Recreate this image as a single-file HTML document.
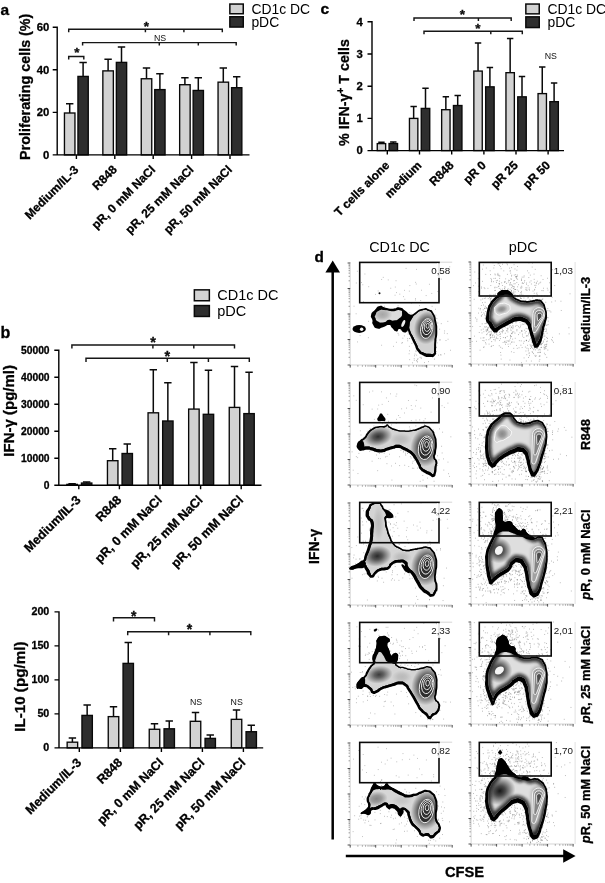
<!DOCTYPE html>
<html lang="en"><head><meta charset="utf-8"><title>Figure</title>
<style>html,body{margin:0;padding:0;background:#fff}svg{display:block}text{font-family:'Liberation Sans', sans-serif}</style>
</head><body>
<svg width="605" height="883" viewBox="0 0 605 883">
<rect width="605" height="883" fill="#fff"/>
<g id="panel-a">
<text x=".4" y="14.8" font-size="15.5" font-weight="bold" stroke="#000" stroke-width=".3">a</text>
<path d="M69.7 113V103.64M66 103.64h7.4" fill="none" stroke="#0a0a0a" stroke-width="1.5"/>
<rect x="64.45" y="113" width="10.5" height="41.9" fill="#d2d2d2" stroke="#080808" stroke-width="1.35"/>
<path d="M83.1 76.41V62.59M79.4 62.59h7.4" fill="none" stroke="#0a0a0a" stroke-width="1.5"/>
<rect x="77.95" y="76.41" width="10.3" height="78.49" fill="#2e2e2e" stroke="#080808" stroke-width="1.35"/>
<path d="M108.1 70.88V59.19M104.4 59.19h7.4" fill="none" stroke="#0a0a0a" stroke-width="1.5"/>
<rect x="102.85" y="70.88" width="10.5" height="84.02" fill="#d2d2d2" stroke="#080808" stroke-width="1.35"/>
<path d="M121.5 62.38V47.06M117.8 47.06h7.4" fill="none" stroke="#0a0a0a" stroke-width="1.5"/>
<rect x="116.35" y="62.38" width="10.3" height="92.52" fill="#2e2e2e" stroke="#080808" stroke-width="1.35"/>
<path d="M146.5 78.75V67.91M142.8 67.91h7.4" fill="none" stroke="#0a0a0a" stroke-width="1.5"/>
<rect x="141.25" y="78.75" width="10.5" height="76.15" fill="#d2d2d2" stroke="#080808" stroke-width="1.35"/>
<path d="M159.9 89.6V73.65M156.2 73.65h7.4" fill="none" stroke="#0a0a0a" stroke-width="1.5"/>
<rect x="154.75" y="89.6" width="10.3" height="65.3" fill="#2e2e2e" stroke="#080808" stroke-width="1.35"/>
<path d="M184.9 84.71V77.69M181.2 77.69h7.4" fill="none" stroke="#0a0a0a" stroke-width="1.5"/>
<rect x="179.65" y="84.71" width="10.5" height="70.19" fill="#d2d2d2" stroke="#080808" stroke-width="1.35"/>
<path d="M198.3 90.45V77.69M194.6 77.69h7.4" fill="none" stroke="#0a0a0a" stroke-width="1.5"/>
<rect x="193.15" y="90.45" width="10.3" height="64.45" fill="#2e2e2e" stroke="#080808" stroke-width="1.35"/>
<path d="M223.3 82.16V68.12M219.6 68.12h7.4" fill="none" stroke="#0a0a0a" stroke-width="1.5"/>
<rect x="218.05" y="82.16" width="10.5" height="72.74" fill="#d2d2d2" stroke="#080808" stroke-width="1.35"/>
<path d="M236.7 87.69V76.84M233 76.84h7.4" fill="none" stroke="#0a0a0a" stroke-width="1.5"/>
<rect x="231.55" y="87.69" width="10.3" height="67.21" fill="#2e2e2e" stroke="#080808" stroke-width="1.35"/>
<path d="M57.2 26.58V154.9H249.5M57.2 154.9h-4.5M57.2 112.36h-4.5M57.2 69.82h-4.5M57.2 27.28h-4.5M76.4 154.9v4M114.8 154.9v4M153.2 154.9v4M191.6 154.9v4M230 154.9v4" fill="none" stroke="#000" stroke-width="1.4"/>
<text x="49.3" y="158.67" font-size="11.3" font-weight="bold" stroke="#000" stroke-width=".3" text-anchor="end">0</text>
<text x="49.3" y="116.13" font-size="11.3" font-weight="bold" stroke="#000" stroke-width=".3" text-anchor="end">20</text>
<text x="49.3" y="73.59" font-size="11.3" font-weight="bold" stroke="#000" stroke-width=".3" text-anchor="end">40</text>
<text x="49.3" y="31.05" font-size="11.3" font-weight="bold" stroke="#000" stroke-width=".3" text-anchor="end">60</text>
<text transform="translate(79.2 170.4) rotate(-45)" font-size="12" font-weight="bold" stroke="#000" stroke-width=".3" text-anchor="end">Medium/IL-3</text>
<text transform="translate(117.6 170.4) rotate(-45)" font-size="12" font-weight="bold" stroke="#000" stroke-width=".3" text-anchor="end">R848</text>
<text transform="translate(156 170.4) rotate(-45)" font-size="12" font-weight="bold" stroke="#000" stroke-width=".3" text-anchor="end">pR, 0 mM NaCl</text>
<text transform="translate(194.4 170.4) rotate(-45)" font-size="12" font-weight="bold" stroke="#000" stroke-width=".3" text-anchor="end">pR, 25 mM NaCl</text>
<text transform="translate(232.8 170.4) rotate(-45)" font-size="12" font-weight="bold" stroke="#000" stroke-width=".3" text-anchor="end">pR, 50 mM NaCl</text>
<text transform="translate(29.6 86.8) rotate(-90)" font-size="14.3" font-weight="bold" stroke="#000" stroke-width=".3" text-anchor="middle">Proliferating cells (%)</text>
<path d="M68.7 32.3V29.3H222.3V32.3M145.4 29.3v3M183.9 29.3v3" fill="none" stroke="#161616" stroke-width="1.45"/>
<text x="146.3" y="30.59" font-size="13.5" font-weight="bold" stroke="#000" stroke-width=".3" text-anchor="middle" fill="#111">*</text>
<path d="M82.6 45.6V42.6H236.2V45.6M159.3 42.6v3M198.3 42.6v3" fill="none" stroke="#161616" stroke-width="1.45"/>
<text x="160" y="41" font-size="8.8" text-anchor="middle" fill="#111">NS</text>
<path d="M68.7 59.5V56.5H83.8V59.5" fill="none" stroke="#161616" stroke-width="1.45"/>
<text x="76.8" y="57.48" font-size="13.5" font-weight="bold" stroke="#000" stroke-width=".3" text-anchor="middle" fill="#111">*</text>
<rect x="229.85" y="4.05" width="13.4" height="9.7" fill="#d2d2d2" stroke="#0a0a0a" stroke-width="1.5"/>
<rect x="229.85" y="16.75" width="13.4" height="10.3" fill="#2e2e2e" stroke="#0a0a0a" stroke-width="1.5"/>
<text x="251.4" y="13.7" font-size="13.9">CD1c DC</text>
<text x="251.4" y="26.7" font-size="13.9">pDC</text>
</g>
<g id="panel-c">
<text x="320.4" y="13.8" font-size="15.5" font-weight="bold" stroke="#000" stroke-width=".3">c</text>
<path d="M381.45 143.61V142.23M378.25 142.23h6.4" fill="none" stroke="#0a0a0a" stroke-width="1.5"/>
<rect x="377.25" y="143.61" width="8.4" height="6.99" fill="#d2d2d2" stroke="#080808" stroke-width="1.35"/>
<path d="M393.3 143.52V142.07M390.1 142.07h6.4" fill="none" stroke="#0a0a0a" stroke-width="1.5"/>
<rect x="389.05" y="143.52" width="8.5" height="7.08" fill="#2e2e2e" stroke="#080808" stroke-width="1.35"/>
<path d="M413.65 118.4V106.49M410.45 106.49h6.4" fill="none" stroke="#0a0a0a" stroke-width="1.5"/>
<rect x="409.45" y="118.4" width="8.4" height="32.2" fill="#d2d2d2" stroke="#080808" stroke-width="1.35"/>
<path d="M425.5 108.42V88.13M422.3 88.13h6.4" fill="none" stroke="#0a0a0a" stroke-width="1.5"/>
<rect x="421.25" y="108.42" width="8.5" height="42.18" fill="#2e2e2e" stroke="#080808" stroke-width="1.35"/>
<path d="M445.85 109.71V96.83M442.65 96.83h6.4" fill="none" stroke="#0a0a0a" stroke-width="1.5"/>
<rect x="441.65" y="109.71" width="8.4" height="40.89" fill="#d2d2d2" stroke="#080808" stroke-width="1.35"/>
<path d="M457.7 105.52V95.54M454.5 95.54h6.4" fill="none" stroke="#0a0a0a" stroke-width="1.5"/>
<rect x="453.45" y="105.52" width="8.5" height="45.08" fill="#2e2e2e" stroke="#080808" stroke-width="1.35"/>
<path d="M478.05 71.07V43.05M474.85 43.05h6.4" fill="none" stroke="#0a0a0a" stroke-width="1.5"/>
<rect x="473.85" y="71.07" width="8.4" height="79.53" fill="#d2d2d2" stroke="#080808" stroke-width="1.35"/>
<path d="M489.9 86.84V67.52M486.7 67.52h6.4" fill="none" stroke="#0a0a0a" stroke-width="1.5"/>
<rect x="485.65" y="86.84" width="8.5" height="63.76" fill="#2e2e2e" stroke="#080808" stroke-width="1.35"/>
<path d="M510.15 72.68V38.54M506.95 38.54h6.4" fill="none" stroke="#0a0a0a" stroke-width="1.5"/>
<rect x="505.95" y="72.68" width="8.4" height="77.92" fill="#d2d2d2" stroke="#080808" stroke-width="1.35"/>
<path d="M522 96.83V76.54M518.8 76.54h6.4" fill="none" stroke="#0a0a0a" stroke-width="1.5"/>
<rect x="517.75" y="96.83" width="8.5" height="53.77" fill="#2e2e2e" stroke="#080808" stroke-width="1.35"/>
<path d="M542.25 93.61V66.88M539.05 66.88h6.4" fill="none" stroke="#0a0a0a" stroke-width="1.5"/>
<rect x="538.05" y="93.61" width="8.4" height="56.99" fill="#d2d2d2" stroke="#080808" stroke-width="1.35"/>
<path d="M554.1 101.66V82.98M550.9 82.98h6.4" fill="none" stroke="#0a0a0a" stroke-width="1.5"/>
<rect x="549.85" y="101.66" width="8.5" height="48.94" fill="#2e2e2e" stroke="#080808" stroke-width="1.35"/>
<path d="M372 21.1V150.6H564M372 150.6h-4.5M372 118.4h-4.5M372 86.2h-4.5M372 54h-4.5M372 21.8h-4.5M387.3 150.6v4M419.5 150.6v4M451.7 150.6v4M483.9 150.6v4M516 150.6v4M548.1 150.6v4" fill="none" stroke="#000" stroke-width="1.4"/>
<text x="362.7" y="154.37" font-size="11.3" font-weight="bold" stroke="#000" stroke-width=".3" text-anchor="end">0</text>
<text x="362.7" y="122.17" font-size="11.3" font-weight="bold" stroke="#000" stroke-width=".3" text-anchor="end">1</text>
<text x="362.7" y="89.97" font-size="11.3" font-weight="bold" stroke="#000" stroke-width=".3" text-anchor="end">2</text>
<text x="362.7" y="57.77" font-size="11.3" font-weight="bold" stroke="#000" stroke-width=".3" text-anchor="end">3</text>
<text x="362.7" y="25.57" font-size="11.3" font-weight="bold" stroke="#000" stroke-width=".3" text-anchor="end">4</text>
<text transform="translate(390.1 166.1) rotate(-45)" font-size="12" font-weight="bold" stroke="#000" stroke-width=".3" text-anchor="end">T cells alone</text>
<text transform="translate(422.3 166.1) rotate(-45)" font-size="12" font-weight="bold" stroke="#000" stroke-width=".3" text-anchor="end">medium</text>
<text transform="translate(454.5 166.1) rotate(-45)" font-size="12" font-weight="bold" stroke="#000" stroke-width=".3" text-anchor="end">R848</text>
<text transform="translate(486.7 166.1) rotate(-45)" font-size="12" font-weight="bold" stroke="#000" stroke-width=".3" text-anchor="end">pR 0</text>
<text transform="translate(518.8 166.1) rotate(-45)" font-size="12" font-weight="bold" stroke="#000" stroke-width=".3" text-anchor="end">pR 25</text>
<text transform="translate(550.9 166.1) rotate(-45)" font-size="12" font-weight="bold" stroke="#000" stroke-width=".3" text-anchor="end">pR 50</text>
<text transform="translate(348.6 92.5) rotate(-90)" font-size="14.3" font-weight="bold" stroke="#000" stroke-width=".3" text-anchor="middle">% IFN-γ<tspan dy="-5" font-size="10">+</tspan><tspan dy="5"> T cells</tspan></text>
<path d="M414 20.9V17.9H511.2V20.9M478.4 17.9v3" fill="none" stroke="#161616" stroke-width="1.45"/>
<text x="462.4" y="18.88" font-size="13.5" font-weight="bold" stroke="#000" stroke-width=".3" text-anchor="middle" fill="#111">*</text>
<path d="M424 34.2V31.2H522.3V34.2M490.8 31.2v3" fill="none" stroke="#161616" stroke-width="1.45"/>
<text x="477.8" y="32.88" font-size="13.5" font-weight="bold" stroke="#000" stroke-width=".3" text-anchor="middle" fill="#111">*</text>
<text x="550.8" y="58.6" font-size="8.8" text-anchor="middle" fill="#111">NS</text>
<rect x="525.85" y="4.05" width="13.4" height="9.8" fill="#d2d2d2" stroke="#0a0a0a" stroke-width="1.5"/>
<rect x="525.85" y="16.85" width="13.4" height="10.7" fill="#2e2e2e" stroke="#0a0a0a" stroke-width="1.5"/>
<text x="547.5" y="13.7" font-size="13.9">CD1c DC</text>
<text x="547.5" y="26.7" font-size="13.9">pDC</text>
</g>
<g id="panel-b1">
<text x=".4" y="337.8" font-size="16" font-weight="bold" stroke="#000" stroke-width=".3">b</text>
<path d="M72.1 484.39V483.85M68.4 483.85h7.4" fill="none" stroke="#0a0a0a" stroke-width="1.5"/>
<rect x="66.85" y="484.39" width="10.5" height=".81" fill="#d2d2d2" stroke="#080808" stroke-width="1.35"/>
<path d="M86.65 483.04V482.09M82.95 482.09h7.4" fill="none" stroke="#0a0a0a" stroke-width="1.5"/>
<rect x="81.45" y="483.04" width="10.4" height="2.16" fill="#2e2e2e" stroke="#080808" stroke-width="1.35"/>
<path d="M112.7 460.7V448.8M109 448.8h7.4" fill="none" stroke="#0a0a0a" stroke-width="1.5"/>
<rect x="107.45" y="460.7" width="10.5" height="24.5" fill="#d2d2d2" stroke="#080808" stroke-width="1.35"/>
<path d="M127.25 453.5V444M123.55 444h7.4" fill="none" stroke="#0a0a0a" stroke-width="1.5"/>
<rect x="122.05" y="453.5" width="10.4" height="31.7" fill="#2e2e2e" stroke="#080808" stroke-width="1.35"/>
<path d="M153.3 412.81V369.69M149.6 369.69h7.4" fill="none" stroke="#0a0a0a" stroke-width="1.5"/>
<rect x="148.05" y="412.81" width="10.5" height="72.39" fill="#d2d2d2" stroke="#080808" stroke-width="1.35"/>
<path d="M167.85 420.99V382.79M164.15 382.79h7.4" fill="none" stroke="#0a0a0a" stroke-width="1.5"/>
<rect x="162.65" y="420.99" width="10.4" height="64.21" fill="#2e2e2e" stroke="#080808" stroke-width="1.35"/>
<path d="M193.9 409.09V362.51M190.2 362.51h7.4" fill="none" stroke="#0a0a0a" stroke-width="1.5"/>
<rect x="188.65" y="409.09" width="10.5" height="76.11" fill="#d2d2d2" stroke="#080808" stroke-width="1.35"/>
<path d="M208.45 414.3V370.18M204.75 370.18h7.4" fill="none" stroke="#0a0a0a" stroke-width="1.5"/>
<rect x="203.25" y="414.3" width="10.4" height="70.9" fill="#2e2e2e" stroke="#080808" stroke-width="1.35"/>
<path d="M234.5 407.41V366.51M230.8 366.51h7.4" fill="none" stroke="#0a0a0a" stroke-width="1.5"/>
<rect x="229.25" y="407.41" width="10.5" height="77.79" fill="#d2d2d2" stroke="#080808" stroke-width="1.35"/>
<path d="M249.05 413.6V372.2M245.35 372.2h7.4" fill="none" stroke="#0a0a0a" stroke-width="1.5"/>
<rect x="243.85" y="413.6" width="10.4" height="71.6" fill="#2e2e2e" stroke="#080808" stroke-width="1.35"/>
<path d="M58.8 349.5V485.2H261.5M58.8 485.2h-4.5M58.8 458.2h-4.5M58.8 431.2h-4.5M58.8 404.2h-4.5M58.8 377.2h-4.5M58.8 350.2h-4.5M78.8 485.2v4M119.4 485.2v4M160 485.2v4M200.6 485.2v4M241.2 485.2v4" fill="none" stroke="#000" stroke-width="1.4"/>
<text x="49.6" y="488.61" font-size="10.3" font-weight="bold" stroke="#000" stroke-width=".3" text-anchor="end">0</text>
<text x="49.6" y="461.61" font-size="10.3" font-weight="bold" stroke="#000" stroke-width=".3" text-anchor="end">10000</text>
<text x="49.6" y="434.61" font-size="10.3" font-weight="bold" stroke="#000" stroke-width=".3" text-anchor="end">20000</text>
<text x="49.6" y="407.61" font-size="10.3" font-weight="bold" stroke="#000" stroke-width=".3" text-anchor="end">30000</text>
<text x="49.6" y="380.61" font-size="10.3" font-weight="bold" stroke="#000" stroke-width=".3" text-anchor="end">40000</text>
<text x="49.6" y="353.61" font-size="10.3" font-weight="bold" stroke="#000" stroke-width=".3" text-anchor="end">50000</text>
<text transform="translate(81.6 500.7) rotate(-45)" font-size="12.7" font-weight="bold" stroke="#000" stroke-width=".3" text-anchor="end">Medium/IL-3</text>
<text transform="translate(122.2 500.7) rotate(-45)" font-size="12.7" font-weight="bold" stroke="#000" stroke-width=".3" text-anchor="end">R848</text>
<text transform="translate(162.8 500.7) rotate(-45)" font-size="12.7" font-weight="bold" stroke="#000" stroke-width=".3" text-anchor="end">pR, 0 mM NaCl</text>
<text transform="translate(203.4 500.7) rotate(-45)" font-size="12.7" font-weight="bold" stroke="#000" stroke-width=".3" text-anchor="end">pR, 25 mM NaCl</text>
<text transform="translate(244 500.7) rotate(-45)" font-size="12.7" font-weight="bold" stroke="#000" stroke-width=".3" text-anchor="end">pR, 50 mM NaCl</text>
<text transform="translate(13.6 410.8) rotate(-90)" font-size="15" font-weight="bold" stroke="#000" stroke-width=".3" text-anchor="middle">IFN-γ (pg/ml)</text>
<path d="M71.9 348.6V345H234.5V348.6M152.9 345v3.6M193.8 345v3.6" fill="none" stroke="#161616" stroke-width="1.45"/>
<text x="153" y="347.29" font-size="14.5" font-weight="bold" stroke="#000" stroke-width=".3" text-anchor="middle" fill="#111">*</text>
<path d="M86 361.9V358.3H249.3V361.9M167.3 358.3v3.6M208.4 358.3v3.6" fill="none" stroke="#161616" stroke-width="1.45"/>
<text x="167.4" y="361.19" font-size="14.5" font-weight="bold" stroke="#000" stroke-width=".3" text-anchor="middle" fill="#111">*</text>
<rect x="194.35" y="289.85" width="15" height="10.9" fill="#d2d2d2" stroke="#0a0a0a" stroke-width="1.5"/>
<rect x="194.35" y="305.55" width="15" height="10.9" fill="#2e2e2e" stroke="#0a0a0a" stroke-width="1.5"/>
<text x="217.3" y="300.4" font-size="14.5">CD1c DC</text>
<text x="217.3" y="315.7" font-size="14.5">pDC</text>
</g>
<g id="panel-b2">
<path d="M72.4 742.19V737.9M68.7 737.9h7.4" fill="none" stroke="#0a0a0a" stroke-width="1.5"/>
<rect x="67.15" y="742.19" width="10.5" height="5.71" fill="#d2d2d2" stroke="#080808" stroke-width="1.35"/>
<path d="M87.15 715.4V705.06M83.45 705.06h7.4" fill="none" stroke="#0a0a0a" stroke-width="1.5"/>
<rect x="81.95" y="715.4" width="10.4" height="32.5" fill="#2e2e2e" stroke="#080808" stroke-width="1.35"/>
<path d="M113.5 716.62V706.69M109.8 706.69h7.4" fill="none" stroke="#0a0a0a" stroke-width="1.5"/>
<rect x="108.25" y="716.62" width="10.5" height="31.28" fill="#d2d2d2" stroke="#080808" stroke-width="1.35"/>
<path d="M128.25 663.38V642.57M124.55 642.57h7.4" fill="none" stroke="#0a0a0a" stroke-width="1.5"/>
<rect x="123.05" y="663.38" width="10.4" height="84.52" fill="#2e2e2e" stroke="#080808" stroke-width="1.35"/>
<path d="M154.5 729.27V723.83M150.8 723.83h7.4" fill="none" stroke="#0a0a0a" stroke-width="1.5"/>
<rect x="149.25" y="729.27" width="10.5" height="18.63" fill="#d2d2d2" stroke="#080808" stroke-width="1.35"/>
<path d="M169.25 728.79V721.11M165.55 721.11h7.4" fill="none" stroke="#0a0a0a" stroke-width="1.5"/>
<rect x="164.05" y="728.79" width="10.4" height="19.11" fill="#2e2e2e" stroke="#080808" stroke-width="1.35"/>
<path d="M195.5 721.31V712.4M191.8 712.4h7.4" fill="none" stroke="#0a0a0a" stroke-width="1.5"/>
<rect x="190.25" y="721.31" width="10.5" height="26.59" fill="#d2d2d2" stroke="#080808" stroke-width="1.35"/>
<path d="M210.25 738.38V734.98M206.55 734.98h7.4" fill="none" stroke="#0a0a0a" stroke-width="1.5"/>
<rect x="205.05" y="738.38" width="10.4" height="9.52" fill="#2e2e2e" stroke="#080808" stroke-width="1.35"/>
<path d="M236.5 719.34V709.89M232.8 709.89h7.4" fill="none" stroke="#0a0a0a" stroke-width="1.5"/>
<rect x="231.25" y="719.34" width="10.5" height="28.56" fill="#d2d2d2" stroke="#080808" stroke-width="1.35"/>
<path d="M251.25 731.72V725.32M247.55 725.32h7.4" fill="none" stroke="#0a0a0a" stroke-width="1.5"/>
<rect x="246.05" y="731.72" width="10.4" height="16.18" fill="#2e2e2e" stroke="#080808" stroke-width="1.35"/>
<path d="M59 611.2V747.9H263.2M59 747.9h-4.5M59 713.9h-4.5M59 679.9h-4.5M59 645.9h-4.5M59 611.9h-4.5M79.3 747.9v4M120.4 747.9v4M161.4 747.9v4M202.4 747.9v4M243.4 747.9v4" fill="none" stroke="#000" stroke-width="1.4"/>
<text x="49.3" y="751.45" font-size="10.7" font-weight="bold" stroke="#000" stroke-width=".3" text-anchor="end">0</text>
<text x="49.3" y="717.45" font-size="10.7" font-weight="bold" stroke="#000" stroke-width=".3" text-anchor="end">50</text>
<text x="49.3" y="683.45" font-size="10.7" font-weight="bold" stroke="#000" stroke-width=".3" text-anchor="end">100</text>
<text x="49.3" y="649.45" font-size="10.7" font-weight="bold" stroke="#000" stroke-width=".3" text-anchor="end">150</text>
<text x="49.3" y="615.45" font-size="10.7" font-weight="bold" stroke="#000" stroke-width=".3" text-anchor="end">200</text>
<text transform="translate(82.1 763.4) rotate(-45)" font-size="12.5" font-weight="bold" stroke="#000" stroke-width=".3" text-anchor="end">Medium/IL-3</text>
<text transform="translate(123.2 763.4) rotate(-45)" font-size="12.5" font-weight="bold" stroke="#000" stroke-width=".3" text-anchor="end">R848</text>
<text transform="translate(164.2 763.4) rotate(-45)" font-size="12.5" font-weight="bold" stroke="#000" stroke-width=".3" text-anchor="end">pR, 0 mM NaCl</text>
<text transform="translate(205.2 763.4) rotate(-45)" font-size="12.5" font-weight="bold" stroke="#000" stroke-width=".3" text-anchor="end">pR, 25 mM NaCl</text>
<text transform="translate(246.2 763.4) rotate(-45)" font-size="12.5" font-weight="bold" stroke="#000" stroke-width=".3" text-anchor="end">pR, 50 mM NaCl</text>
<text transform="translate(24.5 686.7) rotate(-90)" font-size="15.2" font-weight="bold" stroke="#000" stroke-width=".3" text-anchor="middle">IL-10 (pg/ml)</text>
<path d="M113.5 621.4V617.8H154.5V621.4" fill="none" stroke="#161616" stroke-width="1.45"/>
<text x="133.7" y="620.74" font-size="14" font-weight="bold" stroke="#000" stroke-width=".3" text-anchor="middle" fill="#111">*</text>
<path d="M127.7 635.3V631.7H250.8V635.3M168.6 631.7v3.6M209.9 631.7v3.6" fill="none" stroke="#161616" stroke-width="1.45"/>
<text x="189.5" y="634.44" font-size="14" font-weight="bold" stroke="#000" stroke-width=".3" text-anchor="middle" fill="#111">*</text>
<text x="196" y="704.9" font-size="8.8" text-anchor="middle" fill="#111">NS</text>
<text x="236.7" y="704.9" font-size="8.8" text-anchor="middle" fill="#111">NS</text>
</g>
<g id="panel-d">
<defs><filter id="bl" x="-20%" y="-20%" width="140%" height="140%"><feGaussianBlur stdDeviation="7"/></filter></defs>
<text x="314.6" y="261.8" font-size="15.3" font-weight="bold" stroke="#000" stroke-width=".3">d</text>
<text x="399.6" y="252.4" font-size="14.4" text-anchor="middle">CD1c DC</text>
<text x="523.2" y="251.8" font-size="14.4" text-anchor="middle">pDC</text>
<path d="M332.7 839.5V268" fill="none" stroke="#000" stroke-width="2.5"/>
<path d="M332.7 260.6L340 272.4H325.4Z" fill="#000"/>
<path d="M345.8 856H566" fill="none" stroke="#000" stroke-width="2.3"/>
<path d="M575.6 856L563.2 849.2V862.8Z" fill="#000"/>
<text transform="translate(318.6 546.5) rotate(-90)" font-size="14" font-weight="bold" stroke="#000" stroke-width=".3" text-anchor="middle">IFN-γ</text>
<text x="464.5" y="877.4" font-size="14.7" font-weight="bold" stroke="#000" stroke-width=".3" text-anchor="middle">CFSE</text>
<path d="M350.2 262V365H452.2" fill="none" stroke="#c4c4c4" stroke-width=".7"/>
<path d="M350.2 365v2.6M350.2 365h-2.6M375.7 365v2.6M350.2 339.5h-2.6M401.2 365v2.6M350.2 314h-2.6M426.7 365v2.6M350.2 288.5h-2.6M452.2 365v2.6M350.2 263h-2.6" fill="none" stroke="#3a3a3a" stroke-width=".9"/>
<path d="M357.88 365.3v1.3M349.9 357.32h-1.3M362.37 365.3v1.3M349.9 352.83h-1.3M365.55 365.3v1.3M349.9 349.65h-1.3M368.02 365.3v1.3M349.9 347.18h-1.3M370.04 365.3v1.3M349.9 345.16h-1.3M371.75 365.3v1.3M349.9 343.45h-1.3M373.23 365.3v1.3M349.9 341.97h-1.3M374.53 365.3v1.3M349.9 340.67h-1.3M383.38 365.3v1.3M349.9 331.82h-1.3M387.87 365.3v1.3M349.9 327.33h-1.3M391.05 365.3v1.3M349.9 324.15h-1.3M393.52 365.3v1.3M349.9 321.68h-1.3M395.54 365.3v1.3M349.9 319.66h-1.3M397.25 365.3v1.3M349.9 317.95h-1.3M398.73 365.3v1.3M349.9 316.47h-1.3M400.03 365.3v1.3M349.9 315.17h-1.3M408.88 365.3v1.3M349.9 306.32h-1.3M413.37 365.3v1.3M349.9 301.83h-1.3M416.55 365.3v1.3M349.9 298.65h-1.3M419.02 365.3v1.3M349.9 296.18h-1.3M421.04 365.3v1.3M349.9 294.16h-1.3M422.75 365.3v1.3M349.9 292.45h-1.3M424.23 365.3v1.3M349.9 290.97h-1.3M425.53 365.3v1.3M349.9 289.67h-1.3M434.38 365.3v1.3M349.9 280.82h-1.3M438.87 365.3v1.3M349.9 276.33h-1.3M442.05 365.3v1.3M349.9 273.15h-1.3M444.52 365.3v1.3M349.9 270.68h-1.3M446.54 365.3v1.3M349.9 268.66h-1.3M448.25 365.3v1.3M349.9 266.95h-1.3M449.73 365.3v1.3M349.9 265.47h-1.3M451.03 365.3v1.3M349.9 264.17h-1.3" fill="none" stroke="#777" stroke-width=".8"/>
<path d="M439 262.2H452.2" fill="none" stroke="#c4c4c4" stroke-width=".7"/>
<path d="M383.23 277.39h.01M416.6 269.39h.01M404.86 299.3h.01M356.12 313.76h.01M354.02 306.23h.01M357.33 271.25h.01M393.5 346.34h.01M362.83 284.77h.01M414.2 358.67h.01M409.06 302.46h.01M449.78 266.75h.01M437.76 291.54h.01M364.91 274.01h.01M381.67 345.24h.01M368.63 321.32h.01M415.37 299.98h.01M406.07 268.4h.01M356.28 283.01h.01M419.6 305.61h.01M382.24 321.73h.01M396.42 292.58h.01M431.23 333.3h.01M396.36 342.29h.01M392.65 312.56h.01M407.14 323.13h.01M360.05 335.59h.01M411.26 337.24h.01M429.77 329.07h.01M398.06 305.81h.01M409.97 315.44h.01M384.34 306.29h.01M371.98 316.56h.01M426.13 295.55h.01M360.22 327.35h.01M429.84 332.1h.01M403.78 313.69h.01M368.33 337.68h.01M421.64 326.2h.01M401.1 330.08h.01M433.46 332.67h.01M407.65 331.67h.01M357.56 341.94h.01M418.12 331.41h.01M415.42 298.64h.01M395.05 295.21h.01M363.49 301.71h.01M415.65 282.35h.01M409.3 291.15h.01M403.57 296.6h.01M381.68 279.44h.01M429.37 284.29h.01M375.55 294.41h.01M441.23 279.11h.01M361.56 282.52h.01M396.03 280.72h.01M439.53 272.7h.01M435.5 270.05h.01M378.16 290.95h.01M431.8 293.45h.01M409.87 285.57h.01M404.47 290.33h.01M395.27 287.05h.01M416.24 284.01h.01M421.59 290.22h.01M388.23 279.9h.01M399.83 294.16h.01M390.78 288.24h.01M368.73 286.68h.01" fill="none" stroke="#808080" stroke-width=".58" stroke-linecap="round"/>
<path d="M417.4 319.54h.01M432.33 326.92h.01M441.1 354.94h.01M409.31 338.52h.01M429.05 315.18h.01M409.46 350.79h.01M428.12 348.17h.01M409.72 359.65h.01M437.86 323.01h.01M424.79 333.2h.01M431.62 313.05h.01M444.55 353.79h.01M417.41 359.3h.01M412.39 327.61h.01M417.34 349.73h.01M402.86 338.21h.01M417.83 313.56h.01M411.74 337.9h.01M414.52 355.81h.01M433.91 315.91h.01M402.59 324.21h.01M415.95 350.76h.01M440.38 354.78h.01M421.93 313.3h.01M412.73 327.83h.01M428.69 343.08h.01M423.53 320.41h.01M411.28 314.2h.01M434.27 334.3h.01M409.82 312.72h.01M447.24 333.65h.01M401.76 343.14h.01M425.96 350.03h.01M446 340.54h.01M420.73 300.52h.01M416.14 347.56h.01M430.54 321.17h.01M420.05 348.98h.01M408.92 330.23h.01M433.5 318.84h.01M415.98 351.63h.01M434.01 348.44h.01M418 317.34h.01M404.15 331.93h.01M407.73 340.81h.01M414.06 315.91h.01M411.64 303.14h.01M414.95 354.1h.01M421.21 358.57h.01M424.55 362.58h.01M412.64 362.82h.01M415.69 314.38h.01M416.26 335.43h.01M436.45 347.43h.01M426.82 309.85h.01M417.08 361.27h.01M413.92 323.33h.01M417.6 362.03h.01M416.74 320h.01M439.73 340.01h.01M407.53 326.41h.01M420.21 351.58h.01M418.46 323.96h.01M432.52 317.75h.01M417.98 358.79h.01M430.4 318.46h.01M409.81 338.43h.01M435.44 309.24h.01M436.91 318.65h.01M424.31 309.01h.01M439.69 329.23h.01M435.41 330.85h.01M428.55 361.64h.01M428.19 346.66h.01M403.86 331.05h.01M432.97 331.25h.01M419.88 344.68h.01M420.06 357.38h.01M415.12 316.35h.01M427.02 352.92h.01M448.06 339.24h.01M428.57 344.64h.01M421.17 357.28h.01M435.86 318.32h.01M431.03 347.16h.01M425.05 354.54h.01M418.42 322.97h.01M416.19 329.2h.01M425.32 349.02h.01M444.36 333.1h.01M416.66 355.16h.01M436.44 351.53h.01M436.52 340.85h.01M434.39 359.14h.01M416.25 347.64h.01M437.12 342.87h.01M434.77 322.23h.01M435.15 317.13h.01M403.28 324.05h.01M409.12 353.78h.01M450.44 350.26h.01M435.89 315.23h.01M404.3 335.83h.01M438.58 355.19h.01M411.89 343.41h.01M398.8 335.03h.01M440.22 339.85h.01M447.84 321.35h.01M441.24 323.66h.01M407.4 338.73h.01M444.65 330.94h.01M432.1 306.31h.01M421.59 322.54h.01M428.85 314.37h.01M433.97 302.63h.01M414.25 360.32h.01M434.86 326.07h.01M413.44 339.58h.01M417.49 311.29h.01M421.83 337.62h.01M398.07 333.38h.01M402.51 342.62h.01M409.33 346.34h.01M408.06 334.04h.01M432.4 350.25h.01M416.57 360.44h.01" fill="none" stroke="#777" stroke-width=".58" stroke-linecap="round"/>
<g transform="translate(320 240) scale(.24795)">
<circle cx="240" cy="215" r="4" fill="#111"/>
<ellipse cx="158" cy="359" rx="27" ry="16" fill="#000"/>
<ellipse cx="168" cy="360" rx="7" ry="7" fill="#f4f4f4"/>
<path d="M206 302C209 289 209 294 221 282C233 270 227 269 241 266C255 263 246 269 264 273C282 277 275 277 294 277C313 277 304 269 321 272C338 275 331 276 344 285C357 294 349 292 361 299C373 306 376 296 380 306C384 316 377 317 372 330C367 343 370 333 364 345C358 357 363 356 354 365C345 374 349 374 338 372C327 370 331 360 321 359C311 358 318 370 308 369C298 368 301 364 291 355C281 346 290 344 278 343C266 342 270 347 254 352C238 357 244 360 231 357C218 354 221 354 214 342C207 330 214 335 211 322C208 309 203 315 206 302Z" fill="#000"/>
<clipPath id="cl0"><path d="M224 302C229 292 225 291 238 285C251 279 245 282 264 283C283 284 275 287 294 287C313 287 309 280 321 283C333 286 331 284 331 295C331 306 332 305 321 315C310 325 312 323 298 325C284 327 291 320 278 322C265 324 273 330 258 332C243 334 245 335 234 329C223 323 227 324 224 315C221 306 219 312 224 302Z"/></clipPath>
<path d="M224 302C229 292 225 291 238 285C251 279 245 282 264 283C283 284 275 287 294 287C313 287 309 280 321 283C333 286 331 284 331 295C331 306 332 305 321 315C310 325 312 323 298 325C284 327 291 320 278 322C265 324 273 330 258 332C243 334 245 335 234 329C223 323 227 324 224 315C221 306 219 312 224 302Z" fill="#dcdcdc"/>
<g clip-path="url(#cl0)">
<radialGradient id="g1" gradientUnits="userSpaceOnUse" cx="252" cy="300" r="40" gradientTransform="translate(252 300) rotate(0) scale(1 .7) translate(-252 -300)"><stop offset="0" stop-color="#999" stop-opacity=".8"/><stop offset=".45" stop-color="#999" stop-opacity=".6"/><stop offset="1" stop-color="#999" stop-opacity="0"/></radialGradient>
<rect x="172" y="220" width="160" height="160" fill="url(#g1)"/>
</g>
<ellipse cx="336" cy="337" rx="6" ry="15" transform="rotate(22 336 337)" fill="#eee"/>
<clipPath id="c1o"><path d="M354 342C357 324 354 332 364 315C374 298 367 305 384 292C401 279 396 281 414 277C432 273 423 273 438 279C453 285 448 278 458 295C468 312 464 304 469 329C474 354 473 342 473 369C473 396 471 385 469 409C467 433 470 423 468 442C466 461 473 455 464 465C455 475 458 472 441 472C424 472 430 473 414 465C398 457 405 463 394 449C383 435 390 440 381 422C372 404 376 413 368 395C360 377 361 387 356 369C351 351 351 360 354 342Z"/></clipPath><clipPath id="c1"><path d="M361 343C363 327 361 334 370 318C379 303 373 309 388 297C403 285 399 287 415 283C431 279 423 280 436 285C448 290 444 284 453 299C461 314 458 307 462 330C467 354 466 343 466 369C466 395 463 384 462 409C460 433 462 425 460 441C459 458 463 453 457 459C450 464 453 460 441 459C428 458 432 461 419 455C406 450 412 455 402 443C392 431 398 435 389 418C381 401 384 408 376 391C368 374 369 383 364 367C359 351 359 359 361 343Z"/></clipPath>
<path d="M354 342C357 324 354 332 364 315C374 298 367 305 384 292C401 279 396 281 414 277C432 273 423 273 438 279C453 285 448 278 458 295C468 312 464 304 469 329C474 354 473 342 473 369C473 396 471 385 469 409C467 433 470 423 468 442C466 461 473 455 464 465C455 475 458 472 441 472C424 472 430 473 414 465C398 457 405 463 394 449C383 435 390 440 381 422C372 404 376 413 368 395C360 377 361 387 356 369C351 351 351 360 354 342Z" fill="#000"/>
<g clip-path="url(#c1o)"><g clip-path="url(#c1)">
<path d="M361 343C363 327 361 334 370 318C379 303 373 309 388 297C403 285 399 287 415 283C431 279 423 280 436 285C448 290 444 284 453 299C461 314 458 307 462 330C467 354 466 343 466 369C466 395 463 384 462 409C460 433 462 425 460 441C459 458 463 453 457 459C450 464 453 460 441 459C428 458 432 461 419 455C406 450 412 455 402 443C392 431 398 435 389 418C381 401 384 408 376 391C368 374 369 383 364 367C359 351 359 359 361 343Z" fill="#d2d2d2"/>
<radialGradient id="g2" gradientUnits="userSpaceOnUse" cx="431" cy="354" r="52" gradientTransform="translate(431 354) rotate(10) scale(1 1.29) translate(-431 -354)"><stop offset="0" stop-color="#1a1a1a" stop-opacity=".95"/><stop offset=".5" stop-color="#1a1a1a" stop-opacity=".71"/><stop offset="1" stop-color="#1a1a1a" stop-opacity="0"/></radialGradient>
<rect x="297" y="220" width="268" height="268" fill="url(#g2)"/>
<ellipse cx="430.48" cy="356.92" rx="24.36" ry="40.32" transform="rotate(10 430.48 356.92)" fill="#2e2e2e"/>
<ellipse cx="430.48" cy="356.92" rx="24.36" ry="40.32" transform="rotate(10 430.48 356.92)" fill="none" stroke="#fff" stroke-width="3.4"/>
<ellipse cx="432" cy="351.88" rx="18.48" ry="30.24" transform="rotate(10 432 351.88)" fill="none" stroke="#fff" stroke-width="3.4"/>
<ellipse cx="433" cy="348.52" rx="12.6" ry="20.16" transform="rotate(8 433 348.52)" fill="none" stroke="#fff" stroke-width="3.3"/>
<ellipse cx="434" cy="346" rx="6.3" ry="10.08" transform="rotate(5 434 346)" fill="none" stroke="#fff" stroke-width="3.2"/>
</g></g>
</g>
<rect x="359.7" y="262.4" width="79.3" height="40.3" fill="none" stroke="#0a0a0a" stroke-width="1.6"/>
<rect x="437" y="263.3" width="4" height="14.6" fill="#fff"/>
<path d="M439 263.3v14.6" stroke="#b8b8b8" stroke-width=".6"/>
<text x="431.2" y="273.5" font-size="9.8" fill="#141414">0,58</text>
<path d="M471.1 262V364H573.6" fill="none" stroke="#c4c4c4" stroke-width=".7"/>
<path d="M575.1 262V364" fill="none" stroke="#d4d4d4" stroke-width=".7"/>
<path d="M471.1 364v2.6M471.1 364h-2.6M496.6 364v2.6M471.1 338.5h-2.6M522.1 364v2.6M471.1 313h-2.6M547.6 364v2.6M471.1 287.5h-2.6M573.1 364v2.6M471.1 262h-2.6" fill="none" stroke="#3a3a3a" stroke-width=".9"/>
<path d="M478.78 364.3v1.3M470.8 356.32h-1.3M483.27 364.3v1.3M470.8 351.83h-1.3M486.45 364.3v1.3M470.8 348.65h-1.3M488.92 364.3v1.3M470.8 346.18h-1.3M490.94 364.3v1.3M470.8 344.16h-1.3M492.65 364.3v1.3M470.8 342.45h-1.3M494.13 364.3v1.3M470.8 340.97h-1.3M495.43 364.3v1.3M470.8 339.67h-1.3M504.28 364.3v1.3M470.8 330.82h-1.3M508.77 364.3v1.3M470.8 326.33h-1.3M511.95 364.3v1.3M470.8 323.15h-1.3M514.42 364.3v1.3M470.8 320.68h-1.3M516.44 364.3v1.3M470.8 318.66h-1.3M518.15 364.3v1.3M470.8 316.95h-1.3M519.63 364.3v1.3M470.8 315.47h-1.3M520.93 364.3v1.3M470.8 314.17h-1.3M529.78 364.3v1.3M470.8 305.32h-1.3M534.27 364.3v1.3M470.8 300.83h-1.3M537.45 364.3v1.3M470.8 297.65h-1.3M539.92 364.3v1.3M470.8 295.18h-1.3M541.94 364.3v1.3M470.8 293.16h-1.3M543.65 364.3v1.3M470.8 291.45h-1.3M545.13 364.3v1.3M470.8 289.97h-1.3M546.43 364.3v1.3M470.8 288.67h-1.3M555.28 364.3v1.3M470.8 279.82h-1.3M559.77 364.3v1.3M470.8 275.33h-1.3M562.95 364.3v1.3M470.8 272.15h-1.3M565.42 364.3v1.3M470.8 269.68h-1.3M567.44 364.3v1.3M470.8 267.66h-1.3M569.15 364.3v1.3M470.8 265.95h-1.3M570.63 364.3v1.3M470.8 264.47h-1.3M571.93 364.3v1.3M470.8 263.17h-1.3" fill="none" stroke="#777" stroke-width=".8"/>
<path d="M536.94 292.99h.01M484.15 287.68h.01M536 333.26h.01M482.54 269.18h.01M524.59 321.45h.01M510.68 284.81h.01M532.41 263.07h.01M501.86 308.99h.01M568.91 327.75h.01M561.24 310.48h.01M495.05 287.2h.01M569.08 333.87h.01M502.45 264.22h.01M521.93 330.8h.01M513.94 288.24h.01M539.17 356.37h.01M494.23 265.48h.01M505.58 304.9h.01M540.72 282.2h.01M552.4 337.39h.01M522.6 282.93h.01M570.03 293.8h.01M554.74 285.54h.01M493.69 339.57h.01M501.18 359.1h.01M490.22 324.31h.01M506.57 342.44h.01M478.36 286.19h.01M515.22 338.32h.01M507.2 328.57h.01M521.68 330.64h.01M536.37 301.71h.01M519.35 317.3h.01M521.58 362.77h.01M502.98 319.42h.01M493.11 308.92h.01M490.49 335.51h.01M503.84 325.19h.01M499.63 340.46h.01M512.98 321.45h.01M516.39 321.27h.01M480.04 350.2h.01M512.41 306.77h.01M524.68 330.21h.01M509.77 340.05h.01M507.06 321.31h.01M472.14 341.49h.01M503.7 318.84h.01M510.12 325.41h.01M516.61 317.32h.01M502.37 285.5h.01M494.63 336.16h.01M529.83 317.45h.01M500.67 352.5h.01M496.58 337.21h.01M536.67 324.72h.01M527.64 311.21h.01M507.25 322.61h.01M505.4 344.33h.01M550.9 312.02h.01M491.6 332.95h.01M482 332.95h.01M514.54 319h.01M513.72 296.11h.01M518.3 296.19h.01M489.17 313.99h.01M495.08 339.46h.01M504.73 316.85h.01M513.97 352.46h.01M503.22 330.58h.01M527.89 328.82h.01M547.27 288.27h.01M502.32 331.51h.01M522.41 336.04h.01M497.66 305.03h.01M505.16 342.6h.01M481.31 305.51h.01M502.61 289.13h.01M497.89 316.14h.01M512.12 311.37h.01M485.46 316.9h.01M502.1 312.04h.01M503.34 337.5h.01M526.8 354.69h.01M487.43 316.44h.01M488.61 323.4h.01M513.55 299.55h.01M512.38 323.52h.01M526.99 290.38h.01M519.24 327.77h.01M512.6 331.95h.01M529.18 319.97h.01M520.57 316.62h.01M517.66 309.35h.01M500.93 355.16h.01M512.01 321.15h.01M480.2 309.78h.01M506.97 340.91h.01M511.62 333.43h.01M502.26 348.34h.01M495.28 314.11h.01M520.86 325.14h.01M497.53 313.63h.01M497.96 335.22h.01M510.17 302.23h.01M511.63 327.22h.01M483.1 337.91h.01M497.49 317.96h.01M519.02 347.77h.01M489.33 331.89h.01M493.22 345.51h.01M490.15 338.6h.01M547.48 278.26h.01M494.41 333.01h.01M501.24 311.97h.01M546.14 325.43h.01M499.54 283.45h.01M536.32 283.18h.01M483.28 265.04h.01M534.75 289.4h.01M494.78 290.6h.01M521.03 288.48h.01M529.11 289.33h.01M514.48 286.92h.01M562.14 272.46h.01M504.51 282.36h.01M528.82 277.57h.01M534.04 274.12h.01M516.44 276.73h.01M514.26 275.09h.01M479.15 292.93h.01M517.17 276.41h.01M515.12 291.9h.01M491.55 280.9h.01M521.88 287.26h.01M535.96 285.28h.01M511.36 279.21h.01M516.37 277.74h.01M490.61 274.6h.01M499.16 275.88h.01M487.93 288.36h.01M484.9 288.6h.01M490.81 285.52h.01M538.58 284.03h.01M496.48 282.48h.01M514.06 264.66h.01M498.95 283.63h.01M501.72 282.8h.01M525.78 289.67h.01M529.21 287.89h.01M505.34 281.82h.01M505.68 278.87h.01M507.51 264.75h.01M504.44 281.76h.01M491.62 281.76h.01M521.41 280.36h.01M506.97 263.75h.01M530.7 308.54h.01M521.48 278.98h.01M528.14 285.72h.01M511.56 276.12h.01M523.87 277.15h.01M515.56 276.9h.01M515.14 289.54h.01M493.58 281.67h.01M523.44 283.45h.01M535.95 301.92h.01M492.93 262.79h.01M528.23 297.29h.01M529.55 290.14h.01M498.73 274.86h.01M528.87 272.88h.01M474.83 272.02h.01M560.95 301.23h.01M497.37 274.71h.01M515.73 274.51h.01M537.3 281.22h.01M489.37 295.09h.01M499.44 284.21h.01M510.85 278.86h.01M517.6 275.08h.01M485.77 274.42h.01M510.64 282.55h.01M522.22 283.2h.01M495.23 274.91h.01M520.8 287.3h.01M508.67 280.26h.01M529.83 282.15h.01M525.86 287.83h.01M515.36 295.06h.01M499.65 278.41h.01M494.94 274.03h.01M542.22 299.59h.01M511.56 287.68h.01M534.61 290.07h.01M535.21 269.37h.01M498.31 286.53h.01M539.81 283.04h.01M493.93 278.45h.01M497.89 273.42h.01M541.12 275.74h.01M511.51 303.62h.01M534.79 285.36h.01M498.86 286.1h.01M543.53 288.23h.01M536.33 282.98h.01M521.43 279.99h.01M519.64 295h.01M482.48 281.37h.01M515.91 276.29h.01M504.94 289.87h.01M551.13 288.29h.01M517.62 266.49h.01M549.65 282.77h.01M510.42 270.82h.01M509.96 271.04h.01M512.52 286.66h.01M511.72 284.8h.01M494.06 296.3h.01M498.04 263.82h.01M507.35 274.36h.01M490.9 278.45h.01M516.92 270.18h.01M508.35 296.27h.01M524.75 280.48h.01M513.65 280.8h.01M510.14 289.32h.01M510.67 273.11h.01M524.13 275.9h.01M514.07 303.77h.01M490.16 270.75h.01M473.53 285.65h.01M498.34 263.32h.01M481.45 288.17h.01M495.59 278.33h.01M517.71 295.56h.01M549.92 292.32h.01M513.97 283.84h.01M547.14 296.29h.01M504.89 286.58h.01M516.84 282.52h.01M501.1 268.74h.01M500.42 266.56h.01M535.58 287.37h.01M486.98 295.96h.01M528.93 262.91h.01M547.93 290.1h.01M552.38 269.69h.01M521.71 286.23h.01M515.14 283.71h.01M532.17 267.06h.01M486.26 268.06h.01M499.95 275.95h.01M518.45 284.66h.01M511.73 275.23h.01M502.26 291.52h.01M526.37 283.01h.01M504.65 297.53h.01M499.22 288.49h.01M534.17 279.35h.01M527.61 270.84h.01M531.35 284h.01M479.37 288.7h.01M493.25 294.82h.01M497.52 280.35h.01M516.76 278.68h.01M516.29 276.47h.01M524.54 282.05h.01M534.33 282.32h.01M475.45 282.95h.01M520.44 292.71h.01M489.45 297.47h.01M507.91 305.95h.01M508.17 288.8h.01M503.77 270.84h.01M533.03 291.06h.01M541.87 290.57h.01M499.64 265.38h.01M498.09 275.25h.01M494.8 287.82h.01M517.66 279.3h.01M514.55 280.54h.01M515.36 289.52h.01M530.29 275.14h.01M480.96 296.27h.01M513.39 293.06h.01M478.24 278.7h.01M511.64 267.59h.01M500.78 289.24h.01M532.67 297.94h.01M493.83 267.99h.01M521.51 291.4h.01M514.96 268.99h.01M526.74 289.93h.01M522.17 277.13h.01M517.18 289.91h.01M499.92 263.56h.01M517.67 286.81h.01M511.37 290.89h.01M499.37 281.18h.01M505 287.71h.01M543.01 279.49h.01M552.2 297.29h.01M526.91 287.87h.01" fill="none" stroke="#757575" stroke-width=".58" stroke-linecap="round"/>
<path d="M488.77 312.9h.01M534.17 348.23h.01M524.16 341.34h.01M528.48 357.44h.01M537.16 348.28h.01M513.38 286.59h.01M494.75 330.54h.01M543.24 331.07h.01M520.57 326.83h.01M513.58 306.38h.01M526.2 340.33h.01M532.68 348.22h.01M488.92 305.44h.01M523.81 324.38h.01M547.28 341.1h.01M535.97 347.2h.01M520.24 297.64h.01M533.33 334.89h.01M525.84 300.36h.01M538.24 318.54h.01M518.53 308.87h.01M545.3 346.83h.01M501.55 304.68h.01M525.32 347.07h.01M555.26 300.95h.01M543.92 336.04h.01M516.68 309.84h.01M525.79 305.38h.01M537.88 330.39h.01M486.3 331.55h.01M516.97 325.47h.01M541.59 344.71h.01M486.1 323.43h.01M518.35 303.75h.01M511.37 290.46h.01M546.77 357.36h.01M499.36 323.41h.01M551.72 339.63h.01M541.44 347.36h.01M494.89 301.52h.01M537.47 326.8h.01M505.45 319.96h.01M534.12 344.44h.01M498.9 301.56h.01M480.35 308.49h.01M483.83 312.96h.01M505.31 337.65h.01M498.39 328.21h.01M543.82 334.24h.01M544.37 345.08h.01M502.55 329.72h.01M493.09 322.62h.01M533.75 310.91h.01M512.27 332.9h.01M496.24 330.45h.01M510.63 302.49h.01M534.61 331.85h.01M528.35 348.96h.01M532.15 351.67h.01M497.7 299.36h.01M526.03 323.8h.01M524.3 319h.01M525.31 309.82h.01M494.11 337.53h.01M495.96 325.8h.01M540.64 323.61h.01M533.17 345.3h.01M495.85 322.83h.01M503.87 303.44h.01M486.06 308.04h.01M485.06 315.51h.01M503.01 330.9h.01M539.48 325.98h.01M487.07 329.45h.01M511.04 330.58h.01M532.76 337.01h.01M542.81 298.91h.01M536.85 348.56h.01M539.81 341.81h.01M526.05 322.19h.01M487.72 314.25h.01M504.41 341.88h.01M535.36 349.83h.01M491.18 346.57h.01M504.54 323.28h.01M514.99 308.26h.01M476.85 321.11h.01M496.95 332.44h.01M521.18 340.86h.01M482.71 298.96h.01M500.17 336.42h.01M526.33 336.12h.01M525.1 320.12h.01M512.87 328.71h.01M492.06 324.86h.01M540.16 352.26h.01M521.53 298.47h.01M534.97 347.64h.01M533.49 353.6h.01M486.34 326.78h.01M526.52 340.63h.01M524.06 301.47h.01M491.2 298.12h.01M501.15 300.4h.01M531.77 331.94h.01M541.45 337.69h.01M486.45 319.16h.01M500.72 347.26h.01M490.74 306.61h.01M475.55 317.88h.01M487.7 330.05h.01M490.25 298.45h.01M494.88 294.83h.01M533.58 345.08h.01M523.93 298.04h.01M514.95 333.09h.01M530.61 308.09h.01M536.14 355.8h.01M545.23 354.64h.01M519.71 303.4h.01M547.83 308.57h.01M535.59 300.27h.01M496.2 333.11h.01M544.58 329.55h.01M491.55 331.16h.01M491.35 318.18h.01M531.54 301.71h.01M510.41 335.88h.01M543.38 341.12h.01M495.16 340.83h.01M522.27 324.11h.01M498.96 309.21h.01M512.14 292.82h.01M507.82 329.29h.01M549.85 310.92h.01M543.18 290.7h.01M493.97 320.91h.01M527.02 312.7h.01M545.77 302.3h.01M536.77 340.54h.01M516.87 330.78h.01M520.91 345.22h.01M492.9 317.46h.01M541.9 337.6h.01M507.75 297.33h.01M512.91 325.45h.01M483.18 309.83h.01M542.58 335.77h.01M481.56 315.99h.01M543.81 333.57h.01M540.14 349.97h.01M540.6 344.73h.01M532.2 300.69h.01M532.05 342.62h.01M512.21 300.41h.01M490.45 311.23h.01M478.56 291.66h.01M490.49 337.52h.01M538.88 342.36h.01M547.39 338.5h.01M488.23 327.39h.01M499.45 332.26h.01M526.6 340.36h.01M488.28 332.13h.01M487.9 328.2h.01M537.86 352.59h.01M521.11 294.52h.01M504.08 294.78h.01M532.94 302.99h.01M546.77 337.44h.01M507.72 297.81h.01M537.21 334.78h.01M518.42 291.2h.01M544.79 347.6h.01M538.38 334.71h.01M483.23 329.09h.01M502.36 327.88h.01M535.55 312.15h.01M490.49 326.32h.01M531.7 314.59h.01M501.8 315.51h.01M525.04 318.28h.01M484.05 346.89h.01M487.18 320.63h.01M540.94 337.89h.01M495.7 331.34h.01M529.24 329.7h.01M537.89 344.97h.01M533.17 325.54h.01M535.08 308.53h.01M491 334.17h.01M510.34 335.34h.01M492.47 322.83h.01M538.52 334.03h.01M536.31 305.45h.01M540.43 340.8h.01M538.48 315.2h.01M534.59 320.39h.01M482.16 323.83h.01M529.85 312.51h.01M553.51 342.27h.01M487.38 329.54h.01M520.38 301.34h.01M536.78 342.84h.01M485.03 323.59h.01M536.4 300.59h.01M534.72 295.49h.01M541.1 324.56h.01M512.14 341.98h.01M495.45 307.76h.01M498.84 308.66h.01M533.75 349.66h.01M487.39 308.97h.01M500.59 292.78h.01M490.2 334.32h.01M491.07 315.44h.01M480.07 326.49h.01M492.61 335.33h.01M497.87 338.6h.01M535.58 332.6h.01M543.91 305.81h.01M547.18 317.38h.01M504.6 290.94h.01M505.23 294.98h.01M484.84 308.59h.01M501.45 307.23h.01M488.21 298.55h.01M536.76 304.56h.01M491.7 341.58h.01M546.38 331.02h.01M527.93 297.98h.01M539.19 361.19h.01M490.92 295.01h.01M547.93 310.7h.01M526.94 348.19h.01M536.56 305.56h.01M517.2 309.86h.01M515.17 309.84h.01M490.12 334.56h.01M483.59 305h.01M536.31 341.08h.01M499.89 334.49h.01M496.19 338.44h.01M491.51 309.89h.01M512.19 285.45h.01M542.41 317.27h.01M491.48 306.9h.01M505.29 327.02h.01M526.35 308.81h.01M536.34 334.59h.01M544.89 295.96h.01M491.72 319.23h.01M528.66 325.13h.01M484.51 308.29h.01M546.64 329.16h.01M527.03 335.54h.01M539.69 299.45h.01M537.75 309.23h.01M513.92 293.01h.01M487.31 333.85h.01M539.12 343.67h.01M542.52 337.71h.01M539.26 331.44h.01M495.76 301.59h.01M527.58 311.58h.01M492.15 321.48h.01M531.57 333.99h.01M495.29 290.43h.01M509.24 298.35h.01M529.42 355.67h.01M519.75 311.81h.01M507.97 328.17h.01M540.3 336.16h.01M516.95 329.6h.01M511.42 291.33h.01M533.44 336.59h.01M476.92 319.22h.01M501.24 305.26h.01M509.26 280.54h.01M499.54 303.71h.01M495.23 330.24h.01M511.77 327.29h.01M540.33 313.65h.01M536.89 328.11h.01M489.79 317.19h.01M499.22 345.77h.01M535.28 347.3h.01M521.57 292.93h.01M542.43 326.36h.01M497.59 320.84h.01M514.01 294.52h.01M527.76 309.32h.01M512.15 300.99h.01M504.58 288.5h.01M490.18 311.72h.01M546.53 344.73h.01M506.66 303.13h.01M525.21 332.98h.01M544.79 311.35h.01M510.01 314.53h.01M539.93 356.02h.01M495.19 327.92h.01M515.37 326.16h.01M491.54 309.53h.01M485.28 306.3h.01M543.19 342.23h.01M516.27 307.34h.01M503.9 326.98h.01M513.8 331.85h.01M525.2 301.93h.01M552.33 340.77h.01M484.89 326.56h.01M513.33 327.02h.01M507.52 321.69h.01M505.72 323.79h.01M540.29 352.31h.01M540.78 319.2h.01M540.75 344.04h.01M548.09 324.6h.01M530.94 305.76h.01M515.17 313.02h.01M482.61 302.68h.01M501.59 324.31h.01M521.48 314.51h.01M487.88 323.23h.01M534.23 329.88h.01M540.37 341.82h.01M490.61 312.94h.01M518.6 304.95h.01M501.1 324.63h.01M539.78 349.27h.01M533.27 305.92h.01M482.91 340.51h.01M506.67 283.37h.01M541.73 296h.01M543.6 331.35h.01M524.42 301.23h.01M522.97 295.16h.01M542.33 343.44h.01M496.52 322.14h.01M515.56 321.6h.01M545.74 346.87h.01M493.04 334.94h.01M537.26 310.98h.01M487.92 308.66h.01M540.89 325.54h.01M528.28 350.82h.01M495.66 301.39h.01M508.28 320.07h.01M530.64 345.93h.01M521.82 331.42h.01M521.7 318.84h.01M530.27 323.77h.01M490.3 335.01h.01M519.97 322.14h.01M515.54 297.61h.01M490.26 296.34h.01M513.77 291.13h.01M528.57 328.45h.01M488.11 311.65h.01M531.94 345.18h.01M540.5 338.33h.01M496.29 303.51h.01M508.93 341.39h.01M496.49 325.76h.01M519.28 306.23h.01M525.69 322.31h.01M487.79 330.26h.01M510.75 336.76h.01M508.16 340.84h.01M505.6 293.73h.01M535.67 315.5h.01M506.81 330.83h.01M486.6 334.63h.01M502.07 292.25h.01M501.28 301.95h.01M540.05 320.04h.01M515.98 322.81h.01M544.89 336.09h.01M486.88 322.61h.01M494.88 298.13h.01M531.45 346.31h.01M513.5 310.23h.01M526.12 328.42h.01M490.55 301.25h.01M541.17 342.95h.01M534.53 330.65h.01M492.72 316.3h.01M559.3 333.87h.01M520.59 298.52h.01M518.55 306.75h.01M485.52 342.71h.01M529.92 299.74h.01M500.83 325.65h.01M527.78 320.21h.01M532.97 322.23h.01M536.97 307.4h.01M528.72 341.39h.01M545.02 328.83h.01M507.12 294.67h.01M509.88 327.02h.01M501.17 331.7h.01M489.99 335.83h.01M508.81 324.8h.01M499.01 298.06h.01M541.01 347.5h.01M541.62 327.03h.01M514.08 321.23h.01M538.33 337.76h.01M536.86 302.49h.01M496.87 316.08h.01M522.3 305.79h.01M530.47 348.47h.01M543.85 305.15h.01M539.48 303.91h.01M545 348.69h.01M485.12 318.21h.01M486.32 307.49h.01M530.47 333.53h.01M536.84 340.57h.01M500.39 333.86h.01M540.81 315.95h.01M530.35 338.21h.01M544.18 349.14h.01M498.15 298.51h.01M490.65 306.3h.01M485.34 298.08h.01M529.71 328.99h.01M491.14 307.95h.01M547.84 350.08h.01M523.9 306.13h.01M537.58 294.98h.01M507.91 302.93h.01M536.64 308.94h.01M510.42 338.19h.01M546.67 346.24h.01M539.93 342.67h.01M511.9 333.68h.01M538.9 327.16h.01M505.26 333.24h.01M500.61 338.64h.01M514.91 289.56h.01M523.87 337.46h.01M514.39 295.61h.01M492.98 311.3h.01M481.21 329.96h.01M542.72 336.01h.01M540.15 335.41h.01M543.97 347.16h.01M507.43 289.71h.01M510.81 329.07h.01M481.27 315.92h.01M501.21 290.92h.01M545.44 312.55h.01M489.05 344.1h.01M541.86 338.65h.01M483.96 337.77h.01M495.74 326.64h.01M525.32 315.91h.01M516.63 307.95h.01M529.49 310.37h.01M485.63 311.52h.01M517.7 296.66h.01M488.25 310.23h.01M534.44 344.85h.01M484.08 340.84h.01M497.1 307.35h.01M490.18 299.91h.01M509.45 284.87h.01M544.46 308.46h.01M520.43 308.1h.01M511.41 342.19h.01M541.6 344h.01M526.12 331.51h.01M544.74 339.26h.01M488.83 305.55h.01M522.36 334.15h.01M538.96 352.4h.01M504.56 325.84h.01M546.97 325.1h.01M543.69 315.19h.01M524.78 322.86h.01M513.74 298.91h.01M496.53 326.61h.01M518.5 334.58h.01M535.32 356.35h.01M485.07 302.31h.01M513.28 288.58h.01M505.02 341.29h.01M529.64 318.53h.01M505.39 337.77h.01" fill="none" stroke="#6c6c6c" stroke-width=".6" stroke-linecap="round"/>
<path d="M541.71 299.76h.01M485.08 327.58h.01M507.19 336.42h.01M546.81 344.15h.01M514.07 342.14h.01M474.49 336.16h.01M481.62 286.95h.01M518.63 326.4h.01M536.32 318.92h.01M533.21 318.76h.01M523.62 343.24h.01M513.95 300.82h.01M545.25 331.51h.01M531.04 280.84h.01M480.84 338.08h.01M505.97 318.6h.01M503.18 325.79h.01M524.07 357.9h.01M524.19 319.74h.01M497.46 296.13h.01M519.29 340.66h.01M532.52 332.87h.01M516.61 345.48h.01M506.13 324.8h.01M472.67 326.55h.01M532.03 316.57h.01M522.62 312.65h.01M508.38 346.5h.01M497.06 306.96h.01M493.48 325.12h.01M534.19 293.27h.01M495.51 316.9h.01M540.4 317.67h.01M513.23 310.12h.01M530.84 335.58h.01M538.07 331.04h.01M485.92 329.99h.01M474.17 299.29h.01M502.37 332.76h.01M546.66 341.65h.01M528.34 325.95h.01M523.3 313.31h.01M505.85 318.06h.01M535.31 334.39h.01M529.17 352.7h.01M535.68 327.48h.01M530.96 332.86h.01M511.38 336.52h.01M510.26 343.96h.01M510.64 316.49h.01M507.95 332.03h.01M534.94 355.29h.01M539.99 299.76h.01M478.53 313.08h.01M534.92 313.67h.01M481.62 312.29h.01M508.28 293.34h.01M525.45 301.56h.01M510.88 322.77h.01M490.75 299.12h.01M478.49 295.63h.01M538.48 326.08h.01M519.95 332.8h.01M483.86 331.72h.01M484.28 298.44h.01M526.93 308.39h.01M531.75 322.2h.01M509.83 294.43h.01M507.45 302.72h.01M486.06 344.03h.01M534.09 339.89h.01M529.08 323.75h.01M548.09 317.74h.01M487.92 315.6h.01M499.67 323.55h.01M505.88 298.62h.01M501.9 317.37h.01M501.75 308.07h.01M546.01 348.57h.01M531.31 361.04h.01M545.81 308.9h.01M480.92 299.94h.01M538.29 349.97h.01M530.12 344.74h.01M517.23 348.38h.01M491.06 337.34h.01M508.31 282.03h.01M529.71 339.93h.01M496.06 295.65h.01M528.82 333.12h.01M532.96 345.6h.01M544.35 353.21h.01M544.33 320.46h.01M532.69 352.53h.01M528.84 326.32h.01M524.2 301.31h.01M511.37 351.75h.01M520.24 303.97h.01M545.3 344.65h.01M499.8 292.51h.01M547.11 333.21h.01M504.08 326.41h.01M539.79 355.89h.01M487.97 328.24h.01M496.63 312.54h.01M491.38 279.58h.01M538.7 304.6h.01M479.06 273.29h.01M490.23 318.68h.01M525.91 351h.01M539.85 359.59h.01M531.17 312.27h.01M527.55 345.32h.01M509.95 360.05h.01M525.75 301.08h.01M543.81 313.83h.01M488.86 339.66h.01M486.32 308.48h.01M497.77 324.79h.01M483.65 347.43h.01M493 317.89h.01M503.07 342.44h.01M496.69 334.59h.01M508.06 344.21h.01M542.22 337.47h.01M507.52 321.58h.01M528.54 334.21h.01M540.82 301.06h.01M501.67 300.42h.01M531.53 347.42h.01M535.12 343.42h.01M528.01 335.96h.01M542.29 306.52h.01M512.5 299.05h.01M513.77 348.35h.01M551.71 301.97h.01M526.61 284.32h.01M479.23 332.47h.01M496.28 280.69h.01M495.31 324.13h.01M536.36 293.97h.01M490.56 318.13h.01M476.46 341.34h.01M533.73 295.73h.01M496.86 315.71h.01M530.51 326.25h.01M506.44 306.65h.01M491.66 346h.01M507.01 330.6h.01M548.21 321.14h.01M491.28 296.7h.01M508.88 306.14h.01M522.14 347.54h.01M505.07 298.14h.01M490.22 331.79h.01M495.49 294.06h.01M506.79 296.88h.01M531.57 320.5h.01M509.47 268.16h.01M522.14 309.31h.01M496.91 287.44h.01M491.3 304.16h.01M510.1 283.22h.01M526.27 360.97h.01M503.95 305.45h.01M482.29 314.55h.01M489.6 323.29h.01M537.21 299.76h.01M512.7 339.12h.01M508.12 304.26h.01M512.05 327.04h.01M510.23 310.12h.01M478.8 308.2h.01M529.06 353.62h.01M492.59 337.08h.01M486.81 330.46h.01M484.41 314.13h.01M494.43 324.19h.01M508.46 321.02h.01M498.07 318.61h.01M486.19 339.78h.01" fill="none" stroke="#777" stroke-width=".58" stroke-linecap="round"/>
<g transform="translate(455 240) scale(.24795)">
<clipPath id="c2o"><path d="M126 305C128 289 126 295 131 278C136 261 132 269 141 255C150 241 146 246 157 235C168 224 166 230 174 221C182 212 172 214 181 208C190 202 188 203 201 203C214 203 210 201 221 208C232 215 223 215 234 225C245 235 238 231 254 238C270 245 262 243 281 245C300 247 292 245 311 243C330 241 322 237 337 240C352 243 345 239 355 251C365 263 361 257 366 275C371 293 371 285 371 305C371 325 370 316 366 335C362 354 363 342 359 361C355 380 358 372 353 391C348 410 353 403 344 418C335 433 336 435 326 435C316 435 321 433 314 418C307 403 312 410 306 391C300 372 303 378 297 361C291 344 297 351 289 341C281 331 287 335 274 331C261 327 267 326 251 328C235 330 243 329 227 336C211 343 219 340 204 348C189 356 194 353 181 361C168 369 175 373 164 373C153 373 157 372 147 361C137 350 142 353 135 341C128 329 128 337 125 325C122 313 124 321 126 305Z"/></clipPath><clipPath id="c2"><path d="M137 306C139 293 137 297 141 281C145 266 142 273 150 260C157 247 153 253 164 242C174 231 174 236 182 227C189 218 180 221 187 215C193 210 191 210 201 210C211 210 208 207 217 214C227 221 218 220 229 230C241 240 234 237 251 244C268 252 260 250 280 252C301 254 293 252 312 250C330 249 323 245 335 247C348 249 342 246 350 256C358 266 355 261 359 277C364 294 365 286 364 305C363 324 362 315 357 333C352 351 354 340 350 359C346 377 349 371 344 389C339 406 339 402 334 412C329 421 330 417 328 417C325 417 330 422 327 412C324 402 325 406 319 387C313 369 316 375 310 356C304 338 311 345 301 331C291 318 297 322 280 315C263 308 269 308 249 310C230 312 238 314 221 322C204 330 213 326 197 335C181 344 184 343 173 349C162 355 169 353 164 354C159 355 164 357 158 351C153 344 154 343 148 333C141 324 141 331 138 322C135 313 136 320 137 306Z"/></clipPath>
<path d="M126 305C128 289 126 295 131 278C136 261 132 269 141 255C150 241 146 246 157 235C168 224 166 230 174 221C182 212 172 214 181 208C190 202 188 203 201 203C214 203 210 201 221 208C232 215 223 215 234 225C245 235 238 231 254 238C270 245 262 243 281 245C300 247 292 245 311 243C330 241 322 237 337 240C352 243 345 239 355 251C365 263 361 257 366 275C371 293 371 285 371 305C371 325 370 316 366 335C362 354 363 342 359 361C355 380 358 372 353 391C348 410 353 403 344 418C335 433 336 435 326 435C316 435 321 433 314 418C307 403 312 410 306 391C300 372 303 378 297 361C291 344 297 351 289 341C281 331 287 335 274 331C261 327 267 326 251 328C235 330 243 329 227 336C211 343 219 340 204 348C189 356 194 353 181 361C168 369 175 373 164 373C153 373 157 372 147 361C137 350 142 353 135 341C128 329 128 337 125 325C122 313 124 321 126 305Z" fill="#000"/>
<g clip-path="url(#c2o)"><g clip-path="url(#c2)">
<path d="M137 306C139 293 137 297 141 281C145 266 142 273 150 260C157 247 153 253 164 242C174 231 174 236 182 227C189 218 180 221 187 215C193 210 191 210 201 210C211 210 208 207 217 214C227 221 218 220 229 230C241 240 234 237 251 244C268 252 260 250 280 252C301 254 293 252 312 250C330 249 323 245 335 247C348 249 342 246 350 256C358 266 355 261 359 277C364 294 365 286 364 305C363 324 362 315 357 333C352 351 354 340 350 359C346 377 349 371 344 389C339 406 339 402 334 412C329 421 330 417 328 417C325 417 330 422 327 412C324 402 325 406 319 387C313 369 316 375 310 356C304 338 311 345 301 331C291 318 297 322 280 315C263 308 269 308 249 310C230 312 238 314 221 322C204 330 213 326 197 335C181 344 184 343 173 349C162 355 169 353 164 354C159 355 164 357 158 351C153 344 154 343 148 333C141 324 141 331 138 322C135 313 136 320 137 306Z" fill="#dedede"/>
<path d="M137 306C139 293 137 297 141 281C145 266 142 273 150 260C157 247 153 253 164 242C174 231 174 236 182 227C189 218 180 221 187 215C193 210 191 210 201 210C211 210 208 207 217 214C227 221 218 220 229 230C241 240 234 237 251 244C268 252 260 250 280 252C301 254 293 252 312 250C330 249 323 245 335 247C348 249 342 246 350 256C358 266 355 261 359 277C364 294 365 286 364 305C363 324 362 315 357 333C352 351 354 340 350 359C346 377 349 371 344 389C339 406 339 402 334 412C329 421 330 417 328 417C325 417 330 422 327 412C324 402 325 406 319 387C313 369 316 375 310 356C304 338 311 345 301 331C291 318 297 322 280 315C263 308 269 308 249 310C230 312 238 314 221 322C204 330 213 326 197 335C181 344 184 343 173 349C162 355 169 353 164 354C159 355 164 357 158 351C153 344 154 343 148 333C141 324 141 331 138 322C135 313 136 320 137 306Z" fill="none" stroke="#101010" stroke-width="26" opacity=".8" filter="url(#bl)"/>
<path d="M137 306C139 293 137 297 141 281C145 266 142 273 150 260C157 247 153 253 164 242C174 231 174 236 182 227C189 218 180 221 187 215C193 210 191 210 201 210C211 210 208 207 217 214C227 221 218 220 229 230C241 240 234 237 251 244C268 252 260 250 280 252C301 254 293 252 312 250C330 249 323 245 335 247C348 249 342 246 350 256C358 266 355 261 359 277C364 294 365 286 364 305C363 324 362 315 357 333C352 351 354 340 350 359C346 377 349 371 344 389C339 406 339 402 334 412C329 421 330 417 328 417C325 417 330 422 327 412C324 402 325 406 319 387C313 369 316 375 310 356C304 338 311 345 301 331C291 318 297 322 280 315C263 308 269 308 249 310C230 312 238 314 221 322C204 330 213 326 197 335C181 344 184 343 173 349C162 355 169 353 164 354C159 355 164 357 158 351C153 344 154 343 148 333C141 324 141 331 138 322C135 313 136 320 137 306Z" fill="none" stroke="#e4e4e4" stroke-width="2.2" opacity=".45"/>
<path d="M160 280C159 268 159 273 168 265C177 257 174 258 188 256C202 254 200 254 211 259C222 264 221 262 222 272C223 282 224 279 215 288C206 297 209 294 194 298C179 302 182 306 171 300C160 294 161 292 160 280Z" fill="#d0d0d0" stroke="#fff" stroke-width="3.4"/>
<radialGradient id="g3" gradientUnits="userSpaceOnUse" cx="188" cy="279" r="26" gradientTransform="translate(188 279) rotate(-15) scale(1 .65) translate(-188 -279)"><stop offset="0" stop-color="#777" stop-opacity=".8"/><stop offset=".45" stop-color="#777" stop-opacity=".6"/><stop offset="1" stop-color="#777" stop-opacity="0"/></radialGradient>
<rect x="136" y="227" width="104" height="104" fill="url(#g3)"/>
<radialGradient id="g4" gradientUnits="userSpaceOnUse" cx="318" cy="389" r="26" gradientTransform="translate(318 389) rotate(10) scale(1 1.54) translate(-318 -389)"><stop offset="0" stop-color="#1a1a1a" stop-opacity=".8"/><stop offset=".5" stop-color="#1a1a1a" stop-opacity=".6"/><stop offset="1" stop-color="#1a1a1a" stop-opacity="0"/></radialGradient>
<rect x="238" y="309" width="160" height="160" fill="url(#g4)"/>
<path d="M308 292.85A30 30 0 1 1 365.12 305.82L325.81 389.02A9.6 9.6 0 0 1 307.53 384.87Z" fill="#b4b4b4" filter="url(#bl)" opacity=".9"/>
<path d="M314.51 296.2A24.5 24.5 0 1 1 360.44 308.86L326.94 369.44A7.84 7.84 0 0 1 312.25 365.39Z" fill="#a2a2a2" stroke="#fff" stroke-width="3.4" stroke-linejoin="round"/>
<path d="M322.52 300.07A17.5 17.5 0 1 1 354.76 310.41L330.43 348.56A5.6 5.6 0 0 1 320.12 345.25Z" fill="#848484" stroke="#fff" stroke-width="3.4" stroke-linejoin="round"/>
<path d="M331.05 306.05A10 10 0 1 1 348.7 311.38L338.39 323.82A3.2 3.2 0 0 1 332.74 322.11Z" fill="#4a4a4a" stroke="#fff" stroke-width="3.2" stroke-linejoin="round"/>
</g></g>
<path d="M172 224C167 219 170 214 180 207C190 200 187 202 201 202C215 202 211 200 222 208C233 216 236 221 235 226C234 231 231 223 218 222C205 221 211 221 196 222C181 223 177 229 172 224Z" fill="#000"/>
</g>
<rect x="479.3" y="262.4" width="71.9" height="33.6" fill="none" stroke="#0a0a0a" stroke-width="1.6"/>
<text x="553.8" y="273.5" font-size="9.8" fill="#141414">1,03</text>
<text transform="translate(590.4 314.5) rotate(-90)" font-size="12.9" font-weight="bold" stroke="#000" stroke-width=".3" text-anchor="middle">Medium/IL-3</text>
<path d="M350.2 382V485H452.2" fill="none" stroke="#c4c4c4" stroke-width=".7"/>
<path d="M350.2 485v2.6M350.2 485h-2.6M375.7 485v2.6M350.2 459.5h-2.6M401.2 485v2.6M350.2 434h-2.6M426.7 485v2.6M350.2 408.5h-2.6M452.2 485v2.6M350.2 383h-2.6" fill="none" stroke="#3a3a3a" stroke-width=".9"/>
<path d="M357.88 485.3v1.3M349.9 477.32h-1.3M362.37 485.3v1.3M349.9 472.83h-1.3M365.55 485.3v1.3M349.9 469.65h-1.3M368.02 485.3v1.3M349.9 467.18h-1.3M370.04 485.3v1.3M349.9 465.16h-1.3M371.75 485.3v1.3M349.9 463.45h-1.3M373.23 485.3v1.3M349.9 461.97h-1.3M374.53 485.3v1.3M349.9 460.67h-1.3M383.38 485.3v1.3M349.9 451.82h-1.3M387.87 485.3v1.3M349.9 447.33h-1.3M391.05 485.3v1.3M349.9 444.15h-1.3M393.52 485.3v1.3M349.9 441.68h-1.3M395.54 485.3v1.3M349.9 439.66h-1.3M397.25 485.3v1.3M349.9 437.95h-1.3M398.73 485.3v1.3M349.9 436.47h-1.3M400.03 485.3v1.3M349.9 435.17h-1.3M408.88 485.3v1.3M349.9 426.32h-1.3M413.37 485.3v1.3M349.9 421.83h-1.3M416.55 485.3v1.3M349.9 418.65h-1.3M419.02 485.3v1.3M349.9 416.18h-1.3M421.04 485.3v1.3M349.9 414.16h-1.3M422.75 485.3v1.3M349.9 412.45h-1.3M424.23 485.3v1.3M349.9 410.97h-1.3M425.53 485.3v1.3M349.9 409.67h-1.3M434.38 485.3v1.3M349.9 400.82h-1.3M438.87 485.3v1.3M349.9 396.33h-1.3M442.05 485.3v1.3M349.9 393.15h-1.3M444.52 485.3v1.3M349.9 390.68h-1.3M446.54 485.3v1.3M349.9 388.66h-1.3M448.25 485.3v1.3M349.9 386.95h-1.3M449.73 485.3v1.3M349.9 385.47h-1.3M451.03 485.3v1.3M349.9 384.17h-1.3" fill="none" stroke="#777" stroke-width=".8"/>
<path d="M439 382.2H452.2" fill="none" stroke="#c4c4c4" stroke-width=".7"/>
<path d="M357.95 473.55h.01M408.37 400.52h.01M420.79 408.08h.01M374.33 419.36h.01M403.63 451.09h.01M357.69 457.61h.01M413.87 430.11h.01M418.76 463.56h.01M419.35 454.33h.01M416.25 400.39h.01M447.97 462.14h.01M373.96 425.93h.01M447.91 403.13h.01M391.93 480.08h.01M442.01 405.71h.01M425.2 418.69h.01M417.86 460.22h.01M363.21 404.7h.01M372.12 409.13h.01M353.84 395.87h.01M391.63 424.92h.01M423.2 452.69h.01M424.64 437.5h.01M372.11 461.21h.01M381.44 447.34h.01M390.71 444.3h.01M388.82 436.59h.01M353.18 470.2h.01M400 417.55h.01M373.84 428.53h.01M377.72 409h.01M408.74 466.52h.01M389.41 454.22h.01M409.35 426.91h.01M423.89 420.86h.01M381.66 439.07h.01M424.76 445.63h.01M392.28 432.96h.01M397.32 444.58h.01M412.38 463.14h.01M412.55 444.25h.01M391.61 465.96h.01M399.93 443.78h.01M437.43 465.5h.01M408.57 442.51h.01M380.29 458.63h.01M387.78 414.34h.01M378.73 405.13h.01M411.23 405.56h.01M406.61 408.11h.01M369.44 392.06h.01M396.17 423.42h.01M396.79 394.03h.01M382.13 404.37h.01M432.58 397.91h.01M415.56 406.01h.01M390.46 393.85h.01M396.04 396.23h.01M414.91 385.07h.01M431.07 412.15h.01M416.03 420.09h.01M416.7 385.64h.01M401.66 408.84h.01M381.51 391.85h.01M412.04 409.49h.01M388.58 401.4h.01M386.35 397.91h.01M398.63 415.53h.01M356.22 400.35h.01M444.31 407.41h.01M404.41 412.97h.01M372.8 391.02h.01" fill="none" stroke="#808080" stroke-width=".58" stroke-linecap="round"/>
<path d="M432.83 474.87h.01M416.15 434.89h.01M409.41 448.27h.01M415.33 429.5h.01M363.38 437.87h.01M386.39 441.06h.01M437.44 455.77h.01M429.18 430.54h.01M405.74 455.15h.01M410.29 430.25h.01M410.03 429.17h.01M430.5 462.06h.01M434.06 481.24h.01M358.9 453.39h.01M370.19 428.49h.01M411.1 457.97h.01M367.81 433.1h.01M413.03 431.78h.01M377.52 436.42h.01M385.19 435.44h.01M434.37 443.12h.01M393.5 432.51h.01M384.17 453.18h.01M411.28 420.62h.01M414.64 460.21h.01M394.76 448.38h.01M386.72 438.38h.01M430.91 437.59h.01M427.81 435.46h.01M443.82 470.09h.01M405.4 451.79h.01M427.95 436.27h.01M377.17 446.48h.01M379.34 453.53h.01M352.09 451.87h.01M395.45 463.3h.01M388.41 421.25h.01M386.93 463.66h.01M370.44 438.24h.01M417.44 468.14h.01M430.58 446.35h.01M405.45 447.92h.01M376.82 428.15h.01M399.65 456.76h.01M397.73 422.5h.01M403.35 452.03h.01M426.12 462.18h.01M424.58 425.86h.01M397.32 442.43h.01M442.63 432.19h.01M435.5 438.77h.01M379.48 428.79h.01M410.33 456.54h.01M442.14 452.97h.01M413.47 457.77h.01M387 456.36h.01M376.62 454.98h.01M421.94 426.55h.01M449.55 476.42h.01M433.21 429.91h.01M377.71 470.68h.01M443.49 458.91h.01M404.95 442.68h.01M405.86 441.02h.01M370.62 435.12h.01M414.07 453.89h.01M396.54 419.34h.01M385.27 423h.01M404.73 465.26h.01M385.42 456.94h.01M368.25 440.9h.01M373.04 431.7h.01M405.54 453.87h.01M378.54 430.42h.01M401.32 434.31h.01M415.47 431.45h.01M360.98 435.01h.01M438.98 459.84h.01M370.99 436.52h.01M430.89 443.75h.01M441.64 446.27h.01M448.59 473.68h.01M420.17 481.31h.01M433.98 452.47h.01M356.31 456.64h.01M389.31 444.02h.01M361.02 444.78h.01M400.33 435.81h.01M419.73 419.9h.01M434.36 432.71h.01M421.31 467.49h.01M424.42 424.65h.01M439.44 428.9h.01M435.99 471.74h.01M413.79 468.34h.01M367.26 431.24h.01M410.23 435.09h.01M381.74 450.06h.01M369.45 447.54h.01M413.29 454.92h.01M415.49 444.15h.01M366.1 445.41h.01M427.49 478.09h.01M382.31 423.68h.01M357.72 444.68h.01M407.52 453.51h.01M388.38 428.97h.01M427.12 429.51h.01M360.31 430.82h.01M423.05 480.13h.01M430.71 447.97h.01M369.73 451.34h.01M422.79 475.46h.01M400.9 450.45h.01M413.02 461.25h.01M450.87 436.84h.01M415.85 425.89h.01M378.45 445.86h.01M399.65 465.6h.01M404.78 430.4h.01M404.8 433.07h.01M369.77 446.9h.01M366.33 447.75h.01M378.43 458.41h.01M378.71 434.88h.01M412.36 468.21h.01M433.08 457.15h.01" fill="none" stroke="#777" stroke-width=".58" stroke-linecap="round"/>
<g transform="translate(320 360) scale(.24795)">
<path d="M232 243C228 236 233 234 238 225C243 216 240 216 246 216C252 216 250 217 256 226C262 235 266 235 264 242C262 249 261 246 250 246C239 246 236 250 232 243Z" fill="#000"/>
<clipPath id="c3o"><path d="M151 342C154 331 152 335 161 325C170 315 168 323 178 312C188 301 180 304 191 292C202 280 197 283 211 275C225 267 217 270 234 267C251 264 249 268 261 265C273 262 263 258 271 259C279 260 272 262 284 269C296 276 291 274 308 279C325 284 314 282 334 283C354 284 348 285 368 282C388 279 379 280 394 275C409 270 402 270 414 267C426 264 419 261 431 265C443 269 440 267 451 279C462 291 457 283 464 302C471 321 470 312 471 335C472 358 470 353 468 372C466 391 462 380 464 392C466 404 471 397 473 409C475 421 473 414 471 429C469 444 472 441 468 455C464 469 467 469 458 472C449 475 453 471 441 465C429 459 433 463 421 455C409 447 413 453 404 442C395 431 402 436 394 422C386 408 390 412 381 399C372 386 377 391 368 382C359 373 365 379 354 372C343 365 347 368 334 362C321 356 327 356 314 355C301 354 307 356 294 359C281 362 287 361 274 365C261 369 268 370 254 372C240 374 246 374 231 372C216 370 222 368 208 365C194 362 201 362 188 362C175 362 180 367 168 365C156 363 159 365 153 357C147 349 148 353 151 342Z"/></clipPath><clipPath id="c3"><path d="M159 344C161 337 158 339 166 330C174 321 173 328 183 317C193 306 186 309 196 297C207 285 201 289 214 281C227 273 219 276 235 273C251 269 251 274 263 271C275 268 265 263 271 264C277 265 269 267 281 274C293 281 289 280 307 284C324 289 313 287 334 288C354 289 348 290 369 287C390 285 380 286 396 281C411 276 404 276 415 273C427 269 419 267 430 270C440 274 437 272 447 283C456 294 452 287 458 304C464 322 463 313 464 335C465 358 463 352 460 371C458 390 455 380 457 393C459 406 464 399 466 410C468 422 466 414 463 428C461 442 463 441 460 452C457 463 459 460 454 461C450 462 455 460 446 454C437 449 438 452 427 445C416 439 420 444 412 435C404 426 411 431 403 417C396 403 399 408 390 393C381 379 386 384 376 374C366 364 372 370 360 362C348 355 354 358 339 351C324 345 331 343 315 342C299 341 306 344 291 348C276 351 283 350 270 354C257 358 265 358 252 360C239 362 247 362 233 360C219 357 226 357 211 353C196 349 202 349 188 349C174 349 179 352 170 353C161 353 165 354 162 351C158 348 158 351 159 344Z"/></clipPath>
<path d="M151 342C154 331 152 335 161 325C170 315 168 323 178 312C188 301 180 304 191 292C202 280 197 283 211 275C225 267 217 270 234 267C251 264 249 268 261 265C273 262 263 258 271 259C279 260 272 262 284 269C296 276 291 274 308 279C325 284 314 282 334 283C354 284 348 285 368 282C388 279 379 280 394 275C409 270 402 270 414 267C426 264 419 261 431 265C443 269 440 267 451 279C462 291 457 283 464 302C471 321 470 312 471 335C472 358 470 353 468 372C466 391 462 380 464 392C466 404 471 397 473 409C475 421 473 414 471 429C469 444 472 441 468 455C464 469 467 469 458 472C449 475 453 471 441 465C429 459 433 463 421 455C409 447 413 453 404 442C395 431 402 436 394 422C386 408 390 412 381 399C372 386 377 391 368 382C359 373 365 379 354 372C343 365 347 368 334 362C321 356 327 356 314 355C301 354 307 356 294 359C281 362 287 361 274 365C261 369 268 370 254 372C240 374 246 374 231 372C216 370 222 368 208 365C194 362 201 362 188 362C175 362 180 367 168 365C156 363 159 365 153 357C147 349 148 353 151 342Z" fill="#000"/>
<g clip-path="url(#c3o)"><g clip-path="url(#c3)">
<path d="M159 344C161 337 158 339 166 330C174 321 173 328 183 317C193 306 186 309 196 297C207 285 201 289 214 281C227 273 219 276 235 273C251 269 251 274 263 271C275 268 265 263 271 264C277 265 269 267 281 274C293 281 289 280 307 284C324 289 313 287 334 288C354 289 348 290 369 287C390 285 380 286 396 281C411 276 404 276 415 273C427 269 419 267 430 270C440 274 437 272 447 283C456 294 452 287 458 304C464 322 463 313 464 335C465 358 463 352 460 371C458 390 455 380 457 393C459 406 464 399 466 410C468 422 466 414 463 428C461 442 463 441 460 452C457 463 459 460 454 461C450 462 455 460 446 454C437 449 438 452 427 445C416 439 420 444 412 435C404 426 411 431 403 417C396 403 399 408 390 393C381 379 386 384 376 374C366 364 372 370 360 362C348 355 354 358 339 351C324 345 331 343 315 342C299 341 306 344 291 348C276 351 283 350 270 354C257 358 265 358 252 360C239 362 247 362 233 360C219 357 226 357 211 353C196 349 202 349 188 349C174 349 179 352 170 353C161 353 165 354 162 351C158 348 158 351 159 344Z" fill="#d4d4d4"/>
<radialGradient id="g5" gradientUnits="userSpaceOnUse" cx="234" cy="309" r="58" gradientTransform="translate(234 309) rotate(-12) scale(1 .66) translate(-234 -309)"><stop offset="0" stop-color="#2a2a2a" stop-opacity=".97"/><stop offset=".35" stop-color="#2a2a2a" stop-opacity=".73"/><stop offset="1" stop-color="#2a2a2a" stop-opacity="0"/></radialGradient>
<rect x="118" y="193" width="232" height="232" fill="url(#g5)"/>
<radialGradient id="g6" gradientUnits="userSpaceOnUse" cx="325" cy="320" r="45" gradientTransform="translate(325 320) rotate(0) scale(1 .58) translate(-325 -320)"><stop offset="0" stop-color="#999" stop-opacity=".45"/><stop offset=".45" stop-color="#999" stop-opacity=".34"/><stop offset="1" stop-color="#999" stop-opacity="0"/></radialGradient>
<rect x="235" y="230" width="180" height="180" fill="url(#g6)"/>
<radialGradient id="g7" gradientUnits="userSpaceOnUse" cx="427" cy="351" r="62" gradientTransform="translate(427 351) rotate(10) scale(1 1.29) translate(-427 -351)"><stop offset="0" stop-color="#1a1a1a" stop-opacity=".95"/><stop offset=".5" stop-color="#1a1a1a" stop-opacity=".71"/><stop offset="1" stop-color="#1a1a1a" stop-opacity="0"/></radialGradient>
<rect x="267" y="191" width="320" height="320" fill="url(#g7)"/>
<ellipse cx="426" cy="354" rx="29" ry="48" transform="rotate(10 426 354)" fill="#2e2e2e"/>
<ellipse cx="426" cy="354" rx="29" ry="48" transform="rotate(10 426 354)" fill="none" stroke="#fff" stroke-width="3.4"/>
<ellipse cx="428" cy="348" rx="22" ry="36" transform="rotate(10 428 348)" fill="none" stroke="#fff" stroke-width="3.4"/>
<ellipse cx="429" cy="344" rx="15" ry="24" transform="rotate(8 429 344)" fill="none" stroke="#fff" stroke-width="3.3"/>
<ellipse cx="430" cy="341" rx="7.5" ry="12" transform="rotate(5 430 341)" fill="none" stroke="#fff" stroke-width="3.2"/>
</g></g>
<path d="M150 338C154 327 157 325 166 326C175 327 176 328 178 340C180 352 180 355 172 362C164 369 161 368 154 360C147 352 146 349 150 338Z" fill="#000"/>
</g>
<rect x="359.7" y="382.4" width="79.3" height="40.3" fill="none" stroke="#0a0a0a" stroke-width="1.6"/>
<rect x="437" y="383.3" width="4" height="14.6" fill="#fff"/>
<path d="M439 383.3v14.6" stroke="#b8b8b8" stroke-width=".6"/>
<text x="431.2" y="393.5" font-size="9.8" fill="#141414">0,90</text>
<path d="M471.1 382V484H573.6" fill="none" stroke="#c4c4c4" stroke-width=".7"/>
<path d="M575.1 382V484" fill="none" stroke="#d4d4d4" stroke-width=".7"/>
<path d="M471.1 484v2.6M471.1 484h-2.6M496.6 484v2.6M471.1 458.5h-2.6M522.1 484v2.6M471.1 433h-2.6M547.6 484v2.6M471.1 407.5h-2.6M573.1 484v2.6M471.1 382h-2.6" fill="none" stroke="#3a3a3a" stroke-width=".9"/>
<path d="M478.78 484.3v1.3M470.8 476.32h-1.3M483.27 484.3v1.3M470.8 471.83h-1.3M486.45 484.3v1.3M470.8 468.65h-1.3M488.92 484.3v1.3M470.8 466.18h-1.3M490.94 484.3v1.3M470.8 464.16h-1.3M492.65 484.3v1.3M470.8 462.45h-1.3M494.13 484.3v1.3M470.8 460.97h-1.3M495.43 484.3v1.3M470.8 459.67h-1.3M504.28 484.3v1.3M470.8 450.82h-1.3M508.77 484.3v1.3M470.8 446.33h-1.3M511.95 484.3v1.3M470.8 443.15h-1.3M514.42 484.3v1.3M470.8 440.68h-1.3M516.44 484.3v1.3M470.8 438.66h-1.3M518.15 484.3v1.3M470.8 436.95h-1.3M519.63 484.3v1.3M470.8 435.47h-1.3M520.93 484.3v1.3M470.8 434.17h-1.3M529.78 484.3v1.3M470.8 425.32h-1.3M534.27 484.3v1.3M470.8 420.83h-1.3M537.45 484.3v1.3M470.8 417.65h-1.3M539.92 484.3v1.3M470.8 415.18h-1.3M541.94 484.3v1.3M470.8 413.16h-1.3M543.65 484.3v1.3M470.8 411.45h-1.3M545.13 484.3v1.3M470.8 409.97h-1.3M546.43 484.3v1.3M470.8 408.67h-1.3M555.28 484.3v1.3M470.8 399.82h-1.3M559.77 484.3v1.3M470.8 395.33h-1.3M562.95 484.3v1.3M470.8 392.15h-1.3M565.42 484.3v1.3M470.8 389.68h-1.3M567.44 484.3v1.3M470.8 387.66h-1.3M569.15 484.3v1.3M470.8 385.95h-1.3M570.63 484.3v1.3M470.8 384.47h-1.3M571.93 484.3v1.3M470.8 383.17h-1.3" fill="none" stroke="#777" stroke-width=".8"/>
<path d="M537.84 410.35h.01M508.89 475.83h.01M514.63 440.32h.01M553.57 459.37h.01M517.63 470.09h.01M512.03 478.9h.01M519.32 394.1h.01M547.51 396.78h.01M540.41 387.46h.01M571.91 437.18h.01M546.62 395.38h.01M536.06 420.4h.01M496.51 465.12h.01M474.49 430.75h.01M479.96 468.84h.01M562.21 385.51h.01M518.48 429.84h.01M544.41 456.37h.01M506.11 477.14h.01M490 395.94h.01M554.2 394.25h.01M490.07 433.01h.01M505.41 398.71h.01M565.95 430.34h.01M506.49 430.69h.01M515.16 437.36h.01M526.03 430.25h.01M536.88 438.41h.01M486.3 427.73h.01M516.35 428.59h.01M539.19 467.08h.01M513.46 418.4h.01M502.62 430.93h.01M547.13 434.35h.01M519.28 467.11h.01M483.88 437.88h.01M508.47 452.5h.01M480.19 447.9h.01M500.96 461.13h.01M493.03 438.3h.01M517.55 432.69h.01M557.86 431.27h.01M519.9 462.36h.01M522.39 440.33h.01M486.51 439.41h.01M516.41 446.18h.01M514.74 454.34h.01M485.42 427.17h.01M531.92 435.25h.01M486.43 427.19h.01M522.45 423.63h.01M485.68 462.86h.01M505.69 445h.01M490.27 439.99h.01M493.08 443.58h.01M518.53 421.12h.01M484.74 406.32h.01M533.18 442.66h.01M502.83 442.96h.01M523.19 449.78h.01M520.1 440.99h.01M500.68 443h.01M516.52 444.99h.01M519.36 474.71h.01M540.34 468.89h.01M498.59 480.88h.01M485.5 442.45h.01M523.03 440.16h.01M500.68 437.64h.01M530.39 399.59h.01M528.55 463.07h.01M501.65 454.1h.01M483.73 463.97h.01M564.31 427.45h.01M531.02 442.99h.01M496.34 435.23h.01M499.31 421.47h.01M475.95 473.92h.01M502.75 453.94h.01M509.31 452.58h.01M472.59 426.92h.01M515.76 461.97h.01M480.21 433.6h.01M481.73 455.76h.01M509.99 444.59h.01M490.1 450.18h.01M503.74 430.62h.01M509.77 432.04h.01M522.14 455.27h.01M489.35 454.57h.01M504.44 431.29h.01M484.82 414.07h.01M480.49 450.24h.01M527.25 432.69h.01M506.29 450.2h.01M518.71 451.98h.01M527.64 457.79h.01M487.86 451.14h.01M503.51 454.43h.01M497.07 458.98h.01M529.52 428.89h.01M492.24 448.69h.01M512.91 446.59h.01M519.72 422.72h.01M518.62 465h.01M525.3 451.68h.01M498.35 451.19h.01M501.6 415.44h.01M490.99 443.27h.01M492.78 427.21h.01M498.46 437.31h.01M504.48 443.13h.01M506.54 461.88h.01M505.83 451.31h.01M478.65 390.94h.01M495.09 456.19h.01M504.31 395.77h.01M486.3 410.92h.01M500.55 404.45h.01M533.72 407.36h.01M555.97 400.67h.01M530.22 408.94h.01M498 402.48h.01M499.8 391.75h.01M517.1 394.25h.01M544.69 394.59h.01M500.21 402.91h.01M500.73 402.53h.01M498.94 387.78h.01M541.53 406.44h.01M514.18 397.35h.01M508.19 404.99h.01M483.31 394.02h.01M493.29 414.59h.01M489.97 413.73h.01M501.79 429.26h.01M509.53 402.32h.01M538.12 410.75h.01M529.88 391.31h.01M533.82 418.8h.01M509.05 397.16h.01M489.27 412.17h.01M516.98 402.07h.01M486.4 418.21h.01M528.6 401.8h.01M540.62 392.49h.01M528.73 392.01h.01M539.32 399.25h.01M535.56 397.84h.01M519.07 413.42h.01M493.06 402.97h.01M494.33 410.52h.01M499.03 398.27h.01M507.05 413.65h.01M490.27 401.75h.01M504.52 396.5h.01M495.35 400.4h.01M515.02 386.53h.01M515.78 390.16h.01M511.4 424.8h.01M491.75 401.34h.01M506.01 411.82h.01M501.61 384.14h.01M478.88 403.77h.01M516.17 412.67h.01M500.37 408.66h.01M489.81 414.95h.01M509.68 395.22h.01M514.66 419.43h.01M494.15 389.6h.01M490.79 390.45h.01M510.09 405.51h.01M507.81 403.97h.01M534.8 399.11h.01M515.94 395.2h.01M506.12 406.1h.01M520.35 386.32h.01M491.96 402.74h.01M508.22 413.47h.01M534.5 385.64h.01M491.69 405.9h.01M489.92 426.89h.01M515.87 407.35h.01M502.37 424.17h.01M521.9 394.83h.01M536.19 385.11h.01M499.37 404.89h.01M513.86 392.41h.01M542.7 416.71h.01M492.4 405.73h.01M498.41 397.67h.01M530.83 403.26h.01M508.93 403.03h.01M487.66 414.21h.01M496.08 415.08h.01M501.94 397.44h.01M540.81 403.91h.01M498.31 396.64h.01M523.21 420.71h.01M523.37 398.07h.01M488.67 395.27h.01M508.72 404.45h.01M497.99 414.8h.01M491.95 394.86h.01M521.05 406.81h.01M503.3 411.62h.01M482.94 418.34h.01M554.83 421.52h.01M513.48 421.67h.01M512.17 415.29h.01M507.11 403.94h.01M521.58 384.53h.01M506.94 419.18h.01M529.54 405.28h.01M514.99 415.87h.01M517.81 383.08h.01M492.21 399.04h.01M513.99 397.53h.01M509 418.68h.01M529.83 408.02h.01M511.41 402.64h.01M518.37 404.42h.01M496.63 409.81h.01M494.59 401.6h.01M503.94 390.5h.01M523.2 401.31h.01M487.82 401.22h.01M483.56 416.33h.01M521.41 421.84h.01M499.77 409.05h.01M491.77 393.5h.01M509.32 406.11h.01M529.55 399.33h.01M533.11 411.63h.01M493.64 400.22h.01M492.83 419.01h.01M500.11 410.82h.01M529.33 399.47h.01M501.39 405.43h.01M495.65 389.39h.01M491.84 405.38h.01M514.93 419.56h.01M474.68 407.01h.01M488.11 413.5h.01M524.96 403.27h.01M540.46 398.29h.01M500.55 391.53h.01M498.03 403.15h.01M524.49 414.74h.01M505.75 394.74h.01M504.44 397.73h.01M501.79 398h.01M493.77 401.48h.01M500.91 400.32h.01M483.56 403.44h.01M522.48 408.44h.01M500.2 390.67h.01M485.24 390.35h.01M498.33 398.92h.01M475.87 408.65h.01M480.54 395.19h.01M496.77 410.23h.01M547.6 398.49h.01M505.66 398.11h.01M507.13 400.32h.01M560.05 391.21h.01M508.93 394.18h.01M518.17 396.85h.01M522.5 391.29h.01M552.94 404.08h.01M476.08 408.93h.01M501.8 390.57h.01M519.85 396.88h.01M525.72 396.59h.01M528.98 403.48h.01M518.18 403.56h.01M503.89 398.43h.01M520.04 409.02h.01M503.02 424.12h.01M544.57 390.68h.01M532.6 401.31h.01M515.71 394.21h.01M543.77 393.87h.01M509.49 394.86h.01M549.31 414.38h.01M485.03 397.57h.01M518.3 397.76h.01M504.11 391.39h.01M516.06 391.25h.01M527.55 425.64h.01M504.67 418.21h.01M518.47 395.42h.01M504.3 392.55h.01M513.37 408.91h.01M529.47 399.27h.01M487.55 401.27h.01M544.11 404.78h.01M502.56 407.37h.01M492.44 415.28h.01M499.94 393.45h.01M499.67 401.11h.01M530.8 396.47h.01M475.96 401.25h.01M521.4 417.16h.01M488.98 416.58h.01M524.43 406.49h.01M495.99 393.36h.01M492.29 411.19h.01M515.42 412.51h.01M546.91 402.21h.01" fill="none" stroke="#757575" stroke-width=".58" stroke-linecap="round"/>
<path d="M525.82 421.68h.01M493.3 422.38h.01M496.94 459.77h.01M521.04 467.54h.01M487.93 426.8h.01M497.74 466.26h.01M506.32 417.93h.01M547.9 431.4h.01M489.3 444.73h.01M540.63 467.78h.01M506.33 465.05h.01M536.01 468.11h.01M483.09 423.69h.01M526.25 467.37h.01M497.98 472.23h.01M494.01 418.98h.01M526.94 424.3h.01M487.05 419.65h.01M546.22 429.78h.01M494.72 428.59h.01M552.38 434.44h.01M544.74 454.66h.01M515.58 450.48h.01M495.04 462.36h.01M531.58 470.88h.01M502.21 474.03h.01M492.44 471.75h.01M491.8 460.22h.01M530.3 413.68h.01M535.96 466.78h.01M543.01 451.53h.01M529.71 470.31h.01M523.37 423.93h.01M495.44 428.09h.01M519.42 460.72h.01M480.53 455.02h.01M514.6 461.37h.01M494.64 474.44h.01M512.95 462.48h.01M485.26 461.19h.01M537.68 481.01h.01M537.63 417.01h.01M491.11 428.82h.01M494.73 436.71h.01M514.64 411.15h.01M497.83 462.54h.01M498.54 433.15h.01M479.03 459.94h.01M486.58 431.17h.01M521.38 462.34h.01M534.34 420.08h.01M525.35 422.25h.01M510.47 429.59h.01M542.04 460.68h.01M533.28 436.06h.01M489.55 444.86h.01M505.9 424.54h.01M501.65 459.54h.01M520.54 421.67h.01M545.05 446.34h.01M542.59 451.74h.01M492.31 450.1h.01M540.5 435.93h.01M498.7 469.07h.01M547.86 444.93h.01M476.6 470.95h.01M526.87 417.63h.01M511.34 471.96h.01M528.75 470.11h.01M538.91 425.67h.01M525.33 469.97h.01M543.23 425.39h.01M480.24 451.5h.01M546.54 443.16h.01M516.97 428.13h.01M542.59 469.1h.01M535.22 431.82h.01M497.31 418.9h.01M527.49 455.51h.01M500.15 409.94h.01M541.98 428.93h.01M521.17 458.02h.01M539.33 452.42h.01M487.64 412.17h.01M498.46 469.43h.01M536.49 472.68h.01M507.08 456.31h.01M486.33 450.85h.01M544.96 446.03h.01M541.68 451.93h.01M539.44 467.92h.01M540.37 423.71h.01M477.89 438.82h.01M484.21 458.76h.01M482.15 443.01h.01M539.1 464.58h.01M526.14 458.78h.01M482.68 475.36h.01M515.54 422.12h.01M540.95 477.04h.01M474.42 467.5h.01M478.58 429.1h.01M529.54 458.62h.01M542.36 471.59h.01M480.43 457.98h.01M489.95 435.66h.01M515.72 425.92h.01M525.86 479.5h.01M488.01 437.44h.01M541.34 459h.01M544.39 458.84h.01M492.18 468.66h.01M538.17 424.81h.01M530.89 420.12h.01M550.33 472.08h.01M525.1 414.28h.01M494.5 470.4h.01M513.97 453.16h.01M523.77 437.79h.01M531.82 416.1h.01M520.85 428.86h.01M507.8 406.31h.01M536.08 476.77h.01M511.83 458.18h.01M545.26 428.59h.01M496.89 423.06h.01M514.28 416.8h.01M489.62 435.25h.01M505.77 453.84h.01M496.73 416.1h.01M528.3 419.9h.01M499.04 466.72h.01M558.36 428.94h.01M525.11 424.58h.01M543.67 467.75h.01M552.1 450.21h.01M520.71 415.91h.01M533.58 456.67h.01M537.23 454.86h.01M479.08 463.94h.01M495.39 450.1h.01M547.5 424.26h.01M540.3 448.58h.01M534.46 462h.01M552.67 430.92h.01M527.41 479.69h.01M539.95 462.63h.01M543.32 447.53h.01M547.94 470.2h.01M518.49 442.67h.01M544.32 471.75h.01M498.67 424.71h.01M507.02 450.53h.01M543.35 467.69h.01M538.08 443.58h.01M539.81 426h.01M483.41 430.05h.01M515.88 452.34h.01M511.83 426.91h.01M544.92 442.69h.01M520.44 465.44h.01M520.16 419.77h.01M492.16 422.07h.01M504.25 469.65h.01M515.41 455.77h.01M521.89 470.54h.01M546.69 429.62h.01M539.39 463.9h.01M538.53 438.97h.01M540.97 465.56h.01M514.99 419.01h.01M522.02 453.79h.01M518.17 455.7h.01M519.21 458.57h.01M546.21 426.07h.01M499.83 414.72h.01M517.64 454.94h.01M533 441.14h.01M528.84 416.59h.01M483.84 453.99h.01M537.55 434.6h.01M491.3 442.49h.01M489.46 436.09h.01M547.91 431.32h.01M515.57 421.4h.01M517.96 458.46h.01M488.85 457.26h.01M500.48 426.71h.01M504.7 423.66h.01M520.8 412.45h.01M534.13 425.99h.01M486.23 438.9h.01M513.77 415.58h.01M532.35 473.19h.01M476.63 466.68h.01M537.86 469.61h.01M498.48 455.97h.01M483.63 464.79h.01M518.42 468.85h.01M492.15 439.1h.01M494.49 461.55h.01M493.03 433.34h.01M492.67 472.78h.01M482.93 463.42h.01M520.39 457.11h.01M531.85 481.14h.01M490.24 435.32h.01M486.07 445.92h.01M508.82 411.12h.01M545.42 437.09h.01M566.45 455.63h.01M529.35 463.29h.01M540.52 464.11h.01M498.42 424.53h.01M525.39 433h.01M483.52 458.97h.01M485.49 447.12h.01M502.57 416.71h.01M474.6 463.28h.01M505.3 458.27h.01M506.15 414.04h.01M538.3 435.7h.01M488.26 455.87h.01M523.25 453.76h.01M529.96 458.9h.01M528.94 464.79h.01M542.29 481.06h.01M542.03 469.31h.01M536 451.92h.01M523.09 451.65h.01M487.16 459.55h.01M521.55 465.11h.01M547.59 448.18h.01M487.46 413.08h.01M520.52 462.77h.01M492.68 436.88h.01M545.17 450.58h.01M523.75 459.21h.01M544.52 414.06h.01M508.49 420.23h.01M533.65 419.94h.01M540.93 430.67h.01M499.37 415.18h.01M524.41 415.91h.01M536.01 481.61h.01M503.39 422.4h.01M509.81 419.4h.01M531.8 431.86h.01M544.62 431.76h.01M484.6 479.75h.01M515.56 423.11h.01M526.07 462.31h.01M483 429.67h.01M496.41 458.33h.01M533.07 423.97h.01M504.16 445.62h.01M484.57 437.27h.01M544.99 458.55h.01M487.14 450.51h.01M491.64 432.07h.01M525.58 468.41h.01M535.04 428.5h.01M513.17 471.5h.01M541.11 438.26h.01M545.04 430.89h.01M486.4 466h.01M536.38 473.23h.01M497.77 429.33h.01M539.11 476.93h.01M534.08 479.69h.01M536.64 420.26h.01M512.74 455.26h.01M526.29 471.7h.01M503.7 415.74h.01M531.04 477.36h.01M489.03 474.37h.01M502.78 453.79h.01M521.18 438.45h.01M531.23 431.31h.01M512.24 470.74h.01M542.5 430.19h.01M536.36 436.81h.01M547.81 444.94h.01M523.73 459.95h.01M516.05 465.56h.01M537.13 434.43h.01M504.81 464.27h.01M500.97 441.28h.01M533.73 468.27h.01M485.9 463.86h.01M520.09 459.04h.01M474.73 434.47h.01M514.32 461.31h.01M538.15 475.07h.01M542.23 442.69h.01M523.97 466.23h.01M545.93 453.53h.01M540.1 438.73h.01M542.17 468.82h.01M538.41 457.97h.01M538.3 422.4h.01M541.96 472.01h.01M485.5 423.12h.01M496.99 439.72h.01M534.43 474.27h.01M481.95 458.5h.01M503.59 463.32h.01M549.54 450.73h.01M515.92 420.68h.01M543.55 466.84h.01M534.9 466.98h.01M514.77 448.59h.01M535.86 426.01h.01M492.77 481.42h.01M498.99 460.43h.01M494.9 445.74h.01M538.7 438.04h.01M515.96 411.81h.01M538.65 478.72h.01M490.67 465.85h.01M485.19 452.36h.01M485.03 465.69h.01M492.22 471.46h.01M523.29 432.33h.01M529.47 422.2h.01M516.33 422.6h.01M497.06 428.66h.01M519.53 425.82h.01M500.64 472.19h.01M540.13 478.69h.01M525.94 471.58h.01M541.52 466.16h.01M539.92 462.34h.01M483.19 466.52h.01M498.93 434.05h.01M498.52 422.78h.01M533.32 480.3h.01M537.9 478.82h.01M489.09 423.48h.01M491.56 446.34h.01M548.15 457.01h.01M501.56 460.1h.01M533.11 463.52h.01M532.31 476.99h.01M533.88 474.33h.01M533.55 450.77h.01M538.66 429.51h.01M519.02 466.61h.01M485.98 450.29h.01M495.93 474.08h.01M533.62 412.05h.01M537.48 470.54h.01M486.31 432.29h.01M539 462h.01M480.42 451.1h.01M539.79 479.39h.01M537.23 429.91h.01M483.81 441.76h.01M507.37 453.49h.01M530.17 455.6h.01M513.02 453.84h.01M490.55 428.72h.01M521.39 431.83h.01M482.83 454.97h.01M495.12 463.68h.01M487.69 420.66h.01M501.35 457.38h.01M509.07 418.04h.01M476.45 452.69h.01M477.81 458.51h.01M493.88 455.29h.01M546.65 424.05h.01M512.81 455.44h.01M513.91 444.31h.01M529.94 449.08h.01M540.86 472.61h.01M490.16 436.97h.01M509.46 416.5h.01M532.68 440.19h.01M497.17 418.08h.01M485.84 446.96h.01M539.02 472.78h.01M508.62 465.07h.01M497.18 422.63h.01M528.5 467.72h.01M523.32 421.71h.01M485.04 447.7h.01M549.99 425.11h.01M518.49 453.37h.01M558.63 459h.01M490.07 421.07h.01M534.55 477.37h.01M495.75 469.72h.01M514.72 462.18h.01M513.37 466.86h.01M485.63 465.43h.01M542.23 443.64h.01M513.18 421.74h.01M535.24 474.4h.01M510.61 416.3h.01M493.7 426.55h.01M531.37 474.37h.01M482 445.53h.01M542.64 481.55h.01M535.97 445.05h.01M540.05 470.03h.01M495.13 450.24h.01M517.99 457.73h.01M476.04 454.43h.01M521.04 421.58h.01M541.72 431.91h.01M540.25 467.61h.01M507.53 408.86h.01M537.59 455.45h.01M540.02 474.3h.01M539 441.85h.01M485.85 445.56h.01M540.42 435.74h.01M536.33 482.18h.01M544.49 462.43h.01M511.43 461.05h.01M509.36 426.36h.01M509.4 464.67h.01M506.79 453.34h.01M552.41 432.45h.01M544.65 456.13h.01M505.67 423.25h.01M498.83 474.31h.01M524.89 434.7h.01M533.68 457.21h.01M485.18 434.92h.01M523.89 432.02h.01M542.03 461.86h.01M480.22 452.37h.01M545.85 457.02h.01M541.17 471.69h.01M526.84 423.2h.01M522.29 425.1h.01M489.27 442.87h.01M547.2 473.49h.01M501.82 462.41h.01M499.32 430.73h.01M473.41 452.57h.01M507.97 456.75h.01M496.82 421.64h.01M523.81 468.42h.01M485.3 451.39h.01M502.4 479.18h.01M532.64 471.1h.01M530.78 471.03h.01M523.6 423.65h.01M549.21 480.71h.01M537.97 437.3h.01M508.67 410.8h.01M544.83 453.48h.01M515.56 426.29h.01M543.51 445.66h.01M512.69 433.09h.01M491.49 431.67h.01M531.88 468.06h.01M505.14 451.48h.01M525.27 432.08h.01M544.68 473.32h.01M538.96 464.26h.01M485.7 457.88h.01M533.42 467.21h.01M486.7 463.49h.01M536.24 476.68h.01M475.45 437.88h.01M497.03 427.27h.01M502.09 404.85h.01M497.99 466.73h.01M501.99 466.64h.01M478.51 449.29h.01M476.38 449.18h.01M514.25 414.05h.01M479.86 435.06h.01M483.67 456.89h.01M481.73 435.35h.01" fill="none" stroke="#6c6c6c" stroke-width=".6" stroke-linecap="round"/>
<path d="M536.78 469.27h.01M515.9 411.72h.01M523.55 431.07h.01M522.93 431.05h.01M510.09 468.91h.01M512.3 472.68h.01M515.36 479.07h.01M524.68 467.39h.01M485.23 460.6h.01M534.5 428.18h.01M487.74 470.22h.01M514.6 458.35h.01M544.3 444.7h.01M532.88 436.06h.01M479.34 444.4h.01M520.61 432.5h.01M493.04 419.28h.01M560.3 454.23h.01M493.99 449.64h.01M503.44 425.91h.01M539.49 457.39h.01M488.52 467.15h.01M513.08 471.53h.01M481.06 476.16h.01M528.48 476.42h.01M503.9 474.41h.01M529.69 421.09h.01M540.06 449.1h.01M528.67 444.91h.01M543.72 420.46h.01M515.76 422.2h.01M547.5 465.93h.01M493.42 427.21h.01M526.12 476.2h.01M547.37 431.85h.01M547.22 468.09h.01M520.17 428.39h.01M499.93 432.45h.01M483.06 471.03h.01M540.03 421.62h.01M521.44 474.2h.01M522.23 464.44h.01M499.99 427.52h.01M519.44 429.07h.01M500.04 458.25h.01M526.33 471.21h.01M491.1 448.5h.01M495.15 405.79h.01M500.17 468.58h.01M480.81 456.16h.01M519.89 418.69h.01M537.27 437.87h.01M539.37 476.28h.01M482.55 469.75h.01M530.85 419.97h.01M527.63 434.01h.01M544.8 456.26h.01M513.52 466.4h.01M500.35 444.66h.01M545.23 461.48h.01M543.13 471.58h.01M528.88 410.51h.01M503.55 415.22h.01M528.83 453.33h.01M525.89 471.38h.01M547.15 467.09h.01M521.55 419.86h.01M513.88 452.26h.01M523.72 449.72h.01M502.22 447.03h.01M507.93 458.92h.01M493 443.68h.01M536.13 443.92h.01M542.64 468.43h.01M494.36 425.65h.01M492.02 472.2h.01M531.33 428.71h.01M472.63 457.64h.01M528.56 476.51h.01M487.35 445.96h.01M496.37 403.98h.01M484.42 473.42h.01M540.81 451.08h.01M514.68 468.25h.01M485.32 453.19h.01M486.27 455.2h.01M502.38 461.33h.01M519.76 425.7h.01M539.4 460.9h.01M514.8 442.99h.01M513.27 470.28h.01M538.24 458.67h.01M530.13 450.25h.01M547.75 428.67h.01M484.28 436.95h.01M521.17 454.37h.01M488.79 453.55h.01M527.69 464.17h.01M538.46 430.71h.01M506.43 440.77h.01M499 415.45h.01M519.86 448.65h.01M542.36 480.61h.01M527.52 458.48h.01M527.26 422.35h.01M538.68 464.19h.01M525.47 433.42h.01M485.5 469.98h.01M539.98 454.45h.01M484.71 463.34h.01M513.79 425.66h.01M509.12 475.09h.01M544.93 440.37h.01M531.46 464.18h.01M519.5 457.15h.01M544.62 471.12h.01M508.72 458.64h.01M523.19 412.48h.01M523.6 422.65h.01M476.36 478.11h.01M521.04 442.66h.01M491.31 427.67h.01M498.38 420.59h.01M507.51 416.02h.01M527.81 431.31h.01M513.4 450.4h.01M497.45 450.58h.01M503.82 412.32h.01M517.39 393.32h.01M488.63 468.68h.01M541.97 462.14h.01M538.26 459.03h.01M541.47 456.51h.01M534.55 445.59h.01M517.04 424.29h.01M509.69 403.57h.01M483.97 446.7h.01M497.98 443.48h.01M529.46 466.49h.01M501.7 438.16h.01M509.94 475.87h.01M519.88 424.66h.01M494.22 436.37h.01M478.32 447.51h.01M493.84 401.21h.01M526.19 432.82h.01M523.3 463.18h.01M530.54 452.18h.01M506.87 454.77h.01M484.65 420.71h.01M526.08 471.33h.01M538.92 431.64h.01M473.22 465.89h.01M518.57 422.93h.01M515.19 463.89h.01M539.32 476.72h.01M523.87 439.52h.01M540.14 447.9h.01M504.78 414.39h.01M516.92 423.52h.01M518.36 462.13h.01M522.5 424.12h.01M537.01 475.84h.01M552.77 439.84h.01M514.65 467.17h.01M509.2 417.89h.01M509.54 434.72h.01M543.31 458.79h.01M523.38 435.76h.01M511.47 426.69h.01M490.53 414.4h.01" fill="none" stroke="#777" stroke-width=".58" stroke-linecap="round"/>
<g transform="translate(455 360) scale(.24795)">
<clipPath id="c4o"><path d="M122 328C123 304 121 315 126 295C131 275 128 284 137 268C146 252 142 260 154 248C166 236 163 241 174 231C185 221 175 225 187 218C199 211 196 211 211 211C226 211 220 209 231 218C242 227 233 227 244 238C255 249 247 247 264 251C281 255 275 254 294 251C313 248 304 245 321 243C338 241 331 239 344 245C357 251 352 246 361 261C370 276 368 269 371 291C374 313 373 305 371 328C369 351 370 339 364 361C358 383 361 373 354 395C347 417 352 407 344 428C336 449 341 444 331 458C321 472 324 472 314 471C304 470 308 469 301 455C294 441 298 447 293 428C288 409 291 415 286 398C281 381 285 387 277 378C269 369 273 372 261 371C249 370 256 370 241 375C226 380 233 377 217 385C201 393 208 389 194 398C180 407 186 401 174 413C162 425 168 428 157 433C146 438 150 437 141 428C132 419 135 425 129 405C123 385 124 394 122 368C120 342 121 352 122 328Z"/></clipPath><clipPath id="c4"><path d="M134 329C134 306 133 316 137 298C141 279 138 288 146 273C154 259 149 266 161 255C172 243 170 248 180 238C191 228 181 232 192 226C202 219 199 219 211 218C223 217 217 215 227 224C236 232 227 232 239 243C251 254 243 253 262 258C281 263 275 261 295 259C315 256 306 253 322 250C337 248 330 247 341 251C352 256 347 251 355 265C363 278 362 271 364 292C367 313 366 305 363 327C360 349 361 337 355 359C349 380 351 370 344 392C338 414 342 405 334 424C326 444 327 441 321 450C315 459 319 453 316 452C314 451 317 457 314 448C311 439 311 443 306 425C301 406 305 413 299 394C293 374 300 380 288 367C276 353 280 355 263 352C246 349 254 352 236 359C218 365 227 362 210 371C193 380 201 375 186 386C171 396 176 393 165 403C153 413 157 412 152 417C148 421 155 421 151 415C148 410 148 417 142 400C137 384 137 391 135 367C132 343 133 352 134 329Z"/></clipPath>
<path d="M122 328C123 304 121 315 126 295C131 275 128 284 137 268C146 252 142 260 154 248C166 236 163 241 174 231C185 221 175 225 187 218C199 211 196 211 211 211C226 211 220 209 231 218C242 227 233 227 244 238C255 249 247 247 264 251C281 255 275 254 294 251C313 248 304 245 321 243C338 241 331 239 344 245C357 251 352 246 361 261C370 276 368 269 371 291C374 313 373 305 371 328C369 351 370 339 364 361C358 383 361 373 354 395C347 417 352 407 344 428C336 449 341 444 331 458C321 472 324 472 314 471C304 470 308 469 301 455C294 441 298 447 293 428C288 409 291 415 286 398C281 381 285 387 277 378C269 369 273 372 261 371C249 370 256 370 241 375C226 380 233 377 217 385C201 393 208 389 194 398C180 407 186 401 174 413C162 425 168 428 157 433C146 438 150 437 141 428C132 419 135 425 129 405C123 385 124 394 122 368C120 342 121 352 122 328Z" fill="#000"/>
<g clip-path="url(#c4o)"><g clip-path="url(#c4)">
<path d="M134 329C134 306 133 316 137 298C141 279 138 288 146 273C154 259 149 266 161 255C172 243 170 248 180 238C191 228 181 232 192 226C202 219 199 219 211 218C223 217 217 215 227 224C236 232 227 232 239 243C251 254 243 253 262 258C281 263 275 261 295 259C315 256 306 253 322 250C337 248 330 247 341 251C352 256 347 251 355 265C363 278 362 271 364 292C367 313 366 305 363 327C360 349 361 337 355 359C349 380 351 370 344 392C338 414 342 405 334 424C326 444 327 441 321 450C315 459 319 453 316 452C314 451 317 457 314 448C311 439 311 443 306 425C301 406 305 413 299 394C293 374 300 380 288 367C276 353 280 355 263 352C246 349 254 352 236 359C218 365 227 362 210 371C193 380 201 375 186 386C171 396 176 393 165 403C153 413 157 412 152 417C148 421 155 421 151 415C148 410 148 417 142 400C137 384 137 391 135 367C132 343 133 352 134 329Z" fill="#dedede"/>
<path d="M134 329C134 306 133 316 137 298C141 279 138 288 146 273C154 259 149 266 161 255C172 243 170 248 180 238C191 228 181 232 192 226C202 219 199 219 211 218C223 217 217 215 227 224C236 232 227 232 239 243C251 254 243 253 262 258C281 263 275 261 295 259C315 256 306 253 322 250C337 248 330 247 341 251C352 256 347 251 355 265C363 278 362 271 364 292C367 313 366 305 363 327C360 349 361 337 355 359C349 380 351 370 344 392C338 414 342 405 334 424C326 444 327 441 321 450C315 459 319 453 316 452C314 451 317 457 314 448C311 439 311 443 306 425C301 406 305 413 299 394C293 374 300 380 288 367C276 353 280 355 263 352C246 349 254 352 236 359C218 365 227 362 210 371C193 380 201 375 186 386C171 396 176 393 165 403C153 413 157 412 152 417C148 421 155 421 151 415C148 410 148 417 142 400C137 384 137 391 135 367C132 343 133 352 134 329Z" fill="none" stroke="#101010" stroke-width="26" opacity=".8" filter="url(#bl)"/>
<path d="M134 329C134 306 133 316 137 298C141 279 138 288 146 273C154 259 149 266 161 255C172 243 170 248 180 238C191 228 181 232 192 226C202 219 199 219 211 218C223 217 217 215 227 224C236 232 227 232 239 243C251 254 243 253 262 258C281 263 275 261 295 259C315 256 306 253 322 250C337 248 330 247 341 251C352 256 347 251 355 265C363 278 362 271 364 292C367 313 366 305 363 327C360 349 361 337 355 359C349 380 351 370 344 392C338 414 342 405 334 424C326 444 327 441 321 450C315 459 319 453 316 452C314 451 317 457 314 448C311 439 311 443 306 425C301 406 305 413 299 394C293 374 300 380 288 367C276 353 280 355 263 352C246 349 254 352 236 359C218 365 227 362 210 371C193 380 201 375 186 386C171 396 176 393 165 403C153 413 157 412 152 417C148 421 155 421 151 415C148 410 148 417 142 400C137 384 137 391 135 367C132 343 133 352 134 329Z" fill="none" stroke="#e4e4e4" stroke-width="2.2" opacity=".45"/>
<path d="M161 305C164 288 163 291 174 278C185 265 180 265 194 265C208 265 206 267 217 278C228 289 231 285 227 298C223 311 219 308 204 318C189 328 194 323 181 327C168 331 171 336 164 329C157 322 158 322 161 305Z" fill="#d0d0d0" stroke="#fff" stroke-width="3.4"/>
<radialGradient id="g8" gradientUnits="userSpaceOnUse" cx="190" cy="298" r="28" gradientTransform="translate(190 298) rotate(-15) scale(1 .93) translate(-190 -298)"><stop offset="0" stop-color="#777" stop-opacity=".8"/><stop offset=".45" stop-color="#777" stop-opacity=".6"/><stop offset="1" stop-color="#777" stop-opacity="0"/></radialGradient>
<rect x="134" y="242" width="112" height="112" fill="url(#g8)"/>
<radialGradient id="g9" gradientUnits="userSpaceOnUse" cx="316" cy="444" r="26" gradientTransform="translate(316 444) rotate(10) scale(1 1.54) translate(-316 -444)"><stop offset="0" stop-color="#1a1a1a" stop-opacity=".8"/><stop offset=".5" stop-color="#1a1a1a" stop-opacity=".6"/><stop offset="1" stop-color="#1a1a1a" stop-opacity="0"/></radialGradient>
<rect x="236" y="364" width="160" height="160" fill="url(#g9)"/>
<path d="M306 296.75A30 30 0 1 1 364.79 305.42L323.61 446.2A9.6 9.6 0 0 1 304.8 443.42Z" fill="#b4b4b4" filter="url(#bl)" opacity=".9"/>
<path d="M312.51 300.34A24.5 24.5 0 1 1 360.21 308.83L324.8 413.79A7.84 7.84 0 0 1 309.54 411.07Z" fill="#a2a2a2" stroke="#fff" stroke-width="3.4" stroke-linejoin="round"/>
<path d="M320.51 304.29A17.5 17.5 0 1 1 354.35 311.23L328.36 379.51A5.6 5.6 0 0 1 317.53 377.29Z" fill="#848484" stroke="#fff" stroke-width="3.4" stroke-linejoin="round"/>
<path d="M329.01 309.48A10 10 0 1 1 348.13 313.07L336.51 339.16A3.2 3.2 0 0 1 330.39 338.01Z" fill="#4a4a4a" stroke="#fff" stroke-width="3.2" stroke-linejoin="round"/>
</g></g>
</g>
<rect x="479.3" y="382.4" width="71.9" height="33.6" fill="none" stroke="#0a0a0a" stroke-width="1.6"/>
<text x="553.8" y="393.5" font-size="9.8" fill="#141414">0,81</text>
<text transform="translate(590.4 434.5) rotate(-90)" font-size="12.9" font-weight="bold" stroke="#000" stroke-width=".3" text-anchor="middle">R848</text>
<path d="M350.2 502V605H452.2" fill="none" stroke="#c4c4c4" stroke-width=".7"/>
<path d="M350.2 605v2.6M350.2 605h-2.6M375.7 605v2.6M350.2 579.5h-2.6M401.2 605v2.6M350.2 554h-2.6M426.7 605v2.6M350.2 528.5h-2.6M452.2 605v2.6M350.2 503h-2.6" fill="none" stroke="#3a3a3a" stroke-width=".9"/>
<path d="M357.88 605.3v1.3M349.9 597.32h-1.3M362.37 605.3v1.3M349.9 592.83h-1.3M365.55 605.3v1.3M349.9 589.65h-1.3M368.02 605.3v1.3M349.9 587.18h-1.3M370.04 605.3v1.3M349.9 585.16h-1.3M371.75 605.3v1.3M349.9 583.45h-1.3M373.23 605.3v1.3M349.9 581.97h-1.3M374.53 605.3v1.3M349.9 580.67h-1.3M383.38 605.3v1.3M349.9 571.82h-1.3M387.87 605.3v1.3M349.9 567.33h-1.3M391.05 605.3v1.3M349.9 564.15h-1.3M393.52 605.3v1.3M349.9 561.68h-1.3M395.54 605.3v1.3M349.9 559.66h-1.3M397.25 605.3v1.3M349.9 557.95h-1.3M398.73 605.3v1.3M349.9 556.47h-1.3M400.03 605.3v1.3M349.9 555.17h-1.3M408.88 605.3v1.3M349.9 546.32h-1.3M413.37 605.3v1.3M349.9 541.83h-1.3M416.55 605.3v1.3M349.9 538.65h-1.3M419.02 605.3v1.3M349.9 536.18h-1.3M421.04 605.3v1.3M349.9 534.16h-1.3M422.75 605.3v1.3M349.9 532.45h-1.3M424.23 605.3v1.3M349.9 530.97h-1.3M425.53 605.3v1.3M349.9 529.67h-1.3M434.38 605.3v1.3M349.9 520.82h-1.3M438.87 605.3v1.3M349.9 516.33h-1.3M442.05 605.3v1.3M349.9 513.15h-1.3M444.52 605.3v1.3M349.9 510.68h-1.3M446.54 605.3v1.3M349.9 508.66h-1.3M448.25 605.3v1.3M349.9 506.95h-1.3M449.73 605.3v1.3M349.9 505.47h-1.3M451.03 605.3v1.3M349.9 504.17h-1.3" fill="none" stroke="#777" stroke-width=".8"/>
<path d="M439 502.2H452.2" fill="none" stroke="#c4c4c4" stroke-width=".7"/>
<path d="M397.78 528.23h.01M428.19 575.31h.01M419.95 522.12h.01M354.57 567.29h.01M421.05 502.95h.01M435.72 593.53h.01M387.05 554.94h.01M416.6 596.43h.01M416.46 554.6h.01M428.62 551.97h.01M353.55 557.82h.01M392.42 536.19h.01M390.41 524.56h.01M382.01 578.2h.01M440.52 548.56h.01M436.45 514.8h.01M402.81 577.93h.01M429.87 541.5h.01M367.33 600h.01M412.35 568.62h.01M385.49 513.54h.01M408.38 543.28h.01M422.49 550.84h.01M396.29 545.83h.01M395.44 556.49h.01M426.84 563.57h.01M382.46 558.78h.01M426.73 575.86h.01M389.92 543.48h.01M394.37 580.16h.01M399.09 544.1h.01M403.95 560.74h.01M395.81 561.74h.01M374.23 551.76h.01M417.55 570.55h.01M371.43 539.51h.01M420.55 571.79h.01M398.56 557.3h.01M439.5 543.32h.01M386.18 572.01h.01M405.52 571.81h.01M362.37 574.71h.01M423.5 557.08h.01M419.43 559.72h.01M394.97 563.8h.01M390.7 565.47h.01M424.64 582.8h.01M417.98 530.12h.01M366.47 521.82h.01M413.5 525.01h.01M387.52 513.96h.01M426.94 530.87h.01M417.06 526.06h.01M431.81 530.3h.01M447.27 519.32h.01M426.78 532.87h.01M351.86 547.57h.01M390.03 509.57h.01M398.96 535.77h.01M373.27 522.21h.01M389.01 522.12h.01M373.4 531.73h.01M401.35 503.88h.01M397.86 513.26h.01M395.75 516.87h.01M396.48 522.68h.01M406.34 530.38h.01M372.77 538.43h.01M436.89 519.22h.01M447.82 528.16h.01M371.26 508.72h.01M407.11 527.7h.01M362.37 521.83h.01M393.45 517.62h.01M399.21 544.36h.01M440.79 519.99h.01M373.08 528.2h.01M386.05 525.15h.01M420.43 528.03h.01M427.92 544.91h.01M363.17 541.1h.01M435.35 513.52h.01M380.36 526.62h.01M377.94 520.27h.01M404.12 521.14h.01M383.55 516.42h.01M369.51 530.62h.01M356.32 545.6h.01M433.11 520.31h.01M383.09 521.16h.01M408.08 511.7h.01M369.41 512.12h.01M386.05 522.24h.01" fill="none" stroke="#808080" stroke-width=".58" stroke-linecap="round"/>
<path d="M414.82 554.25h.01M369.36 529.17h.01M436.78 586.27h.01M419.46 550.61h.01M393.07 527.69h.01M396 559.88h.01M392.56 570.7h.01M390.69 540.65h.01M409.92 578.76h.01M369.01 545.46h.01M368.52 568.69h.01M398.93 580.34h.01M392.52 572.28h.01M373.45 509.04h.01M361.63 533.16h.01M369.34 578.92h.01M363.44 510.78h.01M430.44 579.42h.01M381.99 517.17h.01M359.89 558.83h.01M386.48 565.1h.01M422.61 558.12h.01M363.63 544.04h.01M378.64 577.47h.01M412.22 578.33h.01M366.54 545.76h.01M389 513.36h.01M436 571.85h.01M405 546.43h.01M377.28 580.93h.01M429.45 599.56h.01M357.83 537h.01M379.21 517.8h.01M363.74 552.75h.01M415.61 603.21h.01M356.02 559.21h.01M371.69 512.81h.01M383.66 582.27h.01M415.45 549.57h.01M417.82 599.47h.01M392.54 578.61h.01M397.21 574.67h.01M415.08 579.21h.01M382.73 519.53h.01M384.82 527.23h.01M425.07 552.83h.01M380.49 523.71h.01M440.45 549.99h.01M351.98 578.23h.01M446.4 568.07h.01M373.73 512.62h.01M430.28 544.19h.01M424 557.48h.01M390.33 523.51h.01M397.3 557.83h.01M420.66 552.26h.01M355.5 563.97h.01M384.65 525.84h.01M366.04 573.76h.01M362.89 525.03h.01M354.05 555.06h.01M395.92 525.37h.01M367.83 574.69h.01M443.02 600.55h.01M361.27 543.22h.01M425.37 591.27h.01M415.61 588.02h.01M382.76 535.36h.01M392.72 556.46h.01M394.14 524.24h.01M418.42 549.38h.01M364.14 574.04h.01M411.04 559.32h.01M355.63 567.87h.01M387.76 537.42h.01M429.44 599.77h.01M407.74 539.77h.01M415.47 548.75h.01M376.32 526.2h.01M386.46 535.79h.01M444.11 578.22h.01M377.32 558.09h.01M417.04 578.19h.01M391.34 580.06h.01M362.1 508.37h.01M416.16 558.67h.01M360.24 566.31h.01M430.03 565.48h.01M389.01 510.15h.01M429.68 593.36h.01M357.71 566.5h.01M368.93 565.35h.01M390.23 529.92h.01M394.06 531.58h.01M409.3 575.02h.01M429.14 590.6h.01M378.13 576.21h.01M395.18 566.54h.01M437.49 590.72h.01M372.84 510.65h.01M379.2 548.4h.01M427.65 560.77h.01M406.6 536.83h.01M436.02 577.01h.01M404.49 573.88h.01M365.75 567.7h.01M436.76 550.06h.01M443.33 585.73h.01M378.6 528.24h.01M359.78 559.1h.01M367.9 573.46h.01M368.94 544.91h.01M373.84 571.17h.01M432.23 585.81h.01M391.93 574.76h.01M372.14 520.35h.01M361.27 518.05h.01M394.04 504.72h.01M365.6 541.19h.01M362.91 508.38h.01" fill="none" stroke="#777" stroke-width=".58" stroke-linecap="round"/>
<g transform="translate(320 480) scale(.24795)">
<clipPath id="c5o"><path d="M121 353C128 346 131 350 148 341C165 332 160 340 171 327C182 314 174 319 181 301C188 283 185 294 191 274C197 254 196 263 200 241C204 219 201 229 202 207C203 185 208 191 204 174C200 157 198 170 191 157C184 144 183 149 184 134C185 119 186 124 194 111C202 98 193 101 208 94C223 87 224 89 238 91C252 93 242 91 251 101C260 111 250 107 264 121C278 135 292 134 294 144C296 154 279 142 271 151C263 160 268 156 269 171C270 186 269 178 274 197C279 216 276 208 284 227C292 246 286 239 298 254C310 269 304 262 321 271C338 280 330 279 348 281C366 283 354 280 374 277C394 274 388 274 408 271C428 268 419 266 434 269C449 272 443 268 454 281C465 294 462 287 468 307C474 327 473 319 473 341C473 363 471 354 469 374C467 394 466 383 468 401C470 419 474 409 474 427C474 445 476 439 468 454C460 469 463 469 451 471C439 473 445 470 431 461C417 452 422 460 408 444C394 428 400 434 388 414C376 394 382 400 371 384C360 368 363 377 354 367C345 357 349 364 344 354C339 344 347 344 338 337C329 330 333 333 318 334C303 335 306 333 294 341C282 349 291 349 281 357C271 365 276 361 264 364C252 367 256 363 244 367C232 371 239 368 228 377C217 386 222 392 211 394C200 396 203 394 194 384C185 374 192 375 184 364C176 353 183 354 171 351C159 348 162 352 148 355C134 358 137 362 128 361C119 360 114 360 121 353Z"/></clipPath><clipPath id="c5"><path d="M132 356C139 355 136 356 152 348C167 341 165 348 178 333C192 319 183 323 191 305C199 286 195 298 202 277C208 257 207 266 212 243C216 220 213 232 215 208C216 184 220 189 216 170C212 151 209 163 202 151C196 139 196 146 197 135C197 123 198 127 203 116C208 105 201 108 212 101C223 95 225 95 236 97C248 98 239 96 246 105C254 115 246 113 259 125C273 138 285 136 286 143C288 149 272 136 264 145C256 155 261 153 262 171C263 189 262 179 268 199C273 218 269 210 278 230C287 249 280 243 293 258C307 274 300 267 318 276C336 286 328 284 347 287C366 289 355 287 375 283C396 280 390 280 409 277C428 274 419 272 433 275C446 277 440 274 449 285C459 297 456 290 462 309C467 328 466 320 466 341C466 363 463 353 462 373C460 394 459 384 461 402C463 420 467 411 467 427C467 443 466 439 460 450C454 461 457 460 449 460C442 460 448 459 437 450C427 442 430 450 417 435C404 421 411 427 399 407C387 388 393 393 381 376C369 360 372 368 363 359C355 349 361 358 355 348C349 338 359 336 346 327C333 319 336 321 317 322C298 324 302 324 288 333C274 342 284 342 275 349C266 356 273 351 261 353C249 356 253 352 240 357C227 362 232 361 222 369C212 378 216 381 210 383C203 385 208 384 203 375C198 367 204 369 194 357C185 345 191 343 175 339C158 335 160 341 145 344C131 348 136 346 131 349C127 353 126 356 132 356Z"/></clipPath>
<path d="M121 353C128 346 131 350 148 341C165 332 160 340 171 327C182 314 174 319 181 301C188 283 185 294 191 274C197 254 196 263 200 241C204 219 201 229 202 207C203 185 208 191 204 174C200 157 198 170 191 157C184 144 183 149 184 134C185 119 186 124 194 111C202 98 193 101 208 94C223 87 224 89 238 91C252 93 242 91 251 101C260 111 250 107 264 121C278 135 292 134 294 144C296 154 279 142 271 151C263 160 268 156 269 171C270 186 269 178 274 197C279 216 276 208 284 227C292 246 286 239 298 254C310 269 304 262 321 271C338 280 330 279 348 281C366 283 354 280 374 277C394 274 388 274 408 271C428 268 419 266 434 269C449 272 443 268 454 281C465 294 462 287 468 307C474 327 473 319 473 341C473 363 471 354 469 374C467 394 466 383 468 401C470 419 474 409 474 427C474 445 476 439 468 454C460 469 463 469 451 471C439 473 445 470 431 461C417 452 422 460 408 444C394 428 400 434 388 414C376 394 382 400 371 384C360 368 363 377 354 367C345 357 349 364 344 354C339 344 347 344 338 337C329 330 333 333 318 334C303 335 306 333 294 341C282 349 291 349 281 357C271 365 276 361 264 364C252 367 256 363 244 367C232 371 239 368 228 377C217 386 222 392 211 394C200 396 203 394 194 384C185 374 192 375 184 364C176 353 183 354 171 351C159 348 162 352 148 355C134 358 137 362 128 361C119 360 114 360 121 353Z" fill="#000"/>
<g clip-path="url(#c5o)"><g clip-path="url(#c5)">
<path d="M132 356C139 355 136 356 152 348C167 341 165 348 178 333C192 319 183 323 191 305C199 286 195 298 202 277C208 257 207 266 212 243C216 220 213 232 215 208C216 184 220 189 216 170C212 151 209 163 202 151C196 139 196 146 197 135C197 123 198 127 203 116C208 105 201 108 212 101C223 95 225 95 236 97C248 98 239 96 246 105C254 115 246 113 259 125C273 138 285 136 286 143C288 149 272 136 264 145C256 155 261 153 262 171C263 189 262 179 268 199C273 218 269 210 278 230C287 249 280 243 293 258C307 274 300 267 318 276C336 286 328 284 347 287C366 289 355 287 375 283C396 280 390 280 409 277C428 274 419 272 433 275C446 277 440 274 449 285C459 297 456 290 462 309C467 328 466 320 466 341C466 363 463 353 462 373C460 394 459 384 461 402C463 420 467 411 467 427C467 443 466 439 460 450C454 461 457 460 449 460C442 460 448 459 437 450C427 442 430 450 417 435C404 421 411 427 399 407C387 388 393 393 381 376C369 360 372 368 363 359C355 349 361 358 355 348C349 338 359 336 346 327C333 319 336 321 317 322C298 324 302 324 288 333C274 342 284 342 275 349C266 356 273 351 261 353C249 356 253 352 240 357C227 362 232 361 222 369C212 378 216 381 210 383C203 385 208 384 203 375C198 367 204 369 194 357C185 345 191 343 175 339C158 335 160 341 145 344C131 348 136 346 131 349C127 353 126 356 132 356Z" fill="#d4d4d4"/>
<radialGradient id="g10" gradientUnits="userSpaceOnUse" cx="231" cy="307" r="58" gradientTransform="translate(231 307) rotate(-10) scale(1 .72) translate(-231 -307)"><stop offset="0" stop-color="#242424" stop-opacity=".97"/><stop offset=".35" stop-color="#242424" stop-opacity=".73"/><stop offset="1" stop-color="#242424" stop-opacity="0"/></radialGradient>
<rect x="115" y="191" width="232" height="232" fill="url(#g10)"/>
<radialGradient id="g11" gradientUnits="userSpaceOnUse" cx="236" cy="175" r="22" gradientTransform="translate(236 175) rotate(0) scale(1 3.41) translate(-236 -175)"><stop offset="0" stop-color="#aaa" stop-opacity=".6"/><stop offset=".45" stop-color="#aaa" stop-opacity=".45"/><stop offset="1" stop-color="#aaa" stop-opacity="0"/></radialGradient>
<rect x="86" y="25" width="300" height="300" fill="url(#g11)"/>
<radialGradient id="g12" gradientUnits="userSpaceOnUse" cx="330" cy="312" r="40" gradientTransform="translate(330 312) rotate(0) scale(1 .65) translate(-330 -312)"><stop offset="0" stop-color="#999" stop-opacity=".45"/><stop offset=".45" stop-color="#999" stop-opacity=".34"/><stop offset="1" stop-color="#999" stop-opacity="0"/></radialGradient>
<rect x="250" y="232" width="160" height="160" fill="url(#g12)"/>
<radialGradient id="g13" gradientUnits="userSpaceOnUse" cx="429" cy="347" r="62" gradientTransform="translate(429 347) rotate(10) scale(1 1.29) translate(-429 -347)"><stop offset="0" stop-color="#1a1a1a" stop-opacity=".95"/><stop offset=".5" stop-color="#1a1a1a" stop-opacity=".71"/><stop offset="1" stop-color="#1a1a1a" stop-opacity="0"/></radialGradient>
<rect x="269" y="187" width="320" height="320" fill="url(#g13)"/>
<ellipse cx="428" cy="350" rx="29" ry="48" transform="rotate(10 428 350)" fill="#2e2e2e"/>
<ellipse cx="428" cy="350" rx="29" ry="48" transform="rotate(10 428 350)" fill="none" stroke="#fff" stroke-width="3.4"/>
<ellipse cx="430" cy="344" rx="22" ry="36" transform="rotate(10 430 344)" fill="none" stroke="#fff" stroke-width="3.4"/>
<ellipse cx="431" cy="340" rx="15" ry="24" transform="rotate(8 431 340)" fill="none" stroke="#fff" stroke-width="3.3"/>
<ellipse cx="432" cy="337" rx="7.5" ry="12" transform="rotate(5 432 337)" fill="none" stroke="#fff" stroke-width="3.2"/>
</g></g>
<path d="M121 353C128 345 130 348 148 339C166 330 165 322 176 326C187 330 189 340 180 350C171 360 165 353 148 357C131 361 137 363 128 362C119 361 114 361 121 353Z" fill="#000"/>
<path d="M262 118C272 119 293 132 296 144C299 156 282 154 272 153C262 152 269 152 266 140C263 128 252 117 262 118Z" fill="#000"/>
<path d="M330 340C334 338 337 341 348 352C359 363 361 365 362 372C363 379 359 377 350 372C341 367 343 369 336 358C329 347 326 342 330 340Z" fill="#000"/>
</g>
<rect x="359.7" y="502.4" width="79.3" height="40.3" fill="none" stroke="#0a0a0a" stroke-width="1.6"/>
<rect x="437" y="503.3" width="4" height="14.6" fill="#fff"/>
<path d="M439 503.3v14.6" stroke="#b8b8b8" stroke-width=".6"/>
<text x="431.2" y="513.5" font-size="9.8" fill="#141414">4,22</text>
<path d="M471.1 502V604H573.6" fill="none" stroke="#c4c4c4" stroke-width=".7"/>
<path d="M575.1 502V604" fill="none" stroke="#d4d4d4" stroke-width=".7"/>
<path d="M471.1 604v2.6M471.1 604h-2.6M496.6 604v2.6M471.1 578.5h-2.6M522.1 604v2.6M471.1 553h-2.6M547.6 604v2.6M471.1 527.5h-2.6M573.1 604v2.6M471.1 502h-2.6" fill="none" stroke="#3a3a3a" stroke-width=".9"/>
<path d="M478.78 604.3v1.3M470.8 596.32h-1.3M483.27 604.3v1.3M470.8 591.83h-1.3M486.45 604.3v1.3M470.8 588.65h-1.3M488.92 604.3v1.3M470.8 586.18h-1.3M490.94 604.3v1.3M470.8 584.16h-1.3M492.65 604.3v1.3M470.8 582.45h-1.3M494.13 604.3v1.3M470.8 580.97h-1.3M495.43 604.3v1.3M470.8 579.67h-1.3M504.28 604.3v1.3M470.8 570.82h-1.3M508.77 604.3v1.3M470.8 566.33h-1.3M511.95 604.3v1.3M470.8 563.15h-1.3M514.42 604.3v1.3M470.8 560.68h-1.3M516.44 604.3v1.3M470.8 558.66h-1.3M518.15 604.3v1.3M470.8 556.95h-1.3M519.63 604.3v1.3M470.8 555.47h-1.3M520.93 604.3v1.3M470.8 554.17h-1.3M529.78 604.3v1.3M470.8 545.32h-1.3M534.27 604.3v1.3M470.8 540.83h-1.3M537.45 604.3v1.3M470.8 537.65h-1.3M539.92 604.3v1.3M470.8 535.18h-1.3M541.94 604.3v1.3M470.8 533.16h-1.3M543.65 604.3v1.3M470.8 531.45h-1.3M545.13 604.3v1.3M470.8 529.97h-1.3M546.43 604.3v1.3M470.8 528.67h-1.3M555.28 604.3v1.3M470.8 519.82h-1.3M559.77 604.3v1.3M470.8 515.33h-1.3M562.95 604.3v1.3M470.8 512.15h-1.3M565.42 604.3v1.3M470.8 509.68h-1.3M567.44 604.3v1.3M470.8 507.66h-1.3M569.15 604.3v1.3M470.8 505.95h-1.3M570.63 604.3v1.3M470.8 504.47h-1.3M571.93 604.3v1.3M470.8 503.17h-1.3" fill="none" stroke="#777" stroke-width=".8"/>
<path d="M504.59 593.05h.01M560.25 582.73h.01M511.28 548.64h.01M491.62 548.94h.01M568.09 511.31h.01M511.32 521.93h.01M557.29 532.75h.01M520.81 507.31h.01M541.54 554.43h.01M552.79 575.59h.01M547.01 528.8h.01M496.69 562.97h.01M476.12 597.56h.01M544.6 552.33h.01M507.96 509.9h.01M527.65 580.85h.01M483.09 512.1h.01M541.03 549.93h.01M551.84 543.97h.01M571.29 591.01h.01M503.88 556.73h.01M530.96 547.94h.01M554.52 573.93h.01M554.59 527.79h.01M522.59 557.44h.01M499.98 562.38h.01M511.41 545.86h.01M524.37 593.74h.01M472.3 553.73h.01M501.33 538.92h.01M508.92 560.86h.01M497.13 573.33h.01M493.87 554.43h.01M513.76 565.72h.01M514.5 583.96h.01M481.62 569.57h.01M527.54 565.69h.01M502.91 571.88h.01M513.82 567.59h.01M493.29 570.34h.01M491.46 566.44h.01M499.26 527.39h.01M499.65 570.22h.01M511.28 562.36h.01M483.33 539.53h.01M522.3 586.96h.01M538.69 542.84h.01M515.59 548.34h.01M491.92 573.47h.01M516.35 566.38h.01M532.32 596.02h.01M496.34 579.64h.01M533.36 559.61h.01M494.46 567.43h.01M492.11 575.18h.01M522.92 558.02h.01M518.74 561.57h.01M544.06 575.32h.01M534.48 578.41h.01M489.6 555.7h.01M513.78 547.54h.01M528.52 561.63h.01M546.44 549.62h.01M481.25 583.37h.01M499.09 537.99h.01M533.3 567.99h.01M504.07 552.22h.01M509.28 567.79h.01M493.99 561.66h.01M515.05 548.77h.01M535.64 563.18h.01M491.67 568.98h.01M478.62 574.96h.01M530.28 534.96h.01M501.13 567.5h.01M487.52 540.4h.01M481.42 538.06h.01M513.76 540.67h.01M507.59 555.62h.01M531.05 555.13h.01M513.17 570.11h.01M492.31 552.06h.01M518.03 558.4h.01M479.52 565.88h.01M518.93 558.37h.01M528.07 545.9h.01M527.87 544h.01M497.36 562.48h.01M508.43 589.66h.01M524.41 581.32h.01M491.77 578.61h.01M520.02 533.04h.01M502.77 544.42h.01M527.55 552.95h.01M540.99 582.44h.01M512.68 566.54h.01M495.94 553.99h.01M503.77 536.59h.01M525.29 597.91h.01M532.35 563.71h.01M538.82 560.38h.01M531.68 553.51h.01M519.8 572.72h.01M497.65 547.53h.01M514.15 581.2h.01M517.45 579.81h.01M529.28 580.89h.01M525.18 579.86h.01M494.84 554.6h.01M485.49 547.72h.01M493.54 556.35h.01M492.08 554.9h.01M482.36 595.96h.01M524.65 570.72h.01M481.96 562.41h.01M512.58 564.14h.01M515.15 547.39h.01M497.42 583.05h.01M518.89 523.33h.01M527.14 507.14h.01M516.81 530.26h.01M526.6 526.05h.01M477.96 519.8h.01M472.32 521.28h.01M536.99 521.86h.01M521.45 523.45h.01M506.16 517.33h.01M516.49 520.02h.01M489.9 529.04h.01M502.83 519.15h.01M501.28 530.24h.01M508.43 504.59h.01M506.8 516.06h.01M519.56 530.24h.01M541.37 524.43h.01M487.28 524.95h.01M515.93 518.22h.01M496.86 516.95h.01M512.17 506.18h.01M501.18 524.9h.01M513.96 506.53h.01M480.61 515.56h.01M525.31 519.64h.01M497.67 505.16h.01M506.79 543.5h.01M491.65 545.03h.01M537.19 510.41h.01M495.88 530.04h.01M480.23 512.58h.01M474.06 532.74h.01M516.13 533.87h.01M518.6 526.84h.01M509.52 525.02h.01M485.9 516.09h.01M482.75 532.89h.01M482.02 517.69h.01M526.48 526.57h.01M522.8 522.78h.01M517.43 517.63h.01M495.06 516.47h.01M492.15 504.09h.01M530.81 519.85h.01M544.92 520.73h.01M507.98 530.78h.01M472.88 519.15h.01M545.32 534.28h.01M498.24 510.23h.01M494.75 527.41h.01M484.77 530.84h.01M481.49 527.57h.01M517.18 519.01h.01M558.39 524.81h.01M523.88 539.2h.01M499.31 526.02h.01M532.2 522.81h.01M505.68 520.04h.01M527.52 522.59h.01M535.52 510.68h.01M510.27 532.16h.01M483.92 529.87h.01M507.02 531.14h.01M496.39 521.83h.01M481.14 529.14h.01M504.32 521.9h.01M495.96 532.56h.01M513.37 531.84h.01M493.38 518.52h.01M527.81 540.6h.01M550.98 530.71h.01M532.12 529.14h.01M491.39 519.13h.01M481.95 507.26h.01M508.14 525.19h.01M523.82 541.52h.01M483.85 512.26h.01M497.51 527.66h.01M501.58 509.95h.01M521.22 518.93h.01M494.15 534.78h.01M529.79 515.81h.01M513.35 517.32h.01M499.68 515.13h.01M505.25 514.12h.01M517.22 529.3h.01M505.88 506.43h.01M528.75 516.62h.01M544.44 529.27h.01M509.82 537.9h.01M489.48 522.75h.01M525.18 523.38h.01M510.84 510.9h.01M537.81 509.73h.01M531.34 522.16h.01M504.59 521.3h.01M518.95 517.87h.01M497.18 518.15h.01M494.61 529.57h.01M508.09 527.94h.01M497.15 509.83h.01M558.1 535.06h.01M522.25 526.4h.01M507.37 531.34h.01M532.13 529.76h.01M500.13 516.57h.01M497.77 530.56h.01M537.38 510.71h.01M503.6 522.48h.01M488.01 536.35h.01M492.86 525.99h.01M507.4 519.8h.01M492.92 509.8h.01M526.88 528.76h.01M520.74 515.87h.01M493.01 520.27h.01M492.26 518.77h.01M485.73 540.87h.01M499.72 531.66h.01M484.43 537.02h.01M490.82 533.19h.01M522.19 533.21h.01M505.64 543.97h.01M478.08 540.38h.01M494.41 518.28h.01M498.14 504.51h.01M485.72 516.37h.01M535.18 536.54h.01M492.7 510.85h.01M499.83 538.01h.01M493.78 520.51h.01M545.46 521.12h.01M494.55 504.74h.01M504.56 512.7h.01M552.87 515.98h.01M500.96 512.6h.01M504.98 521.99h.01M540.01 509.9h.01M492.54 515.72h.01M512.47 520.04h.01M498.8 526.46h.01M496.54 516.13h.01M477.72 508.7h.01M502.73 524.63h.01M548.96 523.56h.01M489.94 524.13h.01M520.27 522.87h.01M553.63 522.08h.01M527.95 524.58h.01M485.37 524.19h.01M516.09 536.19h.01M525.04 526.65h.01M524.31 526.98h.01M512.24 524.42h.01M516.75 514.49h.01M509.91 503.67h.01M512.39 519.85h.01M477.7 511.9h.01M492.75 511.95h.01M477.91 530.39h.01M492.89 520.05h.01M488.52 522.29h.01M522.59 535.8h.01M525.82 509.43h.01M531.44 522.66h.01M512.18 516.73h.01M480.79 521.48h.01M493.6 520.09h.01M542.13 523.66h.01M524.71 533.73h.01M479.43 519.55h.01M552.26 539.46h.01M523.86 536.63h.01M488.68 532.73h.01M504.55 512.28h.01M531.42 518.52h.01M480.09 525.26h.01M535.8 539.31h.01M490.46 540.18h.01M517.4 526.06h.01M498.6 518h.01M498.67 524.46h.01M505.83 505.86h.01M506.91 517.06h.01M536.39 525.86h.01M538.77 529.77h.01M523.22 508.72h.01M522.22 511.48h.01" fill="none" stroke="#757575" stroke-width=".58" stroke-linecap="round"/>
<path d="M522.26 532.79h.01M539.91 554.36h.01M541.7 548.61h.01M473.02 563.13h.01M541.74 559.78h.01M481.68 574.76h.01M510.44 580.7h.01M553.36 562.25h.01M489.91 590.94h.01M505.61 529.69h.01M525.25 539.13h.01M492.74 582.51h.01M514.17 563.62h.01M496.63 588.8h.01M545.24 572.18h.01M540.21 583.7h.01M491.77 534.69h.01M547.63 559.24h.01M496.01 560.28h.01M516.02 543.22h.01M487.75 569.92h.01M516.82 583.99h.01M492.29 560.57h.01M481.06 528.75h.01M515.81 524.56h.01M542.07 588.62h.01M497.49 523.9h.01M525.71 575.93h.01M547.95 545.77h.01M527.48 539.47h.01M497.73 518.97h.01M473.19 566.76h.01M521.56 574.5h.01M527.99 580.04h.01M506.69 576.15h.01M483.26 566.34h.01M502.21 531.94h.01M480.92 552.95h.01M543.06 555.68h.01M498.24 584.34h.01M543.5 580.04h.01M503.97 571.17h.01M485.6 558.29h.01M539.13 581.4h.01M514.77 561.01h.01M496.6 526.88h.01M541.17 585.96h.01M506.97 522.67h.01M487.7 587.95h.01M541.06 541.35h.01M524.67 539.26h.01M493.71 589.79h.01M499.19 528.49h.01M546.37 581.05h.01M515.44 571.17h.01M491.14 530.98h.01M485.56 591.03h.01M491.53 557.33h.01M548 585.14h.01M541.22 595.73h.01M532.34 595h.01M548.82 550.44h.01M536.73 572.73h.01M478.93 559.73h.01M481.38 556.79h.01M501.63 581.93h.01M501.11 517.03h.01M487.8 526.09h.01M492.23 518.75h.01M522.02 539.34h.01M524.18 583.83h.01M490.87 592.08h.01M536.05 586.19h.01M537.9 593.18h.01M486.94 563.34h.01M492.92 546.3h.01M482.26 590.35h.01M475.45 538.15h.01M513.78 548.03h.01M512.66 509.86h.01M527.33 558.95h.01M541.68 545.06h.01M519.41 535.79h.01M543.67 587.54h.01M494.11 578.3h.01M482.51 589.03h.01M522.51 591.94h.01M495.86 519.94h.01M499.74 520h.01M492.83 567.37h.01M487.09 547.23h.01M548.25 592.36h.01M484.16 568.92h.01M542.72 535.24h.01M537.27 542.35h.01M506.5 574.68h.01M494.48 577.04h.01M532.59 579.44h.01M533.3 532h.01M547.75 581.4h.01M510.8 537.64h.01M544.18 571.98h.01M505.02 567.93h.01M504.89 518.09h.01M480.05 560.57h.01M533.81 595.8h.01M540.79 537.32h.01M488.96 569.63h.01M540.45 532.37h.01M524.11 565.8h.01M487.43 566.11h.01M498.7 589.17h.01M533.52 539.16h.01M500.55 521.33h.01M485.1 564.37h.01M539.89 586h.01M540.4 584.1h.01M538.89 570.3h.01M531.01 587.81h.01M500.63 531.36h.01M509.59 535.62h.01M540.23 549.21h.01M494.44 536.07h.01M498.68 519.75h.01M543.08 534.48h.01M493.76 558.69h.01M541.93 548.13h.01M534.41 594.13h.01M528.94 588.49h.01M495.41 583.72h.01M538.6 589.22h.01M535.93 542.71h.01M504.69 530.37h.01M485.8 573.65h.01M481.94 549.11h.01M542.81 545.79h.01M508.76 517.12h.01M492.34 527.4h.01M481.15 574.53h.01M511.58 559.04h.01M488.23 575.24h.01M479.82 590.28h.01M523.68 535.76h.01M506.89 539.65h.01M499.93 558.79h.01M521.06 593.21h.01M528.56 531.54h.01M504.4 534.05h.01M506.18 572.18h.01M510.05 574.18h.01M486.31 567.19h.01M522.57 600.51h.01M490.67 547.08h.01M546.58 535.02h.01M476.09 587.37h.01M529.78 576.93h.01M513.73 516.22h.01M505.65 520.71h.01M509.44 556.93h.01M535.97 582.62h.01M520.27 525.77h.01M545.37 559.65h.01M542.32 595.96h.01M490.34 555.47h.01M543.72 542.49h.01M521.69 580.74h.01M539.23 566.1h.01M500.23 570.96h.01M497.62 515.24h.01M529.29 536.17h.01M499.79 510.34h.01M484.84 565.48h.01M497.65 513.18h.01M490.29 537.57h.01M526.72 599.91h.01M537.51 546.2h.01M487.99 538.94h.01M521.18 535.24h.01M530.69 572.54h.01M530.27 577.79h.01M514.69 600.44h.01M544.65 582.33h.01M536.02 543.03h.01M500.2 519.16h.01M494.88 530.54h.01M492.14 584.94h.01M519.71 575.42h.01M496.22 562.21h.01M531.93 570.53h.01M522.42 581.61h.01M519.13 534.99h.01M503.16 576.58h.01M510.98 574.96h.01M503.37 575.52h.01M540.75 599.87h.01M480.12 588.29h.01M478.63 587h.01M492.07 531.3h.01M483.15 534.52h.01M525.89 564.52h.01M521.54 528.13h.01M502.9 586.64h.01M532.1 598.91h.01M501.49 537.62h.01M498.73 515.73h.01M545.45 583.08h.01M543.21 577.41h.01M490.53 566.33h.01M547.39 582.2h.01M528.12 584.97h.01M541.73 547.86h.01M492.88 580.88h.01M516.87 528.68h.01M510.95 528.59h.01M495.12 540.1h.01M491.68 556.23h.01M479.13 576.62h.01M545.75 571.67h.01M523.73 577.36h.01M490.59 552.63h.01M543.84 588.86h.01M522.72 573.59h.01M504.97 580.8h.01M545.02 542.43h.01M517.86 521.36h.01M527.56 587.51h.01M503.44 522.36h.01M479.59 571.36h.01M508.59 581.96h.01M525.58 586.3h.01M503.82 576.93h.01M535.12 541.97h.01M490.78 592.77h.01M487.28 572.06h.01M496.33 544.36h.01M486.23 570.57h.01M539.09 595.21h.01M511.94 535.47h.01M549.91 571.48h.01M538.59 574.33h.01M514.96 570.04h.01M517.96 571.54h.01M501.71 576.8h.01M543.12 543.85h.01M501.23 523.36h.01M493.09 508.75h.01M483.42 565.69h.01M546.08 548.7h.01M546.57 568.28h.01M530.62 599.67h.01M481.76 558.19h.01M497.67 592.9h.01M505.73 572.41h.01M537.41 600.33h.01M491.65 531.77h.01M525.96 575.82h.01M480.21 587.1h.01M516.01 570.56h.01M494.5 581.15h.01M493.97 516.93h.01M539.19 537.94h.01M537.99 598.51h.01M523.69 544.25h.01M507.07 570.32h.01M528.22 583h.01M543.63 550.26h.01M495.06 552.19h.01M489.7 571.61h.01M494.68 592.87h.01M518.97 575.72h.01M478.11 584.35h.01M512.6 574.6h.01M549.06 586.68h.01M535.39 598.87h.01M486.44 585.24h.01M485.39 582.11h.01M505.41 516.08h.01M520.75 533.51h.01M541.36 600.12h.01M510 527.8h.01M543.44 602.9h.01M514.7 584.7h.01M537.24 551.65h.01M485.28 542.03h.01M506.82 519.98h.01M480.94 572.43h.01M519.95 574.46h.01M498.09 579.07h.01M491.11 555.85h.01M529.77 534.22h.01M492.27 521.32h.01M495.12 555.69h.01M520.37 570.05h.01M498.81 531.49h.01M532.58 557.03h.01M521.31 567.45h.01M520.79 526.67h.01M538.76 547.56h.01M497.33 528.21h.01M517.07 584.81h.01M499.05 505.91h.01M499.23 511.28h.01M496.69 570.59h.01M539.52 574.9h.01M496.23 543.85h.01M517.19 579.89h.01M511.38 579.17h.01M504.31 514.48h.01M489.88 544.14h.01M483.89 562.16h.01M523.4 525.62h.01M497.54 538.89h.01M487.77 558.28h.01M517.29 574.41h.01M518.74 544.89h.01M483.23 578.22h.01M542.91 588.07h.01M493.71 584.66h.01M496.77 544.18h.01M508.04 567.52h.01M555.58 535.98h.01M479.11 565.1h.01M495.06 505.29h.01M507.12 519.16h.01M490.93 541.89h.01M523.8 590.74h.01M518.45 560.1h.01M506.33 523.25h.01M539.16 541.58h.01M505.28 574.27h.01M525.55 549.69h.01M541.38 584.6h.01M519.39 571.07h.01M490.75 531.14h.01M498.48 524.77h.01M533.25 539.8h.01M528.04 576.9h.01M532.01 602.1h.01M543.29 553.6h.01M476.85 577.52h.01M516.01 526.45h.01M533.94 533.89h.01M501.08 568.57h.01M536.69 554.95h.01M539.63 576.14h.01M530.16 575.33h.01M520.35 579.64h.01M545.65 538.2h.01M519.35 525.16h.01M492.41 585.31h.01M501.37 581.87h.01M509.51 573.55h.01M516.54 571.39h.01M506.53 581.56h.01M491.05 558.66h.01M495.57 534.61h.01M482.11 561.26h.01M493.27 528.82h.01M505.4 522.09h.01M501.52 523.92h.01M498.75 519.32h.01M505.05 519.84h.01M488.18 548.17h.01M545.87 565.85h.01M511.82 532.67h.01M496.79 524.56h.01M529.33 536.19h.01M534.15 576.52h.01M515.56 573.08h.01M532.68 536.78h.01M501.25 514.35h.01M494.42 534.19h.01M491.81 515.56h.01M487.97 591.07h.01M526.81 596.25h.01M547.51 592.5h.01M507.9 519.26h.01M489.66 569.33h.01M543.76 574.59h.01M502.1 589.77h.01M512.22 571.11h.01M525.35 590.91h.01M496.27 584.84h.01M517.73 587.42h.01M512.63 532.45h.01M487.91 569.15h.01M519.82 541.2h.01M536.05 595.93h.01M515.82 565.4h.01M545.96 584h.01M479.75 589.45h.01M495.36 542.63h.01M529.22 593.01h.01M493.9 533.67h.01M511.12 533.47h.01M539.16 592.81h.01M497.62 552.3h.01M538.13 597.76h.01M533.83 592.16h.01M504.96 583.33h.01M523.49 564.05h.01M491.13 532.97h.01M509.52 547.83h.01M525.82 535.44h.01M490.38 560.92h.01M530.83 545.44h.01M483.45 588.52h.01M509.8 573.51h.01M527.17 584.68h.01M484.54 538.07h.01M487.99 569.22h.01M494.46 510.49h.01M493.65 530h.01M511.26 579.64h.01M498.52 521.38h.01M528.99 591.52h.01M494.71 584.46h.01M528.02 541.07h.01M496.27 506.05h.01M544.12 593.09h.01M540.96 570.17h.01M494.77 524.09h.01M503.72 589.42h.01M497.14 529.18h.01M536.78 597.88h.01M531.05 537.71h.01M504.05 513.16h.01M535.43 542.69h.01M480.15 564.62h.01M512.79 523.39h.01M497.77 582.24h.01M488.07 583.31h.01M479.05 562.36h.01M547.76 556.24h.01M485.48 556.97h.01M507.12 506.04h.01M477.02 563.65h.01M502.12 572.79h.01M512.43 561.39h.01M491.07 583.97h.01M518.66 571.15h.01M486.87 580.05h.01M501.39 528.8h.01M543.43 557.55h.01M519.44 583.71h.01M499.23 566.93h.01M488.58 570.51h.01M541.42 581h.01M502.27 578.93h.01M524.75 599.74h.01M524.51 537.35h.01M504.5 538.03h.01M482.67 559.49h.01M536.55 594.01h.01M480.56 575.81h.01M524.87 534.5h.01M539.77 568.08h.01M491.48 533.39h.01M520.56 533.66h.01M499.57 549.89h.01M551.55 561.05h.01M516.99 590.86h.01M507.3 569.34h.01M549.21 572.87h.01M542.85 591.72h.01M490.32 591.06h.01M543.62 553.67h.01M503.3 513.06h.01M482.17 584.62h.01M526.97 539.97h.01M534.31 601.19h.01M485.94 540.72h.01M545.48 582.73h.01M540.61 577.17h.01M557.51 560.1h.01M510.25 579.98h.01M522.14 591.29h.01M531.72 584.9h.01M499.24 516.42h.01M528.46 601.57h.01M517.48 582.94h.01M512.58 566.76h.01M488.57 575.66h.01M547.34 593.11h.01" fill="none" stroke="#6c6c6c" stroke-width=".6" stroke-linecap="round"/>
<path d="M509.74 510.63h.01M533.3 544.93h.01M491.51 545.41h.01M519.55 529.74h.01M507.8 561.62h.01M500.88 545.22h.01M539.04 591.72h.01M497.06 568.67h.01M496.55 530.03h.01M492.42 512.38h.01M509.81 515.47h.01M498.98 523.74h.01M485.02 567.79h.01M529.85 552.17h.01M522.08 533.35h.01M487.58 557.86h.01M476.13 555.23h.01M502.83 570.23h.01M546.09 551.17h.01M498.85 556.22h.01M479.04 546.33h.01M547.93 577.22h.01M535.33 550.57h.01M479.73 561.38h.01M480.37 569.26h.01M495.45 538.72h.01M500.88 594.77h.01M515.35 517.16h.01M483.61 595.06h.01M546.92 556.2h.01M535.22 581.2h.01M534.02 598.21h.01M536.38 540.94h.01M543.23 593.21h.01M525.91 595.62h.01M477.17 575.89h.01M513.64 593.87h.01M530.78 584.93h.01M528.21 557.89h.01M507.85 535.1h.01M492.7 553.83h.01M530.78 552.1h.01M546.41 573.47h.01M489.51 569.41h.01M476.01 556.95h.01M478.56 557.92h.01M492.32 577.67h.01M538.53 577.51h.01M509.35 527.28h.01M519.83 535.33h.01M494.8 519.52h.01M534.93 592.04h.01M499.45 525.08h.01M528.54 534.66h.01M501.04 564.67h.01M524.8 536.17h.01M509.71 539.43h.01M497.23 518.33h.01M510.75 529.66h.01M500.1 550.56h.01M495.26 537.1h.01M488.36 556.77h.01M499.26 555.11h.01M520.53 534.3h.01M523.77 593.86h.01M506.45 526.58h.01M514.6 586.99h.01M542.86 576.42h.01M530.58 570.84h.01M550.78 570.48h.01M518.66 572h.01M501.3 591.07h.01M518.99 564.47h.01M524.23 542.69h.01M496.8 509.39h.01M547.84 589.53h.01M500.78 586.82h.01M520.01 537.9h.01M501.26 561.77h.01M488.87 535.09h.01M499.44 582.24h.01M508.54 511.56h.01M490.79 514.5h.01M498.4 549.98h.01M535.64 584.75h.01M540.96 597.86h.01M494.56 528.1h.01M505.46 581.89h.01M545.91 577.96h.01M558.29 552.1h.01M481.47 547.69h.01M496.02 526.37h.01M526.75 595.72h.01M512.64 525.55h.01M503.18 592.6h.01M486.14 602.64h.01M546.67 580.62h.01M547.07 567.32h.01M492.76 571.68h.01M495.57 547.58h.01M509.57 578.06h.01M496.71 532.2h.01M525.38 575.43h.01M537.81 597.49h.01M504.96 588.3h.01M494.08 556.55h.01M474.57 574.59h.01M544.19 563.94h.01M517.13 579.59h.01M557.3 556.72h.01M474.63 545.77h.01M519.06 584.29h.01M538.74 591.37h.01M529.16 591.55h.01M484.05 571.96h.01M504.34 581.06h.01M540.76 600.45h.01M549.17 563.61h.01M476.79 525.2h.01M484.61 542.29h.01M517.07 537.38h.01M531.28 576.03h.01M509.16 509.79h.01M536.66 586.75h.01M491.76 536.89h.01M523.94 570.65h.01M491.2 524.52h.01M497.59 525.39h.01M500.5 523.83h.01M507.86 568.59h.01M521.14 566.8h.01M544.13 538.5h.01M528.06 584.14h.01M493.45 507.55h.01M487.52 541.91h.01M498.29 589.77h.01M497.14 532.04h.01M494.18 589.45h.01M479.68 556.58h.01M511.66 531.66h.01M546.08 542.71h.01M498.63 582.93h.01M543.47 573.49h.01M546.45 597.76h.01M538.8 601.94h.01M496.09 507.67h.01M488.97 576.17h.01M488.15 546.73h.01M530.26 586.27h.01M549.28 577.21h.01M547.13 549.45h.01M499.73 518.58h.01M503.01 515.57h.01M534.39 544.64h.01M483.92 579.67h.01M494.49 560.96h.01M521.53 587.18h.01M542.42 540.79h.01M493.83 573.93h.01M520.73 566.02h.01M501.31 545.39h.01M544.03 549.62h.01M540.36 536.43h.01M500.97 579.62h.01M546.69 529.39h.01M488.93 563.11h.01M539.94 569.57h.01M492.74 503.28h.01M472.72 579.31h.01M509.76 579.05h.01M533.39 547.33h.01M484.66 583.84h.01M539.21 596.67h.01M515.69 553.79h.01M504.29 521.14h.01M514.89 577.67h.01" fill="none" stroke="#777" stroke-width=".58" stroke-linecap="round"/>
<g transform="translate(455 480) scale(.24795)">
<clipPath id="c6o"><path d="M122 327C121 303 120 315 124 294C128 273 126 283 134 264C142 245 139 254 147 237C155 220 151 231 157 214C163 197 163 207 164 187C165 167 160 175 161 154C162 133 158 136 167 124C176 112 178 111 187 119C196 127 190 131 193 147C196 163 187 160 197 167C207 174 211 161 224 167C237 173 225 172 237 184C249 196 248 200 261 204C274 208 266 193 277 197C288 201 281 206 294 217C307 228 300 228 317 231C334 234 329 223 344 227C359 231 352 228 361 244C370 260 367 252 371 274C375 296 374 287 374 311C374 335 374 324 371 347C368 370 370 358 364 381C358 404 361 394 354 417C347 440 353 433 344 451C335 469 339 466 327 471C315 476 318 477 307 467C296 457 302 461 295 441C288 421 292 429 287 407C282 385 286 394 281 374C276 354 280 360 271 347C262 334 266 337 255 334C244 331 247 330 237 339C227 348 235 348 224 361C213 374 218 367 204 377C190 387 195 381 181 391C167 401 173 397 161 407C149 417 153 423 144 421C135 419 139 419 133 401C127 383 130 392 126 367C122 342 123 351 122 327Z"/></clipPath><clipPath id="c6"><path d="M134 327C133 304 132 316 135 296C138 277 137 286 144 268C151 250 149 258 156 241C164 225 161 235 167 217C174 200 174 209 176 188C177 167 173 174 173 155C172 136 170 140 174 131C177 121 179 119 183 125C187 131 183 133 186 148C189 164 181 164 193 172C204 181 208 168 221 173C234 179 219 176 232 189C245 201 246 206 260 211C275 216 266 200 275 204C285 208 276 211 289 222C303 234 298 234 316 238C333 242 329 230 342 234C355 237 348 234 355 248C362 262 360 254 364 275C368 297 368 288 367 311C366 334 367 323 362 346C358 368 361 356 355 379C349 402 351 392 344 414C338 437 341 432 334 446C326 459 327 452 322 455C316 458 322 460 317 454C313 448 314 453 308 436C303 420 305 426 300 404C295 382 300 392 294 370C289 348 295 356 283 338C272 320 277 319 259 316C240 312 243 315 228 328C213 340 225 340 214 352C203 365 209 356 196 365C182 374 187 369 173 379C158 389 160 388 152 396C144 404 149 403 148 403C146 403 149 409 146 396C143 384 143 388 139 365C135 342 135 350 134 327Z"/></clipPath>
<path d="M122 327C121 303 120 315 124 294C128 273 126 283 134 264C142 245 139 254 147 237C155 220 151 231 157 214C163 197 163 207 164 187C165 167 160 175 161 154C162 133 158 136 167 124C176 112 178 111 187 119C196 127 190 131 193 147C196 163 187 160 197 167C207 174 211 161 224 167C237 173 225 172 237 184C249 196 248 200 261 204C274 208 266 193 277 197C288 201 281 206 294 217C307 228 300 228 317 231C334 234 329 223 344 227C359 231 352 228 361 244C370 260 367 252 371 274C375 296 374 287 374 311C374 335 374 324 371 347C368 370 370 358 364 381C358 404 361 394 354 417C347 440 353 433 344 451C335 469 339 466 327 471C315 476 318 477 307 467C296 457 302 461 295 441C288 421 292 429 287 407C282 385 286 394 281 374C276 354 280 360 271 347C262 334 266 337 255 334C244 331 247 330 237 339C227 348 235 348 224 361C213 374 218 367 204 377C190 387 195 381 181 391C167 401 173 397 161 407C149 417 153 423 144 421C135 419 139 419 133 401C127 383 130 392 126 367C122 342 123 351 122 327Z" fill="#000"/>
<g clip-path="url(#c6o)"><g clip-path="url(#c6)">
<path d="M134 327C133 304 132 316 135 296C138 277 137 286 144 268C151 250 149 258 156 241C164 225 161 235 167 217C174 200 174 209 176 188C177 167 173 174 173 155C172 136 170 140 174 131C177 121 179 119 183 125C187 131 183 133 186 148C189 164 181 164 193 172C204 181 208 168 221 173C234 179 219 176 232 189C245 201 246 206 260 211C275 216 266 200 275 204C285 208 276 211 289 222C303 234 298 234 316 238C333 242 329 230 342 234C355 237 348 234 355 248C362 262 360 254 364 275C368 297 368 288 367 311C366 334 367 323 362 346C358 368 361 356 355 379C349 402 351 392 344 414C338 437 341 432 334 446C326 459 327 452 322 455C316 458 322 460 317 454C313 448 314 453 308 436C303 420 305 426 300 404C295 382 300 392 294 370C289 348 295 356 283 338C272 320 277 319 259 316C240 312 243 315 228 328C213 340 225 340 214 352C203 365 209 356 196 365C182 374 187 369 173 379C158 389 160 388 152 396C144 404 149 403 148 403C146 403 149 409 146 396C143 384 143 388 139 365C135 342 135 350 134 327Z" fill="#dedede"/>
<path d="M134 327C133 304 132 316 135 296C138 277 137 286 144 268C151 250 149 258 156 241C164 225 161 235 167 217C174 200 174 209 176 188C177 167 173 174 173 155C172 136 170 140 174 131C177 121 179 119 183 125C187 131 183 133 186 148C189 164 181 164 193 172C204 181 208 168 221 173C234 179 219 176 232 189C245 201 246 206 260 211C275 216 266 200 275 204C285 208 276 211 289 222C303 234 298 234 316 238C333 242 329 230 342 234C355 237 348 234 355 248C362 262 360 254 364 275C368 297 368 288 367 311C366 334 367 323 362 346C358 368 361 356 355 379C349 402 351 392 344 414C338 437 341 432 334 446C326 459 327 452 322 455C316 458 322 460 317 454C313 448 314 453 308 436C303 420 305 426 300 404C295 382 300 392 294 370C289 348 295 356 283 338C272 320 277 319 259 316C240 312 243 315 228 328C213 340 225 340 214 352C203 365 209 356 196 365C182 374 187 369 173 379C158 389 160 388 152 396C144 404 149 403 148 403C146 403 149 409 146 396C143 384 143 388 139 365C135 342 135 350 134 327Z" fill="none" stroke="#101010" stroke-width="26" opacity=".8" filter="url(#bl)"/>
<path d="M134 327C133 304 132 316 135 296C138 277 137 286 144 268C151 250 149 258 156 241C164 225 161 235 167 217C174 200 174 209 176 188C177 167 173 174 173 155C172 136 170 140 174 131C177 121 179 119 183 125C187 131 183 133 186 148C189 164 181 164 193 172C204 181 208 168 221 173C234 179 219 176 232 189C245 201 246 206 260 211C275 216 266 200 275 204C285 208 276 211 289 222C303 234 298 234 316 238C333 242 329 230 342 234C355 237 348 234 355 248C362 262 360 254 364 275C368 297 368 288 367 311C366 334 367 323 362 346C358 368 361 356 355 379C349 402 351 392 344 414C338 437 341 432 334 446C326 459 327 452 322 455C316 458 322 460 317 454C313 448 314 453 308 436C303 420 305 426 300 404C295 382 300 392 294 370C289 348 295 356 283 338C272 320 277 319 259 316C240 312 243 315 228 328C213 340 225 340 214 352C203 365 209 356 196 365C182 374 187 369 173 379C158 389 160 388 152 396C144 404 149 403 148 403C146 403 149 409 146 396C143 384 143 388 139 365C135 342 135 350 134 327Z" fill="none" stroke="#e4e4e4" stroke-width="2.2" opacity=".45"/>
<radialGradient id="g14" gradientUnits="userSpaceOnUse" cx="177" cy="284" r="52" gradientTransform="translate(177 284) rotate(0) scale(1 1) translate(-177 -284)"><stop offset="0" stop-color="#1c1c1c" stop-opacity=".9"/><stop offset=".42" stop-color="#1c1c1c" stop-opacity=".68"/><stop offset="1" stop-color="#1c1c1c" stop-opacity="0"/></radialGradient>
<rect x="73" y="180" width="208" height="208" fill="url(#g14)"/>
<ellipse cx="177" cy="284" rx="15" ry="19" transform="rotate(30 177 284)" fill="#f4f4f4"/>
<radialGradient id="g15" gradientUnits="userSpaceOnUse" cx="316" cy="436" r="26" gradientTransform="translate(316 436) rotate(10) scale(1 1.54) translate(-316 -436)"><stop offset="0" stop-color="#1a1a1a" stop-opacity=".8"/><stop offset=".5" stop-color="#1a1a1a" stop-opacity=".6"/><stop offset="1" stop-color="#1a1a1a" stop-opacity="0"/></radialGradient>
<rect x="236" y="356" width="160" height="160" fill="url(#g15)"/>
<path d="M306 288.75A30 30 0 1 1 364.79 297.42L323.61 438.2A9.6 9.6 0 0 1 304.8 435.42Z" fill="#b4b4b4" filter="url(#bl)" opacity=".9"/>
<path d="M312.51 292.34A24.5 24.5 0 1 1 360.21 300.83L324.8 405.79A7.84 7.84 0 0 1 309.54 403.07Z" fill="#a2a2a2" stroke="#fff" stroke-width="3.4" stroke-linejoin="round"/>
<path d="M320.51 296.29A17.5 17.5 0 1 1 354.35 303.23L328.36 371.51A5.6 5.6 0 0 1 317.53 369.29Z" fill="#848484" stroke="#fff" stroke-width="3.4" stroke-linejoin="round"/>
<path d="M329.01 301.48A10 10 0 1 1 348.13 305.07L336.51 331.16A3.2 3.2 0 0 1 330.39 330.01Z" fill="#4a4a4a" stroke="#fff" stroke-width="3.2" stroke-linejoin="round"/>
</g></g>
<path d="M156 216C156 204 162 208 164 187C166 166 160 175 161 154C162 133 158 136 167 124C176 112 178 111 187 119C196 127 190 131 193 147C196 163 187 160 197 167C207 174 210 161 224 167C238 173 225 172 238 184C251 196 249 200 262 204C275 208 267 193 278 197C289 201 282 206 295 217C308 228 310 223 318 231C326 239 327 237 320 240C313 243 312 243 296 240C280 237 287 236 272 230C257 224 263 227 250 222C237 217 247 219 232 214C217 209 222 209 205 208C188 207 193 207 180 212C167 217 173 223 165 224C157 225 156 228 156 216Z" fill="#000"/>
</g>
<rect x="479.3" y="502.4" width="71.9" height="33.6" fill="none" stroke="#0a0a0a" stroke-width="1.6"/>
<text x="553.8" y="513.5" font-size="9.8" fill="#141414">2,21</text>
<text transform="translate(590.4 554.5) rotate(-90)" font-size="12.9" font-weight="bold" stroke="#000" stroke-width=".3" text-anchor="middle"><tspan font-style="italic">p</tspan>R, 0 mM NaCl</text>
<path d="M350.2 622V725H452.2" fill="none" stroke="#c4c4c4" stroke-width=".7"/>
<path d="M350.2 725v2.6M350.2 725h-2.6M375.7 725v2.6M350.2 699.5h-2.6M401.2 725v2.6M350.2 674h-2.6M426.7 725v2.6M350.2 648.5h-2.6M452.2 725v2.6M350.2 623h-2.6" fill="none" stroke="#3a3a3a" stroke-width=".9"/>
<path d="M357.88 725.3v1.3M349.9 717.32h-1.3M362.37 725.3v1.3M349.9 712.83h-1.3M365.55 725.3v1.3M349.9 709.65h-1.3M368.02 725.3v1.3M349.9 707.18h-1.3M370.04 725.3v1.3M349.9 705.16h-1.3M371.75 725.3v1.3M349.9 703.45h-1.3M373.23 725.3v1.3M349.9 701.97h-1.3M374.53 725.3v1.3M349.9 700.67h-1.3M383.38 725.3v1.3M349.9 691.82h-1.3M387.87 725.3v1.3M349.9 687.33h-1.3M391.05 725.3v1.3M349.9 684.15h-1.3M393.52 725.3v1.3M349.9 681.68h-1.3M395.54 725.3v1.3M349.9 679.66h-1.3M397.25 725.3v1.3M349.9 677.95h-1.3M398.73 725.3v1.3M349.9 676.47h-1.3M400.03 725.3v1.3M349.9 675.17h-1.3M408.88 725.3v1.3M349.9 666.32h-1.3M413.37 725.3v1.3M349.9 661.83h-1.3M416.55 725.3v1.3M349.9 658.65h-1.3M419.02 725.3v1.3M349.9 656.18h-1.3M421.04 725.3v1.3M349.9 654.16h-1.3M422.75 725.3v1.3M349.9 652.45h-1.3M424.23 725.3v1.3M349.9 650.97h-1.3M425.53 725.3v1.3M349.9 649.67h-1.3M434.38 725.3v1.3M349.9 640.82h-1.3M438.87 725.3v1.3M349.9 636.33h-1.3M442.05 725.3v1.3M349.9 633.15h-1.3M444.52 725.3v1.3M349.9 630.68h-1.3M446.54 725.3v1.3M349.9 628.66h-1.3M448.25 725.3v1.3M349.9 626.95h-1.3M449.73 725.3v1.3M349.9 625.47h-1.3M451.03 725.3v1.3M349.9 624.17h-1.3" fill="none" stroke="#777" stroke-width=".8"/>
<path d="M439 622.2H452.2" fill="none" stroke="#c4c4c4" stroke-width=".7"/>
<path d="M377.96 687.96h.01M362.05 672.39h.01M436.68 623.71h.01M369.92 629.37h.01M435.48 690.41h.01M374.9 713.8h.01M367.84 671.83h.01M424.65 683.31h.01M356.91 626.82h.01M368.98 718.46h.01M441.89 652.65h.01M355.09 686.75h.01M370.42 712.98h.01M443.9 701.77h.01M429.45 701.41h.01M435.05 660.73h.01M423.84 623.3h.01M421.04 667.38h.01M450.6 702.12h.01M396.39 694.11h.01M409.9 684.92h.01M393.44 705.8h.01M424.4 674.1h.01M396.96 664.12h.01M406.41 692.53h.01M360.18 672.5h.01M362.88 694.48h.01M384.67 694.51h.01M407.3 696.63h.01M385.05 680.75h.01M398.02 683.23h.01M392.61 671.17h.01M413.44 679.62h.01M431.48 687.44h.01M363.22 701.89h.01M382.26 670.92h.01M375.91 666.07h.01M387.71 692.12h.01M377.45 669.07h.01M408.83 686.45h.01M385.75 686.56h.01M371.41 681.84h.01M383.91 706.38h.01M394.52 678.8h.01M402.36 651.73h.01M390.67 651.12h.01M411.74 651.11h.01M401.33 640.9h.01M404.36 628.4h.01M399.87 645.28h.01M409.78 639.44h.01M399.61 653.36h.01M447.21 633.17h.01M418.06 633.73h.01M419.43 646.78h.01M409.02 648.22h.01M416.47 651.22h.01M422.47 646.86h.01M413.02 637.55h.01M445.11 645.73h.01M393.51 643.27h.01M438.76 631.57h.01M365.02 636.73h.01M401.83 646.67h.01M387.9 627.3h.01M403.28 646.63h.01M378.77 639.74h.01M368.64 662.34h.01M387.35 641.79h.01M386.12 627.33h.01M360.1 646.41h.01M422.45 647.2h.01M391.02 655.09h.01M386.41 643.62h.01M396.81 640.57h.01M399.67 658.59h.01M424.91 645.49h.01M416.74 627.39h.01M388.19 648.69h.01M425.63 649.6h.01M359.07 639.01h.01M415.43 663.55h.01M361.37 631.54h.01M440.43 638.66h.01M388.93 635.89h.01M396.27 654.53h.01M414.19 630.25h.01M389.47 667.36h.01M374.1 629.3h.01M351.59 672.18h.01M358.64 646.1h.01M372.2 651.63h.01M412.15 653.44h.01" fill="none" stroke="#808080" stroke-width=".58" stroke-linecap="round"/>
<path d="M414.87 666.69h.01M440.44 669.81h.01M428.69 660.45h.01M416.46 671.38h.01M391.67 637.52h.01M432.55 713.89h.01M407.83 665.38h.01M387.41 632.98h.01M401.14 663.82h.01M371.77 662.74h.01M414.29 672.01h.01M432.88 719.54h.01M376.61 686.51h.01M384.27 701.67h.01M402.26 667.34h.01M387.18 651.95h.01M399.23 652.91h.01M377.05 683.47h.01M401.11 691.35h.01M429.18 697.61h.01M396.32 639.22h.01M436.61 680.06h.01M391.09 702.02h.01M367.46 686.31h.01M430.04 708.7h.01M403.06 683.31h.01M388.39 648.97h.01M365.33 655.49h.01M443.66 719.05h.01M392.87 644.29h.01M370.3 696.48h.01M369.88 694.1h.01M401.7 674.9h.01M394.9 714.01h.01M356.36 702.68h.01M397.11 663.57h.01M393.82 665.94h.01M405.78 655.71h.01M420.84 716.07h.01M378.6 630.06h.01M381.63 687.37h.01M376.87 656.37h.01M367.71 696.33h.01M385.42 637.77h.01M415.8 712.6h.01M425.8 694.29h.01M445.89 702.11h.01M418.26 664.4h.01M379.04 635.3h.01M375.48 696.42h.01M435.04 696.53h.01M368.32 686.74h.01M400.73 665.61h.01M402.53 655.32h.01M367.67 696.07h.01M429.58 673.31h.01M385.14 646.6h.01M355.26 688.83h.01M389.04 684.36h.01M387.01 695h.01M430.89 712.46h.01M432.2 715.36h.01M367.53 700.3h.01M358.27 696.23h.01M405.56 648.56h.01M374.59 649.99h.01M430.4 719.8h.01M372.75 681.95h.01M384.2 662.82h.01M369.18 692.33h.01M369.28 653.29h.01M356.51 698.81h.01M404.53 669.93h.01M373.29 695.34h.01M406.26 663.31h.01M438.79 674.48h.01M352.8 687.44h.01M359.72 685.06h.01M416.5 702.43h.01M363.97 681.62h.01M370.02 681.58h.01M362.6 671.68h.01M385.45 701.26h.01M395.04 663.81h.01M384.96 655.24h.01M395.19 655.36h.01M385.65 638.75h.01M404.97 665.04h.01M370.66 679.87h.01M411.5 665.53h.01M369.8 643.22h.01M390.43 643.2h.01M374.74 672.55h.01M400.47 655.94h.01M365.8 654.24h.01M397.17 642.25h.01M432.36 719.32h.01M440.03 710.34h.01M408.67 703.84h.01M363.08 690.96h.01M378.45 677.92h.01M375.73 651.3h.01M365 683.39h.01M376.13 695.32h.01M365.22 666.53h.01M375.49 686.27h.01M433.25 713.22h.01M407.45 659.98h.01M436.09 686.85h.01M382.19 645.11h.01M379.65 696.35h.01M388.15 634.87h.01M368.89 652.81h.01M367.44 647.03h.01M441.14 675.17h.01M427.84 719.63h.01M401.9 651.08h.01M361 683.44h.01M432.96 665.03h.01M416.45 677.41h.01M369.22 659.38h.01M403.89 672.24h.01M405.95 681.71h.01M364.65 685.17h.01M367.97 654.39h.01" fill="none" stroke="#777" stroke-width=".58" stroke-linecap="round"/>
<g transform="translate(320 600) scale(.24795)">
<ellipse cx="224" cy="121" rx="8" ry="5" transform="rotate(-35 224 121)" fill="#000"/>
<clipPath id="c7o"><path d="M148 347C148 336 148 337 158 324C168 311 168 319 178 307C188 295 180 300 188 287C196 274 192 279 201 267C210 255 211 263 214 251C217 239 209 246 211 231C213 216 215 224 221 207C227 190 225 198 228 181C231 164 223 169 231 157C239 145 238 148 251 146C264 144 261 145 271 151C281 157 281 155 281 164C281 173 272 165 271 177C270 189 272 185 278 201C284 217 282 219 288 224C294 229 288 219 296 217C304 215 305 211 311 217C317 223 315 223 314 234C313 245 307 240 308 251C309 262 307 259 318 266C329 273 326 267 341 271C356 275 348 275 364 277C380 279 371 279 388 277C405 275 397 274 414 271C431 268 423 264 438 267C453 270 447 268 458 281C469 294 466 287 471 307C476 327 474 319 474 341C474 363 473 355 471 374C469 393 465 384 468 397C471 410 476 402 481 414C486 426 486 420 484 434C482 448 483 446 474 457C465 468 469 459 458 467C447 475 452 482 441 481C430 480 436 475 424 464C412 453 416 461 404 447C392 433 399 440 388 421C377 402 382 410 371 391C360 372 364 379 354 364C344 349 352 355 341 347C330 339 335 341 321 341C307 341 314 343 298 347C282 351 290 349 274 354C258 359 265 354 251 361C237 368 244 369 231 374C218 379 222 381 211 377C200 373 209 370 198 361C187 352 191 352 178 351C165 350 168 358 158 357C148 356 148 358 148 347Z"/></clipPath><clipPath id="c7"><path d="M157 345C158 339 155 340 164 328C173 317 173 324 184 311C194 299 187 304 195 291C202 277 198 284 207 271C216 259 218 266 222 253C226 240 217 247 219 232C222 218 223 226 229 210C234 193 233 199 236 183C239 166 232 172 237 161C242 151 241 153 252 151C262 150 260 152 268 156C275 160 275 157 274 164C273 171 264 162 263 176C263 189 264 185 272 203C280 221 278 223 287 229C296 236 291 225 298 223C305 220 304 218 307 222C310 225 309 223 307 233C305 243 299 239 301 252C304 264 302 263 315 271C328 279 324 272 340 276C356 280 347 280 363 282C380 284 371 284 389 282C406 280 399 280 415 277C431 273 424 269 437 272C450 275 444 273 453 285C463 297 460 290 465 309C469 327 467 320 467 341C467 362 465 354 464 373C462 392 458 384 462 399C465 413 470 405 475 416C480 428 479 422 476 433C474 444 475 442 467 451C459 460 461 453 452 459C444 465 449 470 442 469C435 468 441 466 431 456C421 447 423 454 412 440C400 427 407 434 397 416C386 398 391 405 380 386C368 367 373 374 362 358C352 342 361 348 347 338C333 328 339 330 321 329C304 329 312 332 295 336C278 341 287 339 271 344C255 349 261 345 247 352C232 358 238 359 227 364C217 369 223 370 215 367C208 363 217 362 205 353C193 344 194 342 179 339C164 337 168 344 161 346C154 348 156 351 157 345Z"/></clipPath>
<path d="M148 347C148 336 148 337 158 324C168 311 168 319 178 307C188 295 180 300 188 287C196 274 192 279 201 267C210 255 211 263 214 251C217 239 209 246 211 231C213 216 215 224 221 207C227 190 225 198 228 181C231 164 223 169 231 157C239 145 238 148 251 146C264 144 261 145 271 151C281 157 281 155 281 164C281 173 272 165 271 177C270 189 272 185 278 201C284 217 282 219 288 224C294 229 288 219 296 217C304 215 305 211 311 217C317 223 315 223 314 234C313 245 307 240 308 251C309 262 307 259 318 266C329 273 326 267 341 271C356 275 348 275 364 277C380 279 371 279 388 277C405 275 397 274 414 271C431 268 423 264 438 267C453 270 447 268 458 281C469 294 466 287 471 307C476 327 474 319 474 341C474 363 473 355 471 374C469 393 465 384 468 397C471 410 476 402 481 414C486 426 486 420 484 434C482 448 483 446 474 457C465 468 469 459 458 467C447 475 452 482 441 481C430 480 436 475 424 464C412 453 416 461 404 447C392 433 399 440 388 421C377 402 382 410 371 391C360 372 364 379 354 364C344 349 352 355 341 347C330 339 335 341 321 341C307 341 314 343 298 347C282 351 290 349 274 354C258 359 265 354 251 361C237 368 244 369 231 374C218 379 222 381 211 377C200 373 209 370 198 361C187 352 191 352 178 351C165 350 168 358 158 357C148 356 148 358 148 347Z" fill="#000"/>
<g clip-path="url(#c7o)"><g clip-path="url(#c7)">
<path d="M157 345C158 339 155 340 164 328C173 317 173 324 184 311C194 299 187 304 195 291C202 277 198 284 207 271C216 259 218 266 222 253C226 240 217 247 219 232C222 218 223 226 229 210C234 193 233 199 236 183C239 166 232 172 237 161C242 151 241 153 252 151C262 150 260 152 268 156C275 160 275 157 274 164C273 171 264 162 263 176C263 189 264 185 272 203C280 221 278 223 287 229C296 236 291 225 298 223C305 220 304 218 307 222C310 225 309 223 307 233C305 243 299 239 301 252C304 264 302 263 315 271C328 279 324 272 340 276C356 280 347 280 363 282C380 284 371 284 389 282C406 280 399 280 415 277C431 273 424 269 437 272C450 275 444 273 453 285C463 297 460 290 465 309C469 327 467 320 467 341C467 362 465 354 464 373C462 392 458 384 462 399C465 413 470 405 475 416C480 428 479 422 476 433C474 444 475 442 467 451C459 460 461 453 452 459C444 465 449 470 442 469C435 468 441 466 431 456C421 447 423 454 412 440C400 427 407 434 397 416C386 398 391 405 380 386C368 367 373 374 362 358C352 342 361 348 347 338C333 328 339 330 321 329C304 329 312 332 295 336C278 341 287 339 271 344C255 349 261 345 247 352C232 358 238 359 227 364C217 369 223 370 215 367C208 363 217 362 205 353C193 344 194 342 179 339C164 337 168 344 161 346C154 348 156 351 157 345Z" fill="#d4d4d4"/>
<radialGradient id="g16" gradientUnits="userSpaceOnUse" cx="238" cy="301" r="55" gradientTransform="translate(238 301) rotate(-8) scale(1 .65) translate(-238 -301)"><stop offset="0" stop-color="#333" stop-opacity=".95"/><stop offset=".35" stop-color="#333" stop-opacity=".71"/><stop offset="1" stop-color="#333" stop-opacity="0"/></radialGradient>
<rect x="128" y="191" width="220" height="220" fill="url(#g16)"/>
<radialGradient id="g17" gradientUnits="userSpaceOnUse" cx="330" cy="310" r="40" gradientTransform="translate(330 310) rotate(0) scale(1 .65) translate(-330 -310)"><stop offset="0" stop-color="#999" stop-opacity=".45"/><stop offset=".45" stop-color="#999" stop-opacity=".34"/><stop offset="1" stop-color="#999" stop-opacity="0"/></radialGradient>
<rect x="250" y="230" width="160" height="160" fill="url(#g17)"/>
<radialGradient id="g18" gradientUnits="userSpaceOnUse" cx="431" cy="345" r="62" gradientTransform="translate(431 345) rotate(10) scale(1 1.29) translate(-431 -345)"><stop offset="0" stop-color="#1a1a1a" stop-opacity=".95"/><stop offset=".5" stop-color="#1a1a1a" stop-opacity=".71"/><stop offset="1" stop-color="#1a1a1a" stop-opacity="0"/></radialGradient>
<rect x="271" y="185" width="320" height="320" fill="url(#g18)"/>
<ellipse cx="430" cy="348" rx="29" ry="48" transform="rotate(10 430 348)" fill="#2e2e2e"/>
<ellipse cx="430" cy="348" rx="29" ry="48" transform="rotate(10 430 348)" fill="none" stroke="#fff" stroke-width="3.4"/>
<ellipse cx="432" cy="342" rx="22" ry="36" transform="rotate(10 432 342)" fill="none" stroke="#fff" stroke-width="3.4"/>
<ellipse cx="433" cy="338" rx="15" ry="24" transform="rotate(8 433 338)" fill="none" stroke="#fff" stroke-width="3.3"/>
<ellipse cx="434" cy="335" rx="7.5" ry="12" transform="rotate(5 434 335)" fill="none" stroke="#fff" stroke-width="3.2"/>
</g></g>
<path d="M213 232C215 217 216 224 221 207C226 190 225 198 228 181C231 164 223 169 231 157C239 145 238 147 251 145C264 143 261 144 271 150C281 156 282 155 282 164C282 173 273 166 272 178C271 190 274 186 279 201C284 216 282 219 288 224C294 229 289 219 297 216C305 213 305 210 311 216C317 222 316 222 315 234C314 246 314 244 309 252C304 260 308 258 300 258C292 258 294 255 284 252C274 249 277 253 270 248C263 243 267 245 262 236C257 227 261 231 254 222C247 213 249 211 242 210C235 209 238 210 232 220C226 230 229 229 224 240C219 251 220 255 216 252C212 249 211 247 213 232Z" fill="#000"/>
<path d="M147 347C147 336 148 336 158 324C168 312 168 308 176 312C184 316 182 322 182 335C182 348 184 344 176 352C168 360 168 360 158 358C148 356 147 358 147 347Z" fill="#000"/>
</g>
<rect x="359.7" y="622.4" width="79.3" height="40.3" fill="none" stroke="#0a0a0a" stroke-width="1.6"/>
<rect x="437" y="623.3" width="4" height="14.6" fill="#fff"/>
<path d="M439 623.3v14.6" stroke="#b8b8b8" stroke-width=".6"/>
<text x="431.2" y="633.5" font-size="9.8" fill="#141414">2,33</text>
<path d="M471.1 622V724H573.6" fill="none" stroke="#c4c4c4" stroke-width=".7"/>
<path d="M575.1 622V724" fill="none" stroke="#d4d4d4" stroke-width=".7"/>
<path d="M471.1 724v2.6M471.1 724h-2.6M496.6 724v2.6M471.1 698.5h-2.6M522.1 724v2.6M471.1 673h-2.6M547.6 724v2.6M471.1 647.5h-2.6M573.1 724v2.6M471.1 622h-2.6" fill="none" stroke="#3a3a3a" stroke-width=".9"/>
<path d="M478.78 724.3v1.3M470.8 716.32h-1.3M483.27 724.3v1.3M470.8 711.83h-1.3M486.45 724.3v1.3M470.8 708.65h-1.3M488.92 724.3v1.3M470.8 706.18h-1.3M490.94 724.3v1.3M470.8 704.16h-1.3M492.65 724.3v1.3M470.8 702.45h-1.3M494.13 724.3v1.3M470.8 700.97h-1.3M495.43 724.3v1.3M470.8 699.67h-1.3M504.28 724.3v1.3M470.8 690.82h-1.3M508.77 724.3v1.3M470.8 686.33h-1.3M511.95 724.3v1.3M470.8 683.15h-1.3M514.42 724.3v1.3M470.8 680.68h-1.3M516.44 724.3v1.3M470.8 678.66h-1.3M518.15 724.3v1.3M470.8 676.95h-1.3M519.63 724.3v1.3M470.8 675.47h-1.3M520.93 724.3v1.3M470.8 674.17h-1.3M529.78 724.3v1.3M470.8 665.32h-1.3M534.27 724.3v1.3M470.8 660.83h-1.3M537.45 724.3v1.3M470.8 657.65h-1.3M539.92 724.3v1.3M470.8 655.18h-1.3M541.94 724.3v1.3M470.8 653.16h-1.3M543.65 724.3v1.3M470.8 651.45h-1.3M545.13 724.3v1.3M470.8 649.97h-1.3M546.43 724.3v1.3M470.8 648.67h-1.3M555.28 724.3v1.3M470.8 639.82h-1.3M559.77 724.3v1.3M470.8 635.33h-1.3M562.95 724.3v1.3M470.8 632.15h-1.3M565.42 724.3v1.3M470.8 629.68h-1.3M567.44 724.3v1.3M470.8 627.66h-1.3M569.15 724.3v1.3M470.8 625.95h-1.3M570.63 724.3v1.3M470.8 624.47h-1.3M571.93 724.3v1.3M470.8 623.17h-1.3" fill="none" stroke="#777" stroke-width=".8"/>
<path d="M541.14 629.54h.01M545.27 649.56h.01M510.35 634.69h.01M557 685.04h.01M553.98 674.51h.01M482.35 662.93h.01M479.12 632.07h.01M553.34 622h.01M510.8 626.26h.01M474.44 659.1h.01M570.63 647.59h.01M502.72 722.7h.01M565.08 661.4h.01M539.49 703h.01M507.26 622.23h.01M509.24 692.64h.01M569.47 667.05h.01M513.01 660.84h.01M533.02 624.27h.01M564.21 719.32h.01M474.28 622.62h.01M503.12 636.89h.01M549.59 710.73h.01M526.78 718.28h.01M504.91 695.78h.01M486.78 697.17h.01M517.55 722.42h.01M503.19 669.16h.01M505.51 698.54h.01M480.02 700.04h.01M511.1 640.55h.01M514.62 689.79h.01M472.37 691.61h.01M513.72 666.42h.01M478.32 705.73h.01M486.84 666.02h.01M508.14 678.18h.01M498.68 704.43h.01M508.54 673.54h.01M504.7 676.4h.01M489.96 700.25h.01M497.8 662.63h.01M521.07 661.57h.01M485.02 698.57h.01M498.91 694.72h.01M503.63 697.66h.01M514.25 658.47h.01M503.71 702.78h.01M543.28 655.85h.01M571 707.45h.01M533.05 689.38h.01M536.05 668.76h.01M492.64 679.41h.01M512.56 674.54h.01M487.77 704.62h.01M498.55 695.78h.01M509.7 677.59h.01M489.4 670.39h.01M502.18 652.95h.01M539.37 687.39h.01M503.29 683.38h.01M508.05 712.81h.01M520.08 667.61h.01M509.67 679.05h.01M500.81 717.29h.01M506.95 671.68h.01M483.62 675.86h.01M501.67 665.9h.01M488.87 711.68h.01M496.77 667.92h.01M499.62 670.31h.01M490.21 683.95h.01M491.52 699.58h.01M517.79 692.2h.01M492.49 696.86h.01M512.91 671.78h.01M508.79 689.78h.01M528.5 663.96h.01M500.01 644.79h.01M493.13 690.42h.01M520.08 693.84h.01M504.06 676.45h.01M495.48 686.83h.01M508.76 706.28h.01M475.01 649.19h.01M496.87 695.83h.01M515.04 688.38h.01M504.09 684.2h.01M521.68 698.79h.01M494.61 684.69h.01M521.99 706.18h.01M536.11 680.27h.01M504.88 700.49h.01M483.41 691.35h.01M500.75 694.22h.01M543.73 690.11h.01M557.71 676.28h.01M480.86 702.78h.01M505.72 692.47h.01M521.1 684.26h.01M510.34 662.94h.01M505.43 704.52h.01M490.34 681h.01M501.33 674.69h.01M529.88 670.48h.01M490.98 688.08h.01M496.03 674.19h.01M491.98 686.48h.01M483.52 671.54h.01M481.64 666.23h.01M497.99 637.08h.01M517.47 655.28h.01M547.71 633.29h.01M494.42 642.61h.01M505.82 640.38h.01M476.13 642.36h.01M519.66 641.11h.01M518.12 652.88h.01M519.3 645.28h.01M475.75 643.71h.01M530.35 643.76h.01M506.02 631.87h.01M514.4 645.47h.01M512.74 630.08h.01M481.64 638.4h.01M512.72 631.9h.01M481.36 658.78h.01M541.87 649.94h.01M487.16 645h.01M510.9 665.92h.01M505.26 650.29h.01M550.34 649.7h.01M514.19 639.18h.01M520.96 648.61h.01M534.19 644.1h.01M529.59 629h.01M505.23 650.24h.01M508.4 655.52h.01M501.01 643.09h.01M531.14 632.25h.01M526.09 633.22h.01M480.24 642.33h.01M519.1 654.81h.01M494.28 641.91h.01M498.58 642.11h.01M504.94 638.15h.01M504.71 643.11h.01M502.35 640.88h.01M512.81 640.29h.01M516.98 634.1h.01M528.23 639.48h.01M529.4 653.73h.01M512.59 660.3h.01M495.48 643.1h.01M499.15 638.16h.01M510.33 646.12h.01M512.18 649.01h.01M522.32 650.72h.01M485.58 646.21h.01M482.36 637.22h.01M494.06 634.61h.01M517.84 637.63h.01M510.61 643.54h.01M545.85 630.95h.01M478.92 652.54h.01M525.71 636.79h.01M507.36 652.2h.01M532.72 638.94h.01M508.26 643.68h.01M476.99 657.09h.01M480 650.67h.01M548.62 627.8h.01M508.57 630.35h.01M496.47 664.59h.01M522.27 626.49h.01M538.25 646.97h.01M507.13 637h.01M500.91 651.76h.01M510.89 646.76h.01M523.86 651.03h.01M546.48 643.48h.01M497.08 646.03h.01M510.96 650.72h.01M485.32 632.78h.01M482.42 648.74h.01M478.33 633.93h.01M506.59 625.13h.01M529.49 643.41h.01M539.25 654.51h.01M534.45 661.46h.01M504.77 646.8h.01M506.94 635.95h.01M497.03 650.13h.01M494.97 633.01h.01M492.8 626.81h.01M538.37 639.16h.01M490.13 647.22h.01M489.31 657.5h.01M481.52 637.56h.01M524.08 627.99h.01M527.76 634.82h.01M497.46 622.35h.01M474.12 643.43h.01M508.95 647.79h.01M526.3 631.87h.01M537.35 638.8h.01M510.59 647.09h.01M523.36 637.45h.01M523.53 652.56h.01M505.82 629.21h.01M544.43 647.15h.01M503.07 634.1h.01M531.74 636.52h.01M512.06 637.66h.01M499.29 657.73h.01M498.57 627.76h.01M509.45 639.78h.01M514.69 639.7h.01M511.91 650.48h.01M502.12 642.01h.01M501.21 644.39h.01M501.71 649.9h.01M538.38 653.78h.01M524.25 643.28h.01M527.04 635.65h.01M527.26 639.13h.01M486.79 640.56h.01M481.94 652.31h.01M492.58 641.59h.01M536.83 623.29h.01M538.01 643.3h.01M511.7 630.11h.01M484.85 651.04h.01M523.64 651.46h.01M523.43 661.01h.01M515.56 632.2h.01M516.72 629.81h.01M502.75 635.9h.01M515.09 627.67h.01M526.7 641.85h.01M482.68 652.01h.01M509.23 659h.01M518.16 637.12h.01M508.82 633.8h.01M508.41 651.22h.01M516.23 627.97h.01M488.53 652.1h.01M516.09 635.88h.01M527.13 632.89h.01M484.99 627.05h.01M516.18 652.94h.01M510.2 640.27h.01M491.71 649.88h.01M488.6 645.73h.01M516.21 637.8h.01M508.04 634h.01M530.36 647.59h.01M526.37 650.03h.01M521.71 651.46h.01M554.61 667.25h.01M516.57 652.48h.01M487.33 632.9h.01M537.78 656.09h.01M505.34 645h.01M485.84 647.93h.01M490.36 654.36h.01M497.27 659.05h.01M544.71 634.45h.01M530.38 645.99h.01M491.85 640.02h.01M521.57 654.25h.01M519.97 646.12h.01M472.45 659.37h.01M497.69 629.23h.01M533.76 635.18h.01M509.54 630.72h.01M522.65 622.44h.01M557.76 642.16h.01M539.11 644.88h.01M541.25 649.42h.01M501.22 644.22h.01M519.41 635.71h.01M527.09 636.26h.01M490.84 638.1h.01M512.45 632.67h.01M496.69 641.39h.01M506.06 646.13h.01M509.95 650.05h.01M506.95 636.79h.01M541.62 664.11h.01M505.78 638.71h.01M533.4 629.33h.01M500.4 640.84h.01M519.78 642.32h.01M486.37 644.87h.01M514.94 638.69h.01M519.19 643.93h.01M480.42 659.73h.01M512.24 639.06h.01M500.48 638.58h.01M513.86 650.7h.01M511.46 650.37h.01M514.08 651.06h.01" fill="none" stroke="#757575" stroke-width=".58" stroke-linecap="round"/>
<path d="M530.24 710.44h.01M542.64 711.18h.01M524.31 710.4h.01M488.77 667.73h.01M482.58 711.18h.01M489.48 659.26h.01M523.47 665.58h.01M493 669.33h.01M505.39 697.01h.01M489 713.74h.01M527.02 660.5h.01M510.94 643.27h.01M515.15 691.48h.01M529.99 713.99h.01M502.05 690.41h.01M508.15 689.27h.01M496.42 689.18h.01M484.14 675.54h.01M514.56 692.51h.01M515.49 652.18h.01M516.87 659.49h.01M485.47 677.78h.01M491.3 714.76h.01M493.83 688.47h.01M543.25 683.08h.01M509.84 661.61h.01M547.65 672.96h.01M541.53 719.73h.01M547.24 659.32h.01M499.47 699.62h.01M518.71 714.57h.01M480.91 694.81h.01M484.26 681.94h.01M503.44 656.36h.01M487.51 677.7h.01M511.04 640.29h.01M494.97 690.87h.01M517.08 651.7h.01M512.07 649.1h.01M545.83 679.66h.01M487.56 715.68h.01M539.13 687.97h.01M498.85 636.18h.01M517.95 692.56h.01M501.79 649.18h.01M538.36 661.33h.01M544.24 718.13h.01M541.64 718.01h.01M486.29 700.95h.01M499.07 693.7h.01M483.22 676.23h.01M503.28 699.94h.01M548.01 714.16h.01M526.59 720.4h.01M528.15 664.84h.01M526.19 690.11h.01M498.54 649.63h.01M523.68 666.5h.01M506.67 640.46h.01M511.94 688.46h.01M490.88 700.54h.01M497.1 665.3h.01M498.17 634.95h.01M515.04 682.73h.01M538.94 719.85h.01M493.75 652.36h.01M511.66 714.41h.01M530.46 715.81h.01M498.17 659.43h.01M499.37 652.43h.01M498.97 649.35h.01M525.39 658.91h.01M495 676.39h.01M527.1 665.97h.01M501.25 644.54h.01M543.36 703.93h.01M489.68 713.88h.01M497.7 646.2h.01M482.67 678.96h.01M499.16 703.03h.01M529.71 720.81h.01M513.63 688.8h.01M540.46 701.11h.01M537.58 713.36h.01M537.64 714.42h.01M520.42 683.24h.01M550.69 681.96h.01M496.59 691.9h.01M540.87 714.79h.01M486.53 697.14h.01M517.58 682.94h.01M499.26 637.29h.01M502.82 703.39h.01M518.94 685.95h.01M526.02 704.05h.01M516.51 688.26h.01M534.25 698.65h.01M543.69 670.22h.01M509.82 624.9h.01M535.3 698.13h.01M488.88 680.82h.01M488.82 702.6h.01M519.84 688.19h.01M486.36 705.94h.01M483.39 693.81h.01M498.12 657.04h.01M546.24 674.26h.01M503.57 630.26h.01M546.15 685.05h.01M540.04 677.1h.01M526.27 687.18h.01M506.84 704.97h.01M510.44 652.48h.01M502.37 634.8h.01M475.94 681.45h.01M538.84 700.81h.01M547.93 707.48h.01M512.5 646.92h.01M527.64 663.92h.01M525.64 657.68h.01M537.59 700.8h.01M536.09 711.7h.01M537.91 661.53h.01M524.3 656.32h.01M529.54 716.17h.01M533.26 658.17h.01M529.75 709.73h.01M539.21 686.64h.01M532.2 712.18h.01M515.88 711.91h.01M500.23 648.67h.01M510.45 699.33h.01M536.44 655.44h.01M543.26 668.22h.01M512.61 682.13h.01M495.04 678.54h.01M539.94 689.85h.01M517.25 631.21h.01M521.84 688.83h.01M503.54 703.71h.01M495.95 689.71h.01M506.33 652.32h.01M488.99 652.98h.01M536.59 671.73h.01M500.03 694.88h.01M512.39 631.05h.01M524.26 690.76h.01M506.39 684.86h.01M511.11 632h.01M510.75 643.63h.01M544 706.19h.01M542.57 699.22h.01M508.39 701.33h.01M494.87 675.5h.01M510.26 696.67h.01M523.42 709.05h.01M486.33 694.92h.01M477.21 678.56h.01M484.43 656.53h.01M519.27 659.92h.01M517.03 652.34h.01M512.64 697.19h.01M481.74 666.19h.01M514.45 646.92h.01M485.16 685.05h.01M492.97 713.52h.01M529.78 649.57h.01M522.08 659.13h.01M546.84 683.19h.01M531.22 705.27h.01M495.56 699.72h.01M523.36 716.92h.01M538.11 720.5h.01M513.6 686.39h.01M496.79 656.71h.01M535.27 677.92h.01M496.22 694.97h.01M486.2 664.32h.01M490.36 704.4h.01M529.89 663.67h.01M537.23 713.96h.01M534.38 718.76h.01M498.38 666.4h.01M499.18 706.42h.01M537.36 658.4h.01M519.88 647.79h.01M512.79 689.68h.01M523.28 660.24h.01M529.26 707.41h.01M508.3 649.38h.01M538.85 708.6h.01M523.86 693.19h.01M493.34 696.1h.01M526.87 708.12h.01M475.1 666.94h.01M501.97 671.15h.01M519.92 656.83h.01M492.48 669.94h.01M505.55 689.68h.01M535.6 705.06h.01M539.79 715.41h.01M514.46 697.73h.01M545 672.37h.01M498.62 651.62h.01M499.27 634.2h.01M538.74 719.23h.01M511.18 681.51h.01M548.34 675.04h.01M491.12 656.37h.01M514.6 646.64h.01M484.76 695.8h.01M519.71 699.56h.01M544.69 687.86h.01M486.53 708.55h.01M547.27 655.17h.01M522.44 688.15h.01M514.11 664.89h.01M497.21 648.07h.01M496.97 640.32h.01M501.19 691.02h.01M514.31 703.65h.01M495.15 717.68h.01M528.89 717.76h.01M525.16 663.96h.01M511.39 661.11h.01M550.82 660.98h.01M485.28 699.54h.01M528.89 670.43h.01M488.05 704.85h.01M496.7 700.73h.01M490.95 641.41h.01M532.83 718.89h.01M531.86 699.71h.01M495.38 715.61h.01M495.36 703.22h.01M484.98 678.07h.01M528.02 703.85h.01M530.98 662.58h.01M502.26 652.65h.01M539.91 668.99h.01M494.14 658.32h.01M523.18 659.14h.01M493.98 665.9h.01M491.81 701.88h.01M485.64 645.53h.01M505.53 695.69h.01M545.64 681.82h.01M485.85 671.44h.01M541.18 716.1h.01M531.33 707.57h.01M509.11 631.17h.01M546.77 671.15h.01M512.33 679.41h.01M492.94 660.24h.01M542.49 662.03h.01M544.67 689.76h.01M501.05 675.91h.01M495.32 653.1h.01M483.64 680.07h.01M518.8 677.56h.01M501.64 661.93h.01M536.75 708.93h.01M539.62 708.04h.01M495.18 704.09h.01M518.5 699.6h.01M530.31 711.74h.01M520.08 654.54h.01M534.87 665.06h.01M526.57 652.8h.01M523.1 694.42h.01M488.94 688.38h.01M495.47 715.83h.01M494.12 715.49h.01M489.51 675.05h.01M541.69 667.98h.01M513.99 658.32h.01M520.21 642.37h.01M512.79 662.63h.01M495.96 659.24h.01M501.2 721.29h.01M512.48 707.13h.01M525.75 695h.01M482.19 700.55h.01M501.84 639.79h.01M510.16 635.01h.01M521.17 682.48h.01M524.3 689.29h.01M505.5 657.85h.01M491.35 665.97h.01M545.68 667.82h.01M527.48 691.89h.01M476.64 669.73h.01M482.19 708.38h.01M520.99 699.35h.01M515.25 688.52h.01M545.64 691.35h.01M478.28 681.99h.01M546.15 674.59h.01M502.18 717.09h.01M537.81 699.2h.01M491.14 635.68h.01M496.99 648.67h.01M503.42 694.9h.01M512.86 639.81h.01M540.51 704.97h.01M539.1 720.07h.01M493.57 664.89h.01M506.79 696.11h.01M481.61 664.22h.01M540.86 684.93h.01M515.72 656.1h.01M547.31 647.56h.01M528.98 673.47h.01M521.85 711.6h.01M483.57 630.79h.01M541.05 680.17h.01M492.03 642.59h.01M534.15 667.98h.01M509.37 640.09h.01M488.69 672.74h.01M491.57 687.02h.01M501.8 688.09h.01M508.91 648.77h.01M540.65 721.54h.01M539.52 713.42h.01M489.22 684.91h.01M518.14 692.04h.01M531.64 702.32h.01M511.56 655.83h.01M492.93 680.68h.01M531.71 669h.01M492.2 662.05h.01M493.29 696.7h.01M497.27 707.9h.01M537.36 661.29h.01M493.04 690.12h.01M510.97 699.5h.01M508.85 694.11h.01M533.1 662.5h.01M531.72 704.26h.01M536.84 656.33h.01M498.05 690.66h.01M548.12 721.12h.01M520.3 690.36h.01M522.05 707.74h.01M486.01 681.55h.01M491.56 689.09h.01M542.86 702.83h.01M496.69 650.09h.01M529.51 668.15h.01M561.68 681h.01M512.27 682.56h.01M515.83 685.37h.01M537.1 708.46h.01M525.07 696.33h.01M539.81 669.2h.01M516.76 684.36h.01M534.31 689.79h.01M540.31 669.94h.01M506.63 640.19h.01M520.05 651.95h.01M531.65 709.89h.01M516.93 694.48h.01M518.01 682.81h.01M518.52 679.37h.01M499.13 640.6h.01M486.88 673.41h.01M536.9 715.77h.01M487.86 707.91h.01M523.4 666.62h.01M488.6 662.41h.01M527.31 711.24h.01M548.71 690.36h.01M534.49 658.82h.01M527.88 661.5h.01M496.92 697.02h.01M481.42 700.05h.01M488.02 700.71h.01M483.82 689.89h.01M480.28 666.49h.01M480.49 687.71h.01M504.26 639.76h.01M502.99 689.29h.01M501.26 623.41h.01M514.57 697.07h.01M548.32 668.24h.01M511.71 642.79h.01M514.41 693.23h.01M518.91 691.04h.01M498.85 692.81h.01M497.89 667.65h.01M515.78 681.35h.01M502.77 653.51h.01M511.12 633.6h.01M519.96 651.81h.01M537.61 664.65h.01M518.39 706.26h.01M550.22 686.59h.01M544.39 686.77h.01M532.38 691.84h.01M531.72 665.19h.01M512.99 634.54h.01M510.24 660.62h.01M528.18 706.53h.01M485.1 659.84h.01M501.83 648.2h.01M495.1 680.57h.01M476.1 676.36h.01M495.39 698.56h.01M520.5 667.96h.01M540.54 712.5h.01M502.9 636.85h.01M542.3 665.99h.01M519.36 691.95h.01M528.33 651.79h.01M493.22 656.44h.01M521.46 718.01h.01M540.55 704.6h.01M542.63 709.96h.01M498.44 699.13h.01M497.64 637.03h.01M511.62 703.19h.01M511.05 694.17h.01M547.31 655.27h.01M538.16 722.71h.01M517.65 672.61h.01M495.67 636.4h.01M546.33 652.44h.01M515.01 680.1h.01M478.35 686.81h.01M516.87 719.07h.01M487.08 662.34h.01M544.04 685.08h.01M529.71 692.82h.01M490.56 686.52h.01M510.8 653.55h.01M480.92 696.86h.01M514.59 650.67h.01M485.3 673.64h.01M501.56 638.49h.01M528.92 662.01h.01M522.05 659.28h.01M505.71 693.48h.01M484.64 686.49h.01M516.52 639.66h.01M518.99 691.9h.01M532.71 702.67h.01M488.91 654.84h.01M484.88 668.98h.01M491.07 719.12h.01M477.88 700.91h.01M541.94 702.69h.01M495.47 683.23h.01M546.88 683.28h.01M539.54 658.54h.01M490.19 703.07h.01M487.07 672.02h.01M506.52 692.42h.01M503.31 640.52h.01M532.29 711.08h.01M486.64 690.74h.01M540.62 708.1h.01M527.11 692.93h.01M513.48 649.55h.01M543.07 666.29h.01M542.49 654.37h.01M502.86 702.23h.01M542.02 653.78h.01M488.88 683.53h.01M496.34 702.66h.01M496.45 643.17h.01M490.35 682.9h.01M504.83 635.31h.01M488.31 693.91h.01M511.41 650.52h.01M488.33 696.06h.01M517.11 691.84h.01" fill="none" stroke="#6c6c6c" stroke-width=".6" stroke-linecap="round"/>
<path d="M519.83 641.81h.01M497.97 684.35h.01M518.59 719.6h.01M494.09 694.6h.01M512.19 673.21h.01M495.07 670.31h.01M503.87 701.13h.01M539.64 706.98h.01M494.94 655.01h.01M518.85 717.96h.01M543.48 673.78h.01M501.94 707.86h.01M543.73 696.45h.01M503.13 666.96h.01M537.48 699.9h.01M503.88 661.86h.01M502.37 651h.01M512.85 667.74h.01M506.41 720.43h.01M537.06 701.88h.01M519.36 654.8h.01M527.33 660.07h.01M491.83 711.54h.01M520.51 719.67h.01M482.56 661.44h.01M522.72 626.58h.01M542.16 667.04h.01M487.89 659.43h.01M528.07 653.52h.01M490.63 662.91h.01M512.9 643.97h.01M489.71 713.55h.01M518.02 679.21h.01M534.86 684.38h.01M504.68 704.14h.01M502.24 697.46h.01M509.62 707.31h.01M528.74 672.83h.01M533.84 665.6h.01M512.39 652.48h.01M509.83 707.87h.01M524.69 644.73h.01M519.37 654.23h.01M508.69 694.59h.01M528.19 690.74h.01M531.68 675.98h.01M519.48 663.15h.01M530.82 692.34h.01M500.35 679.75h.01M518.44 642.95h.01M530.12 710.45h.01M534.23 690.64h.01M504.37 701.37h.01M509.53 699.02h.01M519.6 675.24h.01M520.21 655.95h.01M510.14 721.07h.01M490.56 693h.01M518.72 694.73h.01M520.78 659.75h.01M515.32 710.17h.01M516.92 652.78h.01M499.13 639.63h.01M490.8 705.05h.01M503.61 676.37h.01M539.29 681.01h.01M503.54 639.46h.01M492.25 699.91h.01M500.83 644.96h.01M518.98 691.19h.01M509.99 686.1h.01M499.57 722.57h.01M539.04 644.04h.01M537.72 669.31h.01M484.29 692.29h.01M510.48 636.73h.01M489.15 661.55h.01M537.56 716.94h.01M494.37 649.81h.01M488.18 669.79h.01M511.59 664.6h.01M521.44 649.22h.01M518.15 642.11h.01M533.46 686.23h.01M501.1 717.07h.01M507.2 697.69h.01M529.45 673.64h.01M523.98 657.68h.01M495.86 658h.01M510.5 664.89h.01M541.49 693.76h.01M486.61 659.65h.01M515.23 692.51h.01M543.76 684.24h.01M537.39 663.87h.01M513.49 648.02h.01M499.09 662.87h.01M490.61 677.77h.01M476.43 667.35h.01M508.78 641.16h.01M520.28 709.49h.01M480.51 685.95h.01M509.49 679.78h.01M510.44 693.57h.01M491.79 692.69h.01M539.5 656.55h.01M472.61 672.69h.01M484.47 676.51h.01M490.06 687.79h.01M507.48 636.44h.01M525.17 626.5h.01M483.93 677.08h.01M529.07 681.59h.01M521.06 676.21h.01M542.35 715.08h.01M549.52 688.68h.01M489.22 676.65h.01M483.2 637.93h.01M534.5 711.72h.01M536.17 686.62h.01M512.68 679.33h.01M494.65 686.48h.01M484.88 707.41h.01M513.57 648.69h.01M526.3 694.63h.01M512.32 623.13h.01M491.44 654.18h.01M523.28 709.02h.01M510.85 659.02h.01M537.77 693.73h.01M514.17 712.1h.01M476.88 696.61h.01M543.99 703.38h.01M521.61 687.56h.01M545.25 680.85h.01M528.28 674.06h.01M523.05 681.33h.01M547.44 652.04h.01M545.25 662.74h.01M513.49 689.94h.01M502.07 686.61h.01M475.83 667.44h.01M487.69 652h.01M508.71 655.29h.01M504.96 650.31h.01M494.37 660.53h.01M497.82 705.07h.01M522.72 658.43h.01M513.88 664.34h.01M498.31 638.04h.01M493.94 699.7h.01M544.83 642.76h.01M523.49 675.28h.01M482.85 676.71h.01M550.86 699.24h.01M518.73 716.81h.01M496.89 707.05h.01M519.08 710.21h.01M483.08 689.82h.01M544.22 700.44h.01M506.79 637.54h.01M517.34 713.73h.01M550.02 671.19h.01M532.16 672.29h.01M520.01 702.47h.01M486.8 687.59h.01M523.26 711.03h.01M484.82 695.44h.01M526.53 667.11h.01M503.6 650.67h.01M546.91 674.28h.01M525.43 701.82h.01M520.15 660.68h.01M502.05 662.34h.01M497.06 634.98h.01M562.95 677.86h.01M493.38 696.15h.01M488.98 699.53h.01" fill="none" stroke="#777" stroke-width=".58" stroke-linecap="round"/>
<g transform="translate(455 600) scale(.24795)">
<clipPath id="c8o"><path d="M122 324C123 306 120 314 124 294C128 274 126 283 134 264C142 245 138 253 147 237C156 221 154 231 161 217C168 203 165 211 167 194C169 177 161 183 166 167C171 151 169 155 181 147C193 139 190 139 201 144C212 149 207 149 214 161C221 173 212 171 221 181C230 191 232 181 241 191C250 201 238 199 247 211C256 223 251 220 267 227C283 234 277 230 294 231C311 232 300 228 317 229C334 230 329 227 344 234C359 241 352 235 361 251C370 267 367 260 371 281C375 302 374 291 374 314C374 337 375 327 371 351C367 375 368 364 362 387C356 410 360 399 354 421C348 443 353 437 344 454C335 471 339 469 327 473C315 477 317 478 307 467C297 456 303 461 297 441C291 421 293 429 289 407C285 385 288 394 284 374C280 354 284 362 277 347C270 332 274 334 264 329C254 324 258 327 247 333C236 339 244 337 231 347C218 357 223 354 207 364C191 374 197 366 184 377C171 388 177 381 167 397C157 413 163 421 154 424C145 427 149 424 141 407C133 390 135 394 129 374C123 354 124 364 122 347C120 330 121 342 122 324Z"/></clipPath><clipPath id="c8"><path d="M134 324C134 308 132 315 135 296C138 277 137 286 144 268C151 250 147 258 156 242C165 227 163 237 170 221C178 206 176 212 178 195C180 178 174 184 176 170C179 157 178 161 186 155C193 148 191 147 198 150C206 154 202 153 208 164C214 176 206 175 216 186C225 196 227 186 236 196C244 205 232 202 241 215C251 228 247 226 264 233C282 241 276 237 294 238C311 239 301 235 317 236C332 237 328 234 341 240C354 246 347 241 355 255C363 269 360 263 364 282C368 302 368 292 367 314C366 336 367 326 362 350C358 373 359 362 353 385C347 408 351 397 345 418C338 440 341 436 334 448C326 461 328 454 322 457C317 459 322 462 318 455C314 449 316 454 310 437C305 420 306 426 302 404C298 383 301 393 297 371C293 350 299 360 290 341C281 321 287 320 270 312C253 305 256 311 240 319C224 327 236 325 222 336C209 347 215 341 199 351C183 361 189 353 175 366C161 379 164 377 157 390C149 403 153 402 152 405C151 408 157 412 154 400C151 388 149 388 142 370C136 352 138 361 135 345C132 330 134 341 134 324Z"/></clipPath>
<path d="M122 324C123 306 120 314 124 294C128 274 126 283 134 264C142 245 138 253 147 237C156 221 154 231 161 217C168 203 165 211 167 194C169 177 161 183 166 167C171 151 169 155 181 147C193 139 190 139 201 144C212 149 207 149 214 161C221 173 212 171 221 181C230 191 232 181 241 191C250 201 238 199 247 211C256 223 251 220 267 227C283 234 277 230 294 231C311 232 300 228 317 229C334 230 329 227 344 234C359 241 352 235 361 251C370 267 367 260 371 281C375 302 374 291 374 314C374 337 375 327 371 351C367 375 368 364 362 387C356 410 360 399 354 421C348 443 353 437 344 454C335 471 339 469 327 473C315 477 317 478 307 467C297 456 303 461 297 441C291 421 293 429 289 407C285 385 288 394 284 374C280 354 284 362 277 347C270 332 274 334 264 329C254 324 258 327 247 333C236 339 244 337 231 347C218 357 223 354 207 364C191 374 197 366 184 377C171 388 177 381 167 397C157 413 163 421 154 424C145 427 149 424 141 407C133 390 135 394 129 374C123 354 124 364 122 347C120 330 121 342 122 324Z" fill="#000"/>
<g clip-path="url(#c8o)"><g clip-path="url(#c8)">
<path d="M134 324C134 308 132 315 135 296C138 277 137 286 144 268C151 250 147 258 156 242C165 227 163 237 170 221C178 206 176 212 178 195C180 178 174 184 176 170C179 157 178 161 186 155C193 148 191 147 198 150C206 154 202 153 208 164C214 176 206 175 216 186C225 196 227 186 236 196C244 205 232 202 241 215C251 228 247 226 264 233C282 241 276 237 294 238C311 239 301 235 317 236C332 237 328 234 341 240C354 246 347 241 355 255C363 269 360 263 364 282C368 302 368 292 367 314C366 336 367 326 362 350C358 373 359 362 353 385C347 408 351 397 345 418C338 440 341 436 334 448C326 461 328 454 322 457C317 459 322 462 318 455C314 449 316 454 310 437C305 420 306 426 302 404C298 383 301 393 297 371C293 350 299 360 290 341C281 321 287 320 270 312C253 305 256 311 240 319C224 327 236 325 222 336C209 347 215 341 199 351C183 361 189 353 175 366C161 379 164 377 157 390C149 403 153 402 152 405C151 408 157 412 154 400C151 388 149 388 142 370C136 352 138 361 135 345C132 330 134 341 134 324Z" fill="#dedede"/>
<path d="M134 324C134 308 132 315 135 296C138 277 137 286 144 268C151 250 147 258 156 242C165 227 163 237 170 221C178 206 176 212 178 195C180 178 174 184 176 170C179 157 178 161 186 155C193 148 191 147 198 150C206 154 202 153 208 164C214 176 206 175 216 186C225 196 227 186 236 196C244 205 232 202 241 215C251 228 247 226 264 233C282 241 276 237 294 238C311 239 301 235 317 236C332 237 328 234 341 240C354 246 347 241 355 255C363 269 360 263 364 282C368 302 368 292 367 314C366 336 367 326 362 350C358 373 359 362 353 385C347 408 351 397 345 418C338 440 341 436 334 448C326 461 328 454 322 457C317 459 322 462 318 455C314 449 316 454 310 437C305 420 306 426 302 404C298 383 301 393 297 371C293 350 299 360 290 341C281 321 287 320 270 312C253 305 256 311 240 319C224 327 236 325 222 336C209 347 215 341 199 351C183 361 189 353 175 366C161 379 164 377 157 390C149 403 153 402 152 405C151 408 157 412 154 400C151 388 149 388 142 370C136 352 138 361 135 345C132 330 134 341 134 324Z" fill="none" stroke="#101010" stroke-width="26" opacity=".8" filter="url(#bl)"/>
<path d="M134 324C134 308 132 315 135 296C138 277 137 286 144 268C151 250 147 258 156 242C165 227 163 237 170 221C178 206 176 212 178 195C180 178 174 184 176 170C179 157 178 161 186 155C193 148 191 147 198 150C206 154 202 153 208 164C214 176 206 175 216 186C225 196 227 186 236 196C244 205 232 202 241 215C251 228 247 226 264 233C282 241 276 237 294 238C311 239 301 235 317 236C332 237 328 234 341 240C354 246 347 241 355 255C363 269 360 263 364 282C368 302 368 292 367 314C366 336 367 326 362 350C358 373 359 362 353 385C347 408 351 397 345 418C338 440 341 436 334 448C326 461 328 454 322 457C317 459 322 462 318 455C314 449 316 454 310 437C305 420 306 426 302 404C298 383 301 393 297 371C293 350 299 360 290 341C281 321 287 320 270 312C253 305 256 311 240 319C224 327 236 325 222 336C209 347 215 341 199 351C183 361 189 353 175 366C161 379 164 377 157 390C149 403 153 402 152 405C151 408 157 412 154 400C151 388 149 388 142 370C136 352 138 361 135 345C132 330 134 341 134 324Z" fill="none" stroke="#e4e4e4" stroke-width="2.2" opacity=".45"/>
<radialGradient id="g19" gradientUnits="userSpaceOnUse" cx="179" cy="284" r="52" gradientTransform="translate(179 284) rotate(0) scale(1 1) translate(-179 -284)"><stop offset="0" stop-color="#1c1c1c" stop-opacity=".9"/><stop offset=".42" stop-color="#1c1c1c" stop-opacity=".68"/><stop offset="1" stop-color="#1c1c1c" stop-opacity="0"/></radialGradient>
<rect x="75" y="180" width="208" height="208" fill="url(#g19)"/>
<ellipse cx="179" cy="284" rx="20" ry="14" transform="rotate(-35 179 284)" fill="#f4f4f4"/>
<radialGradient id="g20" gradientUnits="userSpaceOnUse" cx="316" cy="442" r="26" gradientTransform="translate(316 442) rotate(10) scale(1 1.54) translate(-316 -442)"><stop offset="0" stop-color="#1a1a1a" stop-opacity=".8"/><stop offset=".5" stop-color="#1a1a1a" stop-opacity=".6"/><stop offset="1" stop-color="#1a1a1a" stop-opacity="0"/></radialGradient>
<rect x="236" y="362" width="160" height="160" fill="url(#g20)"/>
<path d="M306 294.75A30 30 0 1 1 364.79 303.42L323.61 444.2A9.6 9.6 0 0 1 304.8 441.42Z" fill="#b4b4b4" filter="url(#bl)" opacity=".9"/>
<path d="M312.51 298.34A24.5 24.5 0 1 1 360.21 306.83L324.8 411.79A7.84 7.84 0 0 1 309.54 409.07Z" fill="#a2a2a2" stroke="#fff" stroke-width="3.4" stroke-linejoin="round"/>
<path d="M320.51 302.29A17.5 17.5 0 1 1 354.35 309.23L328.36 377.51A5.6 5.6 0 0 1 317.53 375.29Z" fill="#848484" stroke="#fff" stroke-width="3.4" stroke-linejoin="round"/>
<path d="M329.01 307.48A10 10 0 1 1 348.13 311.07L336.51 337.16A3.2 3.2 0 0 1 330.39 336.01Z" fill="#4a4a4a" stroke="#fff" stroke-width="3.2" stroke-linejoin="round"/>
</g></g>
<path d="M160 218C159 209 165 211 167 194C169 177 161 183 166 167C171 151 169 155 181 147C193 139 190 139 201 144C212 149 207 149 214 161C221 173 212 171 221 181C230 191 232 181 241 191C250 201 239 199 248 211C257 223 263 219 268 227C273 235 271 236 262 234C253 232 256 229 240 222C224 215 232 215 215 212C198 209 205 209 190 212C175 215 180 220 170 222C160 224 161 227 160 218Z" fill="#000"/>
</g>
<rect x="479.3" y="622.4" width="71.9" height="33.6" fill="none" stroke="#0a0a0a" stroke-width="1.6"/>
<text x="553.8" y="633.5" font-size="9.8" fill="#141414">2,01</text>
<text transform="translate(590.4 674.5) rotate(-90)" font-size="12.9" font-weight="bold" stroke="#000" stroke-width=".3" text-anchor="middle"><tspan font-style="italic">p</tspan>R, 25 mM NaCl</text>
<path d="M350.2 742V845H452.2" fill="none" stroke="#c4c4c4" stroke-width=".7"/>
<path d="M350.2 845v2.6M350.2 845h-2.6M375.7 845v2.6M350.2 819.5h-2.6M401.2 845v2.6M350.2 794h-2.6M426.7 845v2.6M350.2 768.5h-2.6M452.2 845v2.6M350.2 743h-2.6" fill="none" stroke="#3a3a3a" stroke-width=".9"/>
<path d="M357.88 845.3v1.3M349.9 837.32h-1.3M362.37 845.3v1.3M349.9 832.83h-1.3M365.55 845.3v1.3M349.9 829.65h-1.3M368.02 845.3v1.3M349.9 827.18h-1.3M370.04 845.3v1.3M349.9 825.16h-1.3M371.75 845.3v1.3M349.9 823.45h-1.3M373.23 845.3v1.3M349.9 821.97h-1.3M374.53 845.3v1.3M349.9 820.67h-1.3M383.38 845.3v1.3M349.9 811.82h-1.3M387.87 845.3v1.3M349.9 807.33h-1.3M391.05 845.3v1.3M349.9 804.15h-1.3M393.52 845.3v1.3M349.9 801.68h-1.3M395.54 845.3v1.3M349.9 799.66h-1.3M397.25 845.3v1.3M349.9 797.95h-1.3M398.73 845.3v1.3M349.9 796.47h-1.3M400.03 845.3v1.3M349.9 795.17h-1.3M408.88 845.3v1.3M349.9 786.32h-1.3M413.37 845.3v1.3M349.9 781.83h-1.3M416.55 845.3v1.3M349.9 778.65h-1.3M419.02 845.3v1.3M349.9 776.18h-1.3M421.04 845.3v1.3M349.9 774.16h-1.3M422.75 845.3v1.3M349.9 772.45h-1.3M424.23 845.3v1.3M349.9 770.97h-1.3M425.53 845.3v1.3M349.9 769.67h-1.3M434.38 845.3v1.3M349.9 760.82h-1.3M438.87 845.3v1.3M349.9 756.33h-1.3M442.05 845.3v1.3M349.9 753.15h-1.3M444.52 845.3v1.3M349.9 750.68h-1.3M446.54 845.3v1.3M349.9 748.66h-1.3M448.25 845.3v1.3M349.9 746.95h-1.3M449.73 845.3v1.3M349.9 745.47h-1.3M451.03 845.3v1.3M349.9 744.17h-1.3" fill="none" stroke="#777" stroke-width=".8"/>
<path d="M439 742.2H452.2" fill="none" stroke="#c4c4c4" stroke-width=".7"/>
<path d="M417.26 836.48h.01M373.78 792.39h.01M408.17 775.1h.01M410.39 801.47h.01M444.42 789.15h.01M391.77 798.05h.01M353.11 831.61h.01M438.66 819.2h.01M376.72 804.69h.01M365.54 796.96h.01M403.82 811.09h.01M362.58 836.55h.01M359.63 816.11h.01M374.3 775.3h.01M441.26 813.33h.01M361.57 803.84h.01M380.59 823.55h.01M360.94 815.7h.01M391.08 758.16h.01M394.28 829.08h.01M443.35 811.13h.01M378.55 794.04h.01M432.2 809.37h.01M378.88 801.82h.01M385.62 802.76h.01M438.8 794.61h.01M387.29 760.15h.01M407.25 818.5h.01M445.01 795.54h.01M387.82 798.75h.01M364.77 804.6h.01M376.01 801.3h.01M398.79 815.69h.01M396.5 839.86h.01M403.18 812.31h.01M407.72 803.18h.01M418.64 806.88h.01M362.26 796.86h.01M431.28 781h.01M438.17 806.28h.01M401.47 822.85h.01M400.68 797.64h.01M366.54 772.5h.01M402.98 753.58h.01M433.68 774.64h.01M364.87 765.61h.01M421.93 774.63h.01M362.35 769.9h.01M419.43 768.98h.01M353.61 759.13h.01M396.77 761.82h.01M426.33 759.96h.01M413.88 755.12h.01M399.01 777.1h.01M385.17 763.99h.01M358.77 750.5h.01M417.03 777.73h.01M381.4 762.2h.01M409.66 759.31h.01M402.28 759.78h.01M417.44 758.43h.01M386.56 748.66h.01M378.04 747.23h.01M396.21 775.75h.01M363.22 754.5h.01M378.18 769.58h.01" fill="none" stroke="#808080" stroke-width=".58" stroke-linecap="round"/>
<path d="M421.71 804.68h.01M415.94 799.11h.01M371.97 793.21h.01M444.35 807.73h.01M370.02 799.42h.01M354.7 815.73h.01M369.86 796.95h.01M388.4 786.09h.01M434.43 835.89h.01M433.69 776.84h.01M417.68 795.1h.01M363.75 820.05h.01M412.8 798.68h.01M434.3 825.77h.01M381.8 779.88h.01M401.37 814.84h.01M390.9 817.32h.01M433.56 794.67h.01M406.59 824.15h.01M442.81 820.58h.01M396.98 800.26h.01M403.92 813.93h.01M407.59 821.12h.01M389.21 809.52h.01M386.69 783.84h.01M413.12 824.48h.01M449.6 821.85h.01M374.92 812.37h.01M411.27 817.38h.01M375.49 798.28h.01M415.96 816.78h.01M422.65 797.92h.01M414.43 830.74h.01M382.57 804.55h.01M382.8 803.7h.01M412.36 806.89h.01M429.26 843.39h.01M369.09 809.69h.01M404.95 825.99h.01M375 819.91h.01M400.22 803.42h.01M442.25 818.38h.01M368.6 793.62h.01M415.99 815.55h.01M395.85 843.07h.01M420.18 799.38h.01M386.11 787.94h.01M404.59 831.34h.01M393.16 829.47h.01M397.4 808.92h.01M416.24 799.14h.01M368.64 821.27h.01M395.55 818.12h.01M418.58 794.41h.01M367.39 816.73h.01M431.69 837.52h.01M381.81 806.66h.01M404.96 789.3h.01M439.77 838.19h.01M419.57 792.12h.01M435.77 840.96h.01M404.4 817h.01M415.84 788.31h.01M427.38 835.5h.01M433.78 839.66h.01M384.51 816.3h.01M369.07 796.88h.01M433.7 821.64h.01M380.23 803.22h.01M441.5 806.94h.01M409.21 792.7h.01M380.27 813.57h.01M387.28 816.61h.01M369.9 825.28h.01M363.87 782.69h.01M442.47 834.53h.01M364.13 799.1h.01M372.06 787.93h.01M380.47 781.43h.01M430.24 840.49h.01M411.41 797.33h.01M431.32 830.26h.01M365.68 820.23h.01M381.41 785.61h.01M364.93 822.84h.01M379.2 794.1h.01M358.73 819.23h.01M397.14 806.03h.01M399.28 823.97h.01M372.25 793.07h.01M407.15 831.09h.01M370.98 825.43h.01M438.55 820.15h.01M428.48 840.22h.01M391.43 815.19h.01M395.45 794.32h.01M374.74 809.49h.01M393.34 818.76h.01M381.41 789.6h.01M436.46 791.76h.01M398.19 802.49h.01M393.94 789.8h.01M380.24 810.29h.01M400.31 817.12h.01M381.63 780.13h.01M359.18 806.29h.01M440.04 786.14h.01M442.83 802.01h.01M434.78 800.27h.01M380.99 823.36h.01M367.16 816.84h.01M399.61 806.09h.01M367.37 796.39h.01M376.89 794.94h.01M436.37 810.72h.01M374.44 795.63h.01M388.91 811.77h.01M437.78 805.36h.01M406.41 791.98h.01M434.16 834.8h.01M395.82 812.92h.01M415.02 808.01h.01M427.23 792.55h.01M403.05 793.41h.01M361.01 818.18h.01M424.85 799.01h.01M407.21 802.61h.01" fill="none" stroke="#777" stroke-width=".58" stroke-linecap="round"/>
<g transform="translate(320 720) scale(.24795)">
<clipPath id="c9o"><path d="M164 376C165 371 174 372 184 362C194 352 193 358 194 345C195 332 188 336 188 322C188 308 189 315 194 302C199 289 198 294 204 282C210 270 205 274 211 265C217 256 213 255 221 255C229 255 223 261 234 265C245 269 242 271 254 268C266 265 260 256 269 256C278 256 270 260 281 267C292 274 285 270 301 278C317 286 310 284 328 292C346 300 336 300 354 302C372 304 363 303 381 298C399 293 391 292 408 287C425 282 416 280 431 282C446 284 441 281 454 292C467 303 462 296 469 315C476 334 473 326 474 348C475 370 471 363 471 382C471 401 470 392 474 405C478 418 480 409 484 422C488 435 490 432 486 445C482 458 483 451 471 462C459 473 464 476 451 478C438 480 445 471 431 468C417 465 420 475 408 468C396 461 404 460 394 448C384 436 388 443 378 432C368 421 372 430 364 415C356 400 359 402 354 388C349 374 355 380 348 372C341 364 341 361 334 365C327 369 333 379 328 385C323 391 324 390 318 382C312 374 320 372 311 362C302 352 302 353 291 352C280 351 287 360 278 358C269 356 274 347 264 345C254 343 260 346 248 352C236 358 241 358 228 362C215 366 218 358 208 365C198 372 207 378 198 382C189 386 192 380 181 378C170 376 163 381 164 376Z"/></clipPath><clipPath id="c9"><path d="M174 374C176 374 180 377 190 368C200 359 201 361 203 346C205 331 197 336 197 322C197 308 197 317 202 305C207 293 207 297 212 286C217 274 215 277 218 270C221 262 217 262 222 263C226 264 219 268 231 272C242 277 244 279 256 276C269 273 262 265 269 264C275 263 267 266 276 273C286 281 281 276 297 285C313 294 306 291 325 299C343 308 334 308 353 310C373 312 364 311 383 306C402 301 395 300 410 295C426 290 417 289 430 290C443 291 438 289 449 298C459 307 456 301 462 318C467 335 466 327 466 348C466 370 463 362 463 382C463 402 462 394 466 408C471 422 473 413 476 424C480 436 481 432 477 442C473 452 473 447 464 454C455 462 460 465 450 466C440 466 446 459 434 456C422 453 424 463 413 458C403 453 411 452 402 441C393 430 396 435 386 425C376 414 381 423 373 410C366 396 369 400 363 384C358 369 367 375 356 365C345 355 341 351 329 354C318 358 324 369 323 375C321 382 327 381 326 374C324 367 331 366 319 355C308 343 304 342 291 339C278 336 288 348 280 346C272 344 278 334 266 333C254 331 257 336 243 342C229 348 238 346 224 351C211 355 212 349 202 356C192 363 200 368 193 371C187 375 190 365 183 366C176 367 171 373 174 374Z"/></clipPath>
<path d="M164 376C165 371 174 372 184 362C194 352 193 358 194 345C195 332 188 336 188 322C188 308 189 315 194 302C199 289 198 294 204 282C210 270 205 274 211 265C217 256 213 255 221 255C229 255 223 261 234 265C245 269 242 271 254 268C266 265 260 256 269 256C278 256 270 260 281 267C292 274 285 270 301 278C317 286 310 284 328 292C346 300 336 300 354 302C372 304 363 303 381 298C399 293 391 292 408 287C425 282 416 280 431 282C446 284 441 281 454 292C467 303 462 296 469 315C476 334 473 326 474 348C475 370 471 363 471 382C471 401 470 392 474 405C478 418 480 409 484 422C488 435 490 432 486 445C482 458 483 451 471 462C459 473 464 476 451 478C438 480 445 471 431 468C417 465 420 475 408 468C396 461 404 460 394 448C384 436 388 443 378 432C368 421 372 430 364 415C356 400 359 402 354 388C349 374 355 380 348 372C341 364 341 361 334 365C327 369 333 379 328 385C323 391 324 390 318 382C312 374 320 372 311 362C302 352 302 353 291 352C280 351 287 360 278 358C269 356 274 347 264 345C254 343 260 346 248 352C236 358 241 358 228 362C215 366 218 358 208 365C198 372 207 378 198 382C189 386 192 380 181 378C170 376 163 381 164 376Z" fill="#000"/>
<g clip-path="url(#c9o)"><g clip-path="url(#c9)">
<path d="M174 374C176 374 180 377 190 368C200 359 201 361 203 346C205 331 197 336 197 322C197 308 197 317 202 305C207 293 207 297 212 286C217 274 215 277 218 270C221 262 217 262 222 263C226 264 219 268 231 272C242 277 244 279 256 276C269 273 262 265 269 264C275 263 267 266 276 273C286 281 281 276 297 285C313 294 306 291 325 299C343 308 334 308 353 310C373 312 364 311 383 306C402 301 395 300 410 295C426 290 417 289 430 290C443 291 438 289 449 298C459 307 456 301 462 318C467 335 466 327 466 348C466 370 463 362 463 382C463 402 462 394 466 408C471 422 473 413 476 424C480 436 481 432 477 442C473 452 473 447 464 454C455 462 460 465 450 466C440 466 446 459 434 456C422 453 424 463 413 458C403 453 411 452 402 441C393 430 396 435 386 425C376 414 381 423 373 410C366 396 369 400 363 384C358 369 367 375 356 365C345 355 341 351 329 354C318 358 324 369 323 375C321 382 327 381 326 374C324 367 331 366 319 355C308 343 304 342 291 339C278 336 288 348 280 346C272 344 278 334 266 333C254 331 257 336 243 342C229 348 238 346 224 351C211 355 212 349 202 356C192 363 200 368 193 371C187 375 190 365 183 366C176 367 171 373 174 374Z" fill="#d6d6d6"/>
<radialGradient id="g21" gradientUnits="userSpaceOnUse" cx="228" cy="318" r="45" gradientTransform="translate(228 318) rotate(-10) scale(1 .67) translate(-228 -318)"><stop offset="0" stop-color="#777" stop-opacity=".85"/><stop offset=".45" stop-color="#777" stop-opacity=".64"/><stop offset="1" stop-color="#777" stop-opacity="0"/></radialGradient>
<rect x="138" y="228" width="180" height="180" fill="url(#g21)"/>
<radialGradient id="g22" gradientUnits="userSpaceOnUse" cx="330" cy="325" r="40" gradientTransform="translate(330 325) rotate(0) scale(1 .55) translate(-330 -325)"><stop offset="0" stop-color="#aaa" stop-opacity=".4"/><stop offset=".45" stop-color="#aaa" stop-opacity=".3"/><stop offset="1" stop-color="#aaa" stop-opacity="0"/></radialGradient>
<rect x="250" y="245" width="160" height="160" fill="url(#g22)"/>
<radialGradient id="g23" gradientUnits="userSpaceOnUse" cx="429" cy="364" r="62" gradientTransform="translate(429 364) rotate(10) scale(1 1.29) translate(-429 -364)"><stop offset="0" stop-color="#1a1a1a" stop-opacity=".95"/><stop offset=".5" stop-color="#1a1a1a" stop-opacity=".71"/><stop offset="1" stop-color="#1a1a1a" stop-opacity="0"/></radialGradient>
<rect x="269" y="204" width="320" height="320" fill="url(#g23)"/>
<ellipse cx="428" cy="367" rx="29" ry="48" transform="rotate(10 428 367)" fill="#2e2e2e"/>
<ellipse cx="428" cy="367" rx="29" ry="48" transform="rotate(10 428 367)" fill="none" stroke="#fff" stroke-width="3.4"/>
<ellipse cx="430" cy="361" rx="22" ry="36" transform="rotate(10 430 361)" fill="none" stroke="#fff" stroke-width="3.4"/>
<ellipse cx="431" cy="357" rx="15" ry="24" transform="rotate(8 431 357)" fill="none" stroke="#fff" stroke-width="3.3"/>
<ellipse cx="432" cy="354" rx="7.5" ry="12" transform="rotate(5 432 354)" fill="none" stroke="#fff" stroke-width="3.2"/>
</g></g>
<path d="M164 377C165 371 173 370 184 361C195 352 190 348 197 350C204 352 206 355 206 366C206 377 206 379 198 383C190 387 192 381 181 379C170 377 163 383 164 377Z" fill="#000"/>
<path d="M203 284C204 275 205 275 211 265C217 255 213 254 221 254C229 254 223 260 234 264C245 268 242 270 254 267C266 264 260 255 269 255C278 255 270 259 281 266C292 273 285 269 301 277C317 285 310 283 328 291C346 299 336 299 354 301C372 303 372 296 381 297C390 298 390 300 381 305C372 310 372 313 354 313C336 313 346 311 328 304C310 297 317 299 301 291C285 283 297 284 281 281C265 278 270 282 254 281C238 280 247 278 234 279C221 280 225 279 216 283C207 287 212 292 208 292C204 292 202 293 203 284Z" fill="#000"/>
<path d="M268 344C275 339 284 340 300 345C316 350 304 352 316 358C328 364 332 353 336 362C340 371 335 379 329 386C323 393 324 390 317 383C310 376 317 375 308 366C299 357 300 358 290 356C280 354 285 364 278 360C271 356 261 349 268 344Z" fill="#000"/>
</g>
<rect x="359.7" y="742.4" width="79.3" height="40.3" fill="none" stroke="#0a0a0a" stroke-width="1.6"/>
<rect x="437" y="743.3" width="4" height="14.6" fill="#fff"/>
<path d="M439 743.3v14.6" stroke="#b8b8b8" stroke-width=".6"/>
<text x="431.2" y="753.5" font-size="9.8" fill="#141414">0,82</text>
<path d="M471.1 742V844H573.6" fill="none" stroke="#c4c4c4" stroke-width=".7"/>
<path d="M575.1 742V844" fill="none" stroke="#d4d4d4" stroke-width=".7"/>
<path d="M471.1 844v2.6M471.1 844h-2.6M496.6 844v2.6M471.1 818.5h-2.6M522.1 844v2.6M471.1 793h-2.6M547.6 844v2.6M471.1 767.5h-2.6M573.1 844v2.6M471.1 742h-2.6" fill="none" stroke="#3a3a3a" stroke-width=".9"/>
<path d="M478.78 844.3v1.3M470.8 836.32h-1.3M483.27 844.3v1.3M470.8 831.83h-1.3M486.45 844.3v1.3M470.8 828.65h-1.3M488.92 844.3v1.3M470.8 826.18h-1.3M490.94 844.3v1.3M470.8 824.16h-1.3M492.65 844.3v1.3M470.8 822.45h-1.3M494.13 844.3v1.3M470.8 820.97h-1.3M495.43 844.3v1.3M470.8 819.67h-1.3M504.28 844.3v1.3M470.8 810.82h-1.3M508.77 844.3v1.3M470.8 806.33h-1.3M511.95 844.3v1.3M470.8 803.15h-1.3M514.42 844.3v1.3M470.8 800.68h-1.3M516.44 844.3v1.3M470.8 798.66h-1.3M518.15 844.3v1.3M470.8 796.95h-1.3M519.63 844.3v1.3M470.8 795.47h-1.3M520.93 844.3v1.3M470.8 794.17h-1.3M529.78 844.3v1.3M470.8 785.32h-1.3M534.27 844.3v1.3M470.8 780.83h-1.3M537.45 844.3v1.3M470.8 777.65h-1.3M539.92 844.3v1.3M470.8 775.18h-1.3M541.94 844.3v1.3M470.8 773.16h-1.3M543.65 844.3v1.3M470.8 771.45h-1.3M545.13 844.3v1.3M470.8 769.97h-1.3M546.43 844.3v1.3M470.8 768.67h-1.3M555.28 844.3v1.3M470.8 759.82h-1.3M559.77 844.3v1.3M470.8 755.33h-1.3M562.95 844.3v1.3M470.8 752.15h-1.3M565.42 844.3v1.3M470.8 749.68h-1.3M567.44 844.3v1.3M470.8 747.66h-1.3M569.15 844.3v1.3M470.8 745.95h-1.3M570.63 844.3v1.3M470.8 744.47h-1.3M571.93 844.3v1.3M470.8 743.17h-1.3" fill="none" stroke="#777" stroke-width=".8"/>
<path d="M565.13 797.47h.01M530.48 802.87h.01M565.36 775.56h.01M558.11 793.7h.01M549.49 821.98h.01M500.74 802.53h.01M517.26 758.76h.01M510.16 839.31h.01M505.53 755.34h.01M541.15 790.21h.01M533.35 755h.01M524.54 787.74h.01M529.48 790.41h.01M527.5 842.9h.01M482.78 747.41h.01M506.78 754.16h.01M474.54 818.37h.01M556.33 742.59h.01M490.12 763.58h.01M479.09 781.65h.01M524.93 762.55h.01M505.52 813.85h.01M540.68 823.16h.01M542.37 776.14h.01M505.49 806.49h.01M485.14 776.25h.01M495.1 780.61h.01M497.87 807.04h.01M493.87 806.78h.01M493.66 833.45h.01M523.56 781.87h.01M513.69 799.94h.01M501.54 778.56h.01M493.44 801.16h.01M492.77 763.53h.01M504.45 797.46h.01M498.87 783.46h.01M483.92 809.04h.01M490.47 816.43h.01M476.81 808.38h.01M510.01 813.03h.01M485.33 786.76h.01M478.9 805.37h.01M495.78 825.18h.01M494.88 827.28h.01M495.98 821.76h.01M520.5 808.91h.01M476.6 811.18h.01M503.99 798.25h.01M496.56 816.05h.01M532.18 791.79h.01M524.72 795.55h.01M495.16 797.47h.01M500.49 790.06h.01M489.4 799.64h.01M483.08 802.61h.01M520.7 788.88h.01M504.71 790.19h.01M478.6 803.39h.01M495.4 821.26h.01M514.43 805.33h.01M488.35 827.72h.01M475.53 790.09h.01M514.89 810.82h.01M512.85 799.73h.01M514.87 824.34h.01M519.53 785.32h.01M482.5 810.05h.01M512.78 803.29h.01M498.81 796.91h.01M520.61 765.82h.01M502.8 792.93h.01M512 797.96h.01M534.04 806.78h.01M490.5 774.79h.01M495.6 802.74h.01M531.13 810.09h.01M504.34 787.44h.01M504.84 786.51h.01M473.75 811.34h.01M492.24 779.91h.01M522.8 825.05h.01M509.48 774.51h.01M484.76 786.38h.01M518.35 801.57h.01M484.64 778.93h.01M486.81 806.55h.01M496.12 812.39h.01M510.99 783.42h.01M516.94 803.94h.01M531.86 801.07h.01M494.05 801.38h.01M524.55 812.55h.01M523.5 821.69h.01M499.28 799.44h.01M522.5 783.09h.01M507.2 821.03h.01M483.9 770.09h.01M473.79 823.38h.01M549.09 787.77h.01M475.91 781.29h.01M531.3 816.84h.01M514.2 790.72h.01M513.94 790.43h.01M512.12 790.08h.01M476.83 795.52h.01M509.2 809.16h.01M490.71 819.55h.01M512.82 800.64h.01M500.53 795.34h.01M511.51 807.33h.01M527.96 786.7h.01M477.05 801.07h.01M496.46 798h.01M541.95 765.16h.01M533.29 767.46h.01M514.58 765.54h.01M530.55 766.1h.01M522.15 761.04h.01M495.15 765.09h.01M501.78 767.27h.01M535.14 776.52h.01M517.22 751.34h.01M501.99 750.19h.01M517.67 761.81h.01M512.91 743.48h.01M537.09 766.54h.01M510.91 758.12h.01M475.1 757.95h.01M501.8 753.38h.01M513.11 769.51h.01M525.67 746.89h.01M537.7 760.04h.01M504.81 764.94h.01M531.01 762.81h.01M503.41 763.74h.01M517.57 781.76h.01M510.62 752.57h.01M547.59 776.32h.01M539.1 752.39h.01M498.69 748.15h.01M507.83 774.67h.01M528.72 762.12h.01M514.93 766.44h.01M507.69 751.32h.01M496.82 777.92h.01M492.04 750.45h.01M521.63 758.35h.01M503.81 763.19h.01M507.9 745.43h.01M529.06 763.8h.01M544.29 770h.01M499.24 757.36h.01M525.1 755.02h.01M530.08 763.39h.01M508.42 777.6h.01M492.21 778.92h.01M503.4 782.81h.01M533.62 756.57h.01M545.5 765.87h.01M517.75 757.79h.01M509.89 757.64h.01M504.23 769.51h.01M527.02 773.93h.01M534.68 760.98h.01M525.81 759.25h.01M522.36 767.88h.01M518.53 753.93h.01M487.8 778.55h.01M495.5 755.67h.01M518.76 757.99h.01M519.51 775.21h.01M480.75 762.66h.01M522.97 748.01h.01M525.64 776.28h.01M511.92 766.46h.01M505.38 771.43h.01M501.12 761.86h.01M498.05 754.71h.01M533.92 761.25h.01M528.86 746.16h.01M487.82 752.92h.01M548.69 773.24h.01M555.16 757.41h.01M523.23 765.4h.01M506.14 767.68h.01M510.76 766.53h.01M476.32 751.54h.01M491.7 778.33h.01M528.61 752.31h.01M521.1 756.22h.01M489.08 752.75h.01M569.98 762.7h.01M509.52 774.05h.01M516.84 750.95h.01M553.66 783.47h.01M526.97 753.46h.01M510.16 762.94h.01M489.55 787.76h.01M511.53 756.36h.01M506.09 758.59h.01M534.35 763.99h.01M520 761.08h.01M476.96 767.61h.01M524.78 751.68h.01M489.1 756.1h.01M503.43 755.98h.01M513.68 773.54h.01M493.48 746.56h.01M509.24 768.44h.01M539.66 771.05h.01M513.98 762.28h.01M477.33 768.59h.01M526.74 761.06h.01M505.4 765.87h.01M519.97 766.9h.01M519.56 746.85h.01M500.34 745.6h.01M526.94 787.12h.01M495.7 760.47h.01M516.22 754.89h.01M544.68 763.83h.01M553.64 784.18h.01M520.86 754.4h.01M537.26 759.19h.01M495.38 759.76h.01M533.48 753.96h.01M506.83 770.38h.01M505.71 770.51h.01M535.33 756.94h.01M488.04 750.19h.01M536.23 767.21h.01M512.79 757.97h.01M532.22 757.12h.01M564.77 764.93h.01M479.7 772.18h.01M516.29 761.66h.01M507.65 773.49h.01M501.62 777.04h.01M496.24 770.66h.01M481.71 771.21h.01M492.03 759.43h.01M525.99 754.23h.01M521.66 761.75h.01M536.82 770.55h.01M516.03 759.92h.01M493.48 775.54h.01M506.49 749.49h.01M495.38 743.33h.01M493.94 757.37h.01M515.9 770.69h.01M527.32 744h.01M501.61 767.57h.01M517.73 761.55h.01M495.47 768.6h.01M509.27 759.29h.01M508.75 759.47h.01M516.93 772.4h.01M512.37 755.49h.01M508.6 760.19h.01M520.61 769.12h.01M543.27 770.39h.01M477.66 753.44h.01M486.1 764.59h.01M556.99 766.14h.01M499.84 775.19h.01M523.11 753.72h.01M492.01 776.04h.01M496.1 767.15h.01M484.22 761.61h.01M493.57 745.37h.01M500.63 756.46h.01M516.27 744.91h.01M515.84 758.09h.01M479.31 773.43h.01M501.92 765.73h.01M541.47 765.66h.01M529.19 763.73h.01M499.29 763.55h.01M479.67 766.36h.01M527.04 765.87h.01M497.36 749.91h.01M496.01 758.86h.01M482.52 780.36h.01M494.71 762.92h.01M501.35 762.9h.01M510.04 761.27h.01M518.42 756.47h.01M526.84 763.81h.01M509.64 761.85h.01M531.5 761.34h.01M541.35 762.89h.01M515.4 761.7h.01M516.47 766.19h.01M498.21 769.38h.01M561.38 766.93h.01M512.85 753.88h.01M495.44 753.69h.01M515.75 754.96h.01M542.28 757.53h.01M492.89 752.82h.01M508.6 760.25h.01M528.94 754.64h.01M517.16 770.93h.01" fill="none" stroke="#757575" stroke-width=".58" stroke-linecap="round"/>
<path d="M526.37 822.8h.01M501.47 779.18h.01M519.03 822.19h.01M539.38 798.33h.01M484.24 784.56h.01M522.82 819.07h.01M547.82 782.94h.01M487.8 799.11h.01M514.89 839.77h.01M499.16 821.71h.01M482.15 818.85h.01M516.99 777.47h.01M506.14 825.61h.01M488.84 796.51h.01M540.26 830.72h.01M488.46 823.29h.01M492.39 833.59h.01M513.24 791.88h.01M493.61 780.28h.01M539.97 801.88h.01M484.83 808.39h.01M541.91 796.83h.01M528.91 817.33h.01M525.81 806.08h.01M495.48 807.01h.01M543.68 814.68h.01M495.5 783.35h.01M512.53 814.52h.01M476.31 819.85h.01M496.35 782.06h.01M538.05 801.19h.01M523.74 824.36h.01M522.06 780.78h.01M517.85 763.79h.01M529.02 782.75h.01M500.38 773.78h.01M493.64 779.55h.01M495.68 813.81h.01M489.95 812.6h.01M544.33 809.01h.01M505.64 759.26h.01M490.48 785.28h.01M533.12 787.85h.01M481.87 789.17h.01M527.35 771.93h.01M504.27 775.41h.01M514.24 777.14h.01M515.68 766.41h.01M505.32 779.49h.01M544.98 813.2h.01M514 814.91h.01M534.98 836.77h.01M511.16 765.59h.01M483.46 816.96h.01M502.85 801.66h.01M508.99 820.1h.01M506.91 754.49h.01M522.44 794.62h.01M528.5 838.63h.01M545.06 832.69h.01M474.56 798.29h.01M485.1 814.26h.01M490.42 830.78h.01M481.78 807.04h.01M513.3 783.41h.01M530.69 842.79h.01M514.14 818.86h.01M483.31 791.84h.01M491.13 812.91h.01M546.57 835.41h.01M473.35 820.96h.01M490.5 772.36h.01M543 802.38h.01M546.61 794.6h.01M480.67 807.6h.01M538.02 836.46h.01M534.86 802.98h.01M480.05 801.23h.01M543.06 832.04h.01M518.09 824.03h.01M485.26 772.78h.01M504.66 780.19h.01M502.45 813.98h.01M546.62 839.84h.01M494.8 763.82h.01M497.02 772.78h.01M488.43 781.62h.01M517.45 808.3h.01M495.43 794.59h.01M508.96 820.97h.01M539.07 811.48h.01M527.23 815.95h.01M515.82 808.16h.01M505.31 767.69h.01M521.44 813.78h.01M474.99 785.44h.01M494.18 766.32h.01M541.5 840.41h.01M526.3 790.53h.01M541.72 827.53h.01M488.91 791.7h.01M544.74 809.91h.01M547.02 795.54h.01M524.77 832.5h.01M503.06 815.05h.01M501.27 765.14h.01M515.29 815.55h.01M485.53 783.01h.01M539.11 783.36h.01M480.84 804.96h.01M508.29 821.7h.01M487.4 766.08h.01M529.33 796.46h.01M543.92 800.49h.01M540.7 774.61h.01M517.31 780.66h.01M491.4 821.65h.01M547.31 789.16h.01M546.56 829.75h.01M494.26 825.46h.01M535.84 832.62h.01M544 817.41h.01M516.36 814.08h.01M529.51 791.5h.01M497.56 783.88h.01M542.66 785.22h.01M544.64 816.16h.01M486.04 812.16h.01M492.38 787.17h.01M556.01 811.35h.01M519.55 815.1h.01M496.12 772.55h.01M546.48 816.7h.01M500.63 790.82h.01M499.67 776.92h.01M538.83 837.3h.01M503.37 783.77h.01M540.22 842.62h.01M484.15 817.58h.01M512.64 770.9h.01M509.71 811.76h.01M487.4 776.06h.01M534.73 770.88h.01M538.78 782.49h.01M507.65 782.92h.01M537.4 839.86h.01M487.26 764.79h.01M520.74 780.85h.01M499.69 772.5h.01M482.4 798.24h.01M481.93 789.59h.01M481.3 780.67h.01M500.99 764.97h.01M489.39 809.41h.01M492 823.89h.01M498.52 752.95h.01M544.12 786.35h.01M547.2 809.72h.01M547.55 840.45h.01M536.2 821.65h.01M526.75 784.97h.01M489.03 831.48h.01M543.77 836.29h.01M499.66 821.78h.01M539.17 835.5h.01M527.76 772.62h.01M490.51 802.94h.01M486.67 803.65h.01M518.99 789.31h.01M530.02 775.12h.01M505.95 766.38h.01M525.08 807.21h.01M490.49 782.81h.01M538.88 836.83h.01M532.57 840.43h.01M488.76 816.39h.01M537.41 817.93h.01M505.23 771.42h.01M494.84 821.5h.01M493.86 773.28h.01M548.07 813.06h.01M493.06 814.52h.01M488.13 767.89h.01M531.32 809.64h.01M542.14 837.05h.01M526.53 823.52h.01M516.52 780.68h.01M483.26 753.62h.01M496.04 765.84h.01M520.07 817.43h.01M489.65 793.74h.01M530.96 822.48h.01M513.74 769.26h.01M537.21 820.13h.01M495.8 825.63h.01M491.45 785.06h.01M488.57 788.02h.01M498.19 758.13h.01M497.09 793.9h.01M523.88 815.92h.01M487.57 807.22h.01M554.71 787.32h.01M478.49 824.03h.01M508.17 769.15h.01M496.93 812.87h.01M484.2 815.98h.01M514.88 788.16h.01M552.33 815.99h.01M499.6 835.53h.01M518.84 822.87h.01M489.82 785.03h.01M522.05 815.62h.01M499.95 821.6h.01M503.81 781.8h.01M536.96 842.4h.01M483.75 810.86h.01M525.27 829.51h.01M519.18 814.22h.01M545.85 798.75h.01M540.48 823.09h.01M481.09 811.33h.01M487 834.67h.01M541.08 827.84h.01M496.2 772.56h.01M520.06 780.33h.01M500.67 767.6h.01M501.13 767.75h.01M547.22 816.07h.01M508.13 770.61h.01M484.91 768.88h.01M507.66 776.9h.01M542.4 826.89h.01M504.48 812.15h.01M484.25 806.78h.01M511.83 770.22h.01M496.57 817.33h.01M525.01 777.8h.01M522.41 788.51h.01M491.95 803.08h.01M494.02 786.46h.01M534.13 777.99h.01M526.43 833.28h.01M500.15 823.92h.01M542.27 834.19h.01M507.42 803.1h.01M487.56 808.97h.01M514.75 785.25h.01M489.84 773.63h.01M524.99 766.99h.01M535.75 826.84h.01M502.51 767.39h.01M476.55 805.6h.01M548.16 817.42h.01M497.97 772.05h.01M500.6 764.67h.01M542.32 793.48h.01M481.64 789.56h.01M501.36 768.97h.01M540.95 830.92h.01M516.8 765.72h.01M517.98 822.63h.01M520.03 834.01h.01M500.87 811.23h.01M547.81 822.62h.01M495.47 811.06h.01M546.84 831.54h.01M517.08 812.72h.01M525.4 833.27h.01M528.69 833.98h.01M498 792.48h.01M519.68 774.33h.01M501.1 814.38h.01M494.97 783.84h.01M489.92 794.94h.01M537.21 816.38h.01M546.55 780.12h.01M535.54 823.2h.01M524.99 801.11h.01M530.17 766.21h.01M540.44 813.39h.01M548.15 836.65h.01M511.38 777.55h.01M533.92 800.83h.01M542.57 840.33h.01M503.35 760.29h.01M546.46 801.75h.01M526.51 770.82h.01M491.27 783.1h.01M491.86 793.16h.01M495.76 813.19h.01M501.12 823.37h.01M479.54 798.96h.01M516.41 777.58h.01M507.79 766.31h.01M501.99 760.39h.01M498.4 815.2h.01M541.58 836.88h.01M484.53 807.3h.01M497.97 766.23h.01M546.46 816.41h.01M496.14 817.04h.01M514 814.59h.01M535.01 783.55h.01M498.18 771.8h.01M524.98 825.28h.01M505.59 773.02h.01M547.25 801.39h.01M517.22 785.34h.01M546.47 803.75h.01M523.03 782.29h.01M497.12 796.23h.01M516.19 770.58h.01M524.67 809.17h.01M497.02 758.95h.01M482.16 792.84h.01M540.19 788.29h.01M525.43 802.17h.01M527.67 779.81h.01M534.29 839.58h.01M530.58 815.43h.01M525.3 818.92h.01M483.75 776.1h.01M510.43 811.16h.01M482.38 796.83h.01M542.99 814.96h.01M475.59 800.99h.01M506.93 827.88h.01M495.5 792.76h.01M483.53 793.28h.01M532.19 776.61h.01M509.6 788.24h.01M508.53 756.6h.01M495.91 785.61h.01M529.96 771.97h.01M537.11 819.21h.01M487.32 790.51h.01M545.87 786.63h.01M484.89 791.8h.01M533.43 780.83h.01M510.52 770.31h.01M480.12 819.33h.01M515.08 811.06h.01M538.34 836.5h.01M491.14 825.54h.01M531.63 786.52h.01M506.35 835.72h.01M532.37 840.95h.01M497.85 812.61h.01M489.54 789.65h.01M540.42 840.01h.01M527.38 779.62h.01M522.52 778.01h.01M488.83 818.97h.01M538.57 841.48h.01M485.53 785.88h.01M486.05 808.44h.01M504.11 761.13h.01M536.13 791.35h.01M498 784.72h.01M480.66 795.69h.01M543.17 810.06h.01M488.74 768.02h.01M509.25 767.02h.01M498.33 781.13h.01M491.87 785.93h.01M530.77 777.07h.01M544.37 802.23h.01M533.02 781.91h.01M494.84 802.27h.01M494.58 771.82h.01M495.07 764.35h.01M481.66 796.03h.01M533.73 798.36h.01M499.91 769.48h.01M541.14 804.9h.01M515.69 811.43h.01M521.48 798.55h.01M488.93 796.51h.01M521.56 789.87h.01M497.23 814.66h.01M527.14 836.57h.01M493.95 787.58h.01M542.49 780.18h.01M540.37 826.5h.01M523.44 768h.01M502.34 778.21h.01M496.19 766.63h.01M532.51 837.37h.01M494.66 815.94h.01M506.81 773.49h.01M508.36 765.84h.01M524.05 838.29h.01M490.39 785.85h.01M522.91 810.11h.01M498.9 810.05h.01M492.84 782.26h.01M542.09 836.96h.01M488.09 770.2h.01M528.57 838.42h.01M541.87 827.03h.01M491.99 764.36h.01M494.45 771.73h.01M501.86 823.27h.01M478.61 809.55h.01M542.92 825.78h.01M521.96 778.77h.01M487.48 794.72h.01M534.17 831.4h.01M489.79 773.46h.01M492.22 771.06h.01M522.94 832.66h.01M544.66 787.89h.01M521.69 803.19h.01M499.94 825.82h.01M514.83 807.08h.01M521.95 803.01h.01M541.48 821.1h.01M480.87 783.24h.01M483.78 807.59h.01M538.79 775.97h.01M497.9 786.73h.01M531.18 820.27h.01M501.1 768.76h.01M480.43 798.98h.01M491.45 791.23h.01M547.66 814.71h.01M535.83 831.59h.01M494.57 764.1h.01M487.19 805.45h.01M512.55 815.88h.01M482.87 763.18h.01M530.65 826.8h.01M532.01 806.93h.01M517.69 801.65h.01M541.67 839.72h.01M487.48 825.73h.01M493.93 787.02h.01M533.93 823.95h.01M531.11 833.95h.01M528.4 804.92h.01M542 826.08h.01M531.36 790.41h.01M491.03 790.88h.01M509.58 816.96h.01M533.51 831.34h.01M498.52 760.41h.01M529.23 788.97h.01M545.6 803.43h.01M504.91 836.58h.01M497.43 768.24h.01M535.46 791.39h.01M523.73 772.08h.01M533.36 838.68h.01M530.51 842.71h.01M518.3 790.47h.01M519.96 832.32h.01M530.59 841.82h.01M488.58 758.08h.01M497.61 761.99h.01M500.84 763.78h.01M486.2 834.52h.01M494.91 757.63h.01M489.02 801.86h.01M514.46 773.94h.01M542.23 827.85h.01M496.61 830.13h.01M544.26 807.29h.01M544.47 801.96h.01M503.22 761.98h.01" fill="none" stroke="#6c6c6c" stroke-width=".6" stroke-linecap="round"/>
<path d="M505.21 794.43h.01M519.56 830.12h.01M473.73 816.85h.01M547.92 804.58h.01M528.19 822.82h.01M503.43 820h.01M493.96 807.7h.01M488.92 833.21h.01M479.9 789.39h.01M518.8 759.59h.01M530.28 819.14h.01M546.92 798.64h.01M514.37 809.22h.01M509.02 820.67h.01M487.52 803.41h.01M541.53 776.61h.01M489.29 789.33h.01M493.81 771.99h.01M479.27 826.1h.01M535.41 808.3h.01M490.23 777.92h.01M497.65 806.3h.01M480.06 797.25h.01M537.71 817.72h.01M519.67 786.52h.01M538.49 799.71h.01M541.11 809.28h.01M520.12 770.18h.01M518.18 789.14h.01M510.42 830.49h.01M503.59 789.89h.01M514.56 816.92h.01M528.48 830.75h.01M501.65 777.96h.01M481.23 833.61h.01M480.28 815.61h.01M490.62 776.28h.01M544.43 807.66h.01M498.42 813.34h.01M529.99 787.48h.01M485.76 801.63h.01M496.42 768.3h.01M492.34 781.56h.01M531.62 802.15h.01M481.88 774.25h.01M518.64 765.94h.01M517.28 780.62h.01M530.95 776.16h.01M495.12 817.85h.01M504.14 823.83h.01M538.16 780.41h.01M524.73 830.64h.01M480.8 770h.01M533.54 814.97h.01M509.67 768.07h.01M527.84 832.6h.01M493.05 819.97h.01M510.04 801.17h.01M473.55 793.5h.01M514.81 771.1h.01M540.39 820.05h.01M518.82 833.98h.01M518 751.86h.01M526.36 824.01h.01M481.44 780.05h.01M518.33 785.14h.01M494.29 770.57h.01M536.7 821.18h.01M489.28 801.06h.01M534.22 804.66h.01M537.86 790.78h.01M492.22 771.2h.01M505.88 839.61h.01M494.61 823.61h.01M529.17 836.94h.01M539.88 824.9h.01M529.46 793.12h.01M526.65 806.58h.01M545.12 837.86h.01M511.83 818.16h.01M519.1 823.74h.01M532.81 779.11h.01M521.17 784.42h.01M542.4 815.21h.01M525.77 781.1h.01M523.03 804.81h.01M503.82 786.98h.01M510.89 775.86h.01M527.65 816.52h.01M508.98 766.39h.01M534 787.62h.01M510.63 813.29h.01M534.14 813.57h.01M484.54 801.08h.01M531.11 814.76h.01M531.13 798.38h.01M529.35 771.9h.01M527.65 825.35h.01M489.95 806.31h.01M475.07 815.69h.01M528.22 783.69h.01M540.54 838.17h.01M486.44 763.09h.01M517.27 752.98h.01M522.67 767.35h.01M500.36 803.51h.01M523.81 817.14h.01M488.7 826.53h.01M544.55 807.6h.01M495.67 831.08h.01M507.13 817.36h.01M512.6 805.15h.01M539.52 823.54h.01M545.33 799.42h.01M482.66 776.69h.01M500.13 824.86h.01M516.51 787.93h.01M530.04 798.66h.01M547.83 792.44h.01M545.11 838.52h.01M528.11 809.88h.01M521.98 773.88h.01M481.1 820.59h.01M496.33 806.41h.01M506.93 777.51h.01M503.1 830.81h.01M477.77 820.22h.01M511.19 772.44h.01M493.26 771.04h.01M480.98 800.86h.01M530.63 831.8h.01M508.01 785.34h.01M545.38 821.03h.01M528.59 823.72h.01M494.74 773.18h.01M472.52 784.48h.01M520.66 779.98h.01M487.69 821.02h.01M483.22 819.51h.01M524.05 830.88h.01M543.84 803.54h.01M537.9 820.61h.01M527.81 799.85h.01M543.25 778.37h.01M553.52 822.56h.01M516.53 840.1h.01M526.65 839.17h.01M485.34 800.39h.01M509.6 769.88h.01M485.2 797.97h.01M525.19 802.22h.01M495.39 807.8h.01M486.47 786.53h.01M554.51 825.75h.01M495.05 804.28h.01M511.58 757.56h.01M517.67 822.61h.01M502.44 750.06h.01M552.11 814.95h.01M539.62 823.03h.01M483.77 821.18h.01M506.69 808.52h.01M501.49 778.24h.01M538.25 811.34h.01M500.13 820.5h.01M482.82 778.84h.01M498.87 812.47h.01M535.07 804.71h.01M520.74 750.79h.01M527.1 771.42h.01M543.2 808.41h.01" fill="none" stroke="#777" stroke-width=".58" stroke-linecap="round"/>
<g transform="translate(455 720) scale(.24795)">
<path d="M182 119L191 131L182 141L173 131Z" fill="#000"/>
<clipPath id="c10o"><path d="M122 314C123 297 120 305 124 287C128 269 126 276 134 261C142 246 138 253 147 241C156 229 155 237 161 224C167 211 163 218 166 201C169 184 166 189 171 174C176 159 172 159 181 155C190 151 187 152 197 161C207 170 202 168 211 181C220 194 214 189 224 201C234 213 229 207 241 217C253 227 248 228 261 231C274 234 268 225 281 227C294 229 287 235 301 237C315 239 309 232 324 234C339 236 334 234 347 244C360 254 355 247 364 264C373 281 370 273 373 294C376 315 375 304 374 327C373 350 373 339 369 364C365 389 367 378 361 401C355 424 358 413 351 434C344 455 350 448 341 464C332 480 336 478 324 481C312 484 315 485 306 474C297 463 303 467 297 447C291 427 293 436 289 414C285 392 288 401 284 381C280 361 285 369 277 354C269 339 273 343 261 337C249 331 253 334 241 337C229 340 236 338 224 347C212 356 217 353 204 364C191 375 196 369 184 381C172 393 178 392 167 401C156 410 161 412 151 407C141 402 145 402 137 387C129 372 132 378 127 361C122 344 124 353 122 337C120 321 121 331 122 314Z"/></clipPath><clipPath id="c10"><path d="M134 314C134 299 132 306 135 289C138 273 136 280 143 266C150 251 146 259 155 247C164 234 163 243 170 229C178 214 173 220 177 203C181 186 179 191 181 178C183 164 180 166 184 163C188 159 186 159 193 167C200 174 197 172 205 185C214 198 208 193 219 205C229 218 223 212 237 222C250 233 245 234 260 238C274 242 267 232 280 234C293 236 286 242 300 244C314 246 309 239 323 241C337 243 331 241 343 250C354 258 350 252 358 267C366 283 363 275 366 295C369 315 368 304 366 327C364 349 365 338 360 362C355 386 358 376 352 399C345 421 348 411 341 431C334 451 338 447 331 458C324 469 325 462 320 464C316 465 321 470 318 463C314 456 315 460 310 443C305 426 306 433 302 411C298 390 301 400 297 378C293 357 300 366 290 347C280 328 286 330 268 321C250 312 254 316 236 320C219 325 229 324 216 335C202 346 209 341 195 353C181 365 187 360 174 371C162 383 165 383 159 389C153 395 159 393 156 390C154 387 155 391 150 380C145 369 145 372 140 357C135 342 137 350 135 336C133 321 134 330 134 314Z"/></clipPath>
<path d="M122 314C123 297 120 305 124 287C128 269 126 276 134 261C142 246 138 253 147 241C156 229 155 237 161 224C167 211 163 218 166 201C169 184 166 189 171 174C176 159 172 159 181 155C190 151 187 152 197 161C207 170 202 168 211 181C220 194 214 189 224 201C234 213 229 207 241 217C253 227 248 228 261 231C274 234 268 225 281 227C294 229 287 235 301 237C315 239 309 232 324 234C339 236 334 234 347 244C360 254 355 247 364 264C373 281 370 273 373 294C376 315 375 304 374 327C373 350 373 339 369 364C365 389 367 378 361 401C355 424 358 413 351 434C344 455 350 448 341 464C332 480 336 478 324 481C312 484 315 485 306 474C297 463 303 467 297 447C291 427 293 436 289 414C285 392 288 401 284 381C280 361 285 369 277 354C269 339 273 343 261 337C249 331 253 334 241 337C229 340 236 338 224 347C212 356 217 353 204 364C191 375 196 369 184 381C172 393 178 392 167 401C156 410 161 412 151 407C141 402 145 402 137 387C129 372 132 378 127 361C122 344 124 353 122 337C120 321 121 331 122 314Z" fill="#000"/>
<g clip-path="url(#c10o)"><g clip-path="url(#c10)">
<path d="M134 314C134 299 132 306 135 289C138 273 136 280 143 266C150 251 146 259 155 247C164 234 163 243 170 229C178 214 173 220 177 203C181 186 179 191 181 178C183 164 180 166 184 163C188 159 186 159 193 167C200 174 197 172 205 185C214 198 208 193 219 205C229 218 223 212 237 222C250 233 245 234 260 238C274 242 267 232 280 234C293 236 286 242 300 244C314 246 309 239 323 241C337 243 331 241 343 250C354 258 350 252 358 267C366 283 363 275 366 295C369 315 368 304 366 327C364 349 365 338 360 362C355 386 358 376 352 399C345 421 348 411 341 431C334 451 338 447 331 458C324 469 325 462 320 464C316 465 321 470 318 463C314 456 315 460 310 443C305 426 306 433 302 411C298 390 301 400 297 378C293 357 300 366 290 347C280 328 286 330 268 321C250 312 254 316 236 320C219 325 229 324 216 335C202 346 209 341 195 353C181 365 187 360 174 371C162 383 165 383 159 389C153 395 159 393 156 390C154 387 155 391 150 380C145 369 145 372 140 357C135 342 137 350 135 336C133 321 134 330 134 314Z" fill="#dedede"/>
<path d="M134 314C134 299 132 306 135 289C138 273 136 280 143 266C150 251 146 259 155 247C164 234 163 243 170 229C178 214 173 220 177 203C181 186 179 191 181 178C183 164 180 166 184 163C188 159 186 159 193 167C200 174 197 172 205 185C214 198 208 193 219 205C229 218 223 212 237 222C250 233 245 234 260 238C274 242 267 232 280 234C293 236 286 242 300 244C314 246 309 239 323 241C337 243 331 241 343 250C354 258 350 252 358 267C366 283 363 275 366 295C369 315 368 304 366 327C364 349 365 338 360 362C355 386 358 376 352 399C345 421 348 411 341 431C334 451 338 447 331 458C324 469 325 462 320 464C316 465 321 470 318 463C314 456 315 460 310 443C305 426 306 433 302 411C298 390 301 400 297 378C293 357 300 366 290 347C280 328 286 330 268 321C250 312 254 316 236 320C219 325 229 324 216 335C202 346 209 341 195 353C181 365 187 360 174 371C162 383 165 383 159 389C153 395 159 393 156 390C154 387 155 391 150 380C145 369 145 372 140 357C135 342 137 350 135 336C133 321 134 330 134 314Z" fill="none" stroke="#101010" stroke-width="26" opacity=".8" filter="url(#bl)"/>
<path d="M134 314C134 299 132 306 135 289C138 273 136 280 143 266C150 251 146 259 155 247C164 234 163 243 170 229C178 214 173 220 177 203C181 186 179 191 181 178C183 164 180 166 184 163C188 159 186 159 193 167C200 174 197 172 205 185C214 198 208 193 219 205C229 218 223 212 237 222C250 233 245 234 260 238C274 242 267 232 280 234C293 236 286 242 300 244C314 246 309 239 323 241C337 243 331 241 343 250C354 258 350 252 358 267C366 283 363 275 366 295C369 315 368 304 366 327C364 349 365 338 360 362C355 386 358 376 352 399C345 421 348 411 341 431C334 451 338 447 331 458C324 469 325 462 320 464C316 465 321 470 318 463C314 456 315 460 310 443C305 426 306 433 302 411C298 390 301 400 297 378C293 357 300 366 290 347C280 328 286 330 268 321C250 312 254 316 236 320C219 325 229 324 216 335C202 346 209 341 195 353C181 365 187 360 174 371C162 383 165 383 159 389C153 395 159 393 156 390C154 387 155 391 150 380C145 369 145 372 140 357C135 342 137 350 135 336C133 321 134 330 134 314Z" fill="none" stroke="#e4e4e4" stroke-width="2.2" opacity=".45"/>
<radialGradient id="g24" gradientUnits="userSpaceOnUse" cx="181" cy="286" r="64" gradientTransform="translate(181 286) rotate(-25) scale(1 .86) translate(-181 -286)"><stop offset="0" stop-color="#111" stop-opacity=".97"/><stop offset=".35" stop-color="#111" stop-opacity=".73"/><stop offset="1" stop-color="#111" stop-opacity="0"/></radialGradient>
<rect x="53" y="158" width="256" height="256" fill="url(#g24)"/>
<radialGradient id="g25" gradientUnits="userSpaceOnUse" cx="316" cy="442" r="26" gradientTransform="translate(316 442) rotate(10) scale(1 1.54) translate(-316 -442)"><stop offset="0" stop-color="#1a1a1a" stop-opacity=".8"/><stop offset=".5" stop-color="#1a1a1a" stop-opacity=".6"/><stop offset="1" stop-color="#1a1a1a" stop-opacity="0"/></radialGradient>
<rect x="236" y="362" width="160" height="160" fill="url(#g25)"/>
<path d="M306 294.75A30 30 0 1 1 364.79 303.42L323.61 444.2A9.6 9.6 0 0 1 304.8 441.42Z" fill="#b4b4b4" filter="url(#bl)" opacity=".9"/>
<path d="M312.51 298.34A24.5 24.5 0 1 1 360.21 306.83L324.8 411.79A7.84 7.84 0 0 1 309.54 409.07Z" fill="#a2a2a2" stroke="#fff" stroke-width="3.4" stroke-linejoin="round"/>
<path d="M320.51 302.29A17.5 17.5 0 1 1 354.35 309.23L328.36 377.51A5.6 5.6 0 0 1 317.53 375.29Z" fill="#848484" stroke="#fff" stroke-width="3.4" stroke-linejoin="round"/>
<path d="M329.01 307.48A10 10 0 1 1 348.13 311.07L336.51 337.16A3.2 3.2 0 0 1 330.39 336.01Z" fill="#4a4a4a" stroke="#fff" stroke-width="3.2" stroke-linejoin="round"/>
</g></g>
<path d="M160 225C158 216 162 218 166 201C170 184 166 189 171 174C176 159 172 159 181 155C190 151 187 152 197 161C207 170 202 168 211 181C220 194 214 189 224 201C234 213 228 207 241 217C254 227 248 228 262 231C276 234 269 225 282 227C295 229 296 231 302 237C308 243 309 242 300 244C291 246 292 245 275 242C258 239 267 241 250 236C233 231 243 231 225 226C207 221 213 219 195 220C177 221 184 226 172 228C160 230 162 234 160 225Z" fill="#000"/>
</g>
<rect x="479.3" y="742.4" width="71.9" height="33.6" fill="none" stroke="#0a0a0a" stroke-width="1.6"/>
<text x="553.8" y="753.5" font-size="9.8" fill="#141414">1,70</text>
<text transform="translate(590.4 794.5) rotate(-90)" font-size="12.9" font-weight="bold" stroke="#000" stroke-width=".3" text-anchor="middle"><tspan font-style="italic">p</tspan>R, 50 mM NaCl</text>
</g>
</svg>
</body></html>
